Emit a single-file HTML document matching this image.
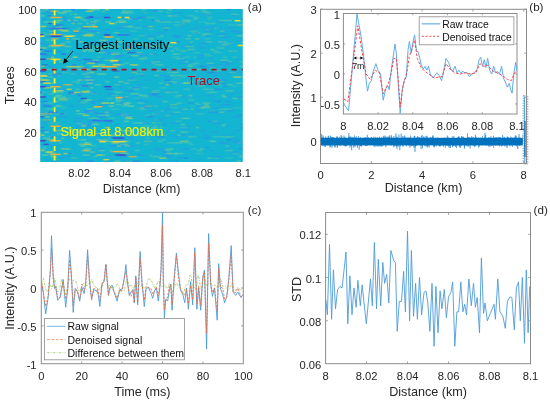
<!DOCTYPE html>
<html><head><meta charset="utf-8"><style>
html,body{margin:0;padding:0;background:#fff;overflow:hidden}
svg{display:block;will-change:transform}
text{font-family:"Liberation Sans",sans-serif}
</style></head><body>
<svg width="550" height="401" viewBox="0 0 550 401">
<rect width="550" height="401" fill="#fff"/>
<rect x="40.2" y="9.0" width="202.60" height="153.00" fill="#12b6d0"/>
<defs><linearGradient id="sb"><stop offset="0" stop-color="#2a96e8" stop-opacity="0"/><stop offset=".25" stop-color="#2a96e8"/><stop offset=".75" stop-color="#2a96e8"/><stop offset="1" stop-color="#2a96e8" stop-opacity="0"/></linearGradient><linearGradient id="sg"><stop offset="0" stop-color="#66c8a0" stop-opacity="0"/><stop offset=".25" stop-color="#66c8a0"/><stop offset=".75" stop-color="#66c8a0"/><stop offset="1" stop-color="#66c8a0" stop-opacity="0"/></linearGradient><linearGradient id="b"><stop offset="0" stop-color="#2f78e4" stop-opacity="0"/><stop offset=".25" stop-color="#2f78e4"/><stop offset=".75" stop-color="#2f78e4"/><stop offset="1" stop-color="#2f78e4" stop-opacity="0"/></linearGradient><linearGradient id="d"><stop offset="0" stop-color="#3c4cc8" stop-opacity="0"/><stop offset=".25" stop-color="#3c4cc8"/><stop offset=".75" stop-color="#3c4cc8"/><stop offset="1" stop-color="#3c4cc8" stop-opacity="0"/></linearGradient><linearGradient id="g"><stop offset="0" stop-color="#9cc868" stop-opacity="0"/><stop offset=".25" stop-color="#9cc868"/><stop offset=".75" stop-color="#9cc868"/><stop offset="1" stop-color="#9cc868" stop-opacity="0"/></linearGradient><linearGradient id="y"><stop offset="0" stop-color="#efd834" stop-opacity="0"/><stop offset=".25" stop-color="#efd834"/><stop offset=".75" stop-color="#efd834"/><stop offset="1" stop-color="#efd834" stop-opacity="0"/></linearGradient><linearGradient id="o"><stop offset="0" stop-color="#eab23c" stop-opacity="0"/><stop offset=".25" stop-color="#eab23c"/><stop offset=".75" stop-color="#eab23c"/><stop offset="1" stop-color="#eab23c" stop-opacity="0"/></linearGradient><clipPath id="ca"><rect x="40.2" y="9.0" width="202.60" height="153.00"/></clipPath></defs>
<g clip-path="url(#ca)">
<rect x="96.8" y="9.00" width="4.0" height="1.53" fill="url(#sg)" opacity="0.79"/>
<rect x="200.5" y="9.00" width="6.4" height="1.53" fill="url(#sg)" opacity="0.40"/>
<rect x="87.4" y="9.00" width="8.0" height="1.53" fill="url(#sg)" opacity="0.63"/>
<rect x="241.9" y="9.00" width="9.0" height="1.53" fill="url(#sg)" opacity="0.65"/>
<rect x="79.1" y="9.00" width="8.9" height="1.53" fill="url(#sb)" opacity="0.33"/>
<rect x="41.6" y="9.00" width="7.7" height="1.53" fill="url(#sg)" opacity="0.85"/>
<rect x="165.5" y="9.00" width="8.0" height="1.53" fill="url(#sg)" opacity="0.39"/>
<rect x="36.7" y="9.00" width="9.5" height="1.53" fill="url(#sb)" opacity="0.42"/>
<rect x="111.3" y="9.00" width="10.6" height="1.53" fill="url(#sb)" opacity="0.39"/>
<rect x="90.0" y="9.00" width="8.1" height="1.53" fill="url(#sg)" opacity="0.81"/>
<rect x="167.6" y="9.00" width="4.7" height="1.53" fill="url(#sg)" opacity="0.49"/>
<rect x="140.1" y="9.00" width="6.9" height="1.53" fill="url(#sg)" opacity="0.51"/>
<rect x="46.6" y="9.00" width="6.6" height="1.53" fill="url(#sb)" opacity="0.39"/>
<rect x="104.3" y="9.00" width="5.2" height="1.53" fill="url(#g)" opacity="0.77"/>
<rect x="70.5" y="9.00" width="4.8" height="1.53" fill="url(#b)" opacity="0.66"/>
<rect x="225.7" y="9.00" width="6.4" height="1.53" fill="url(#b)" opacity="0.50"/>
<rect x="61.7" y="10.53" width="11.6" height="1.53" fill="url(#sg)" opacity="0.84"/>
<rect x="153.0" y="10.53" width="5.5" height="1.53" fill="url(#sb)" opacity="0.62"/>
<rect x="149.4" y="10.53" width="11.1" height="1.53" fill="url(#sb)" opacity="0.52"/>
<rect x="153.0" y="10.53" width="7.3" height="1.53" fill="url(#sb)" opacity="0.38"/>
<rect x="42.1" y="10.53" width="7.7" height="1.53" fill="url(#sg)" opacity="0.63"/>
<rect x="101.4" y="10.53" width="4.2" height="1.53" fill="url(#sg)" opacity="0.52"/>
<rect x="40.5" y="10.53" width="11.7" height="1.53" fill="url(#sb)" opacity="0.69"/>
<rect x="123.5" y="10.53" width="11.0" height="1.53" fill="url(#sg)" opacity="0.51"/>
<rect x="157.3" y="10.53" width="6.8" height="1.53" fill="url(#sg)" opacity="0.48"/>
<rect x="193.8" y="10.53" width="5.2" height="1.53" fill="url(#sg)" opacity="0.63"/>
<rect x="35.3" y="10.53" width="10.5" height="1.53" fill="url(#sg)" opacity="0.38"/>
<rect x="121.6" y="10.53" width="4.1" height="1.53" fill="url(#sg)" opacity="0.68"/>
<rect x="199.6" y="10.53" width="9.8" height="1.53" fill="url(#sg)" opacity="0.38"/>
<rect x="75.6" y="10.53" width="5.4" height="1.53" fill="url(#sb)" opacity="0.51"/>
<rect x="48.7" y="10.53" width="11.8" height="1.53" fill="url(#o)" opacity="0.68"/>
<rect x="84.4" y="10.53" width="9.9" height="1.53" fill="url(#g)" opacity="0.86"/>
<rect x="217.4" y="12.06" width="11.4" height="1.53" fill="url(#sb)" opacity="0.32"/>
<rect x="123.9" y="12.06" width="11.6" height="1.53" fill="url(#sg)" opacity="0.45"/>
<rect x="202.3" y="12.06" width="9.7" height="1.53" fill="url(#sg)" opacity="0.52"/>
<rect x="236.9" y="12.06" width="7.2" height="1.53" fill="url(#sb)" opacity="0.37"/>
<rect x="44.8" y="12.06" width="11.3" height="1.53" fill="url(#sb)" opacity="0.80"/>
<rect x="57.6" y="12.06" width="7.8" height="1.53" fill="url(#sg)" opacity="0.66"/>
<rect x="171.7" y="12.06" width="11.7" height="1.53" fill="url(#sb)" opacity="0.46"/>
<rect x="165.2" y="12.06" width="5.5" height="1.53" fill="url(#sg)" opacity="0.32"/>
<rect x="120.0" y="12.06" width="10.5" height="1.53" fill="url(#sg)" opacity="0.74"/>
<rect x="57.8" y="12.06" width="10.4" height="1.53" fill="url(#sg)" opacity="0.83"/>
<rect x="143.4" y="12.06" width="4.4" height="1.53" fill="url(#sg)" opacity="0.31"/>
<rect x="73.3" y="13.59" width="4.3" height="1.53" fill="url(#sg)" opacity="0.65"/>
<rect x="68.8" y="13.59" width="4.2" height="1.53" fill="url(#sg)" opacity="0.49"/>
<rect x="229.9" y="13.59" width="10.5" height="1.53" fill="url(#sg)" opacity="0.53"/>
<rect x="161.6" y="13.59" width="8.6" height="1.53" fill="url(#sb)" opacity="0.31"/>
<rect x="201.4" y="13.59" width="10.8" height="1.53" fill="url(#sg)" opacity="0.32"/>
<rect x="104.8" y="13.59" width="4.9" height="1.53" fill="url(#sb)" opacity="0.68"/>
<rect x="200.5" y="13.59" width="10.9" height="1.53" fill="url(#sb)" opacity="0.58"/>
<rect x="167.4" y="15.12" width="4.8" height="1.53" fill="url(#sg)" opacity="0.53"/>
<rect x="166.0" y="15.12" width="10.4" height="1.53" fill="url(#sg)" opacity="0.41"/>
<rect x="184.8" y="15.12" width="11.1" height="1.53" fill="url(#sg)" opacity="0.36"/>
<rect x="39.8" y="15.12" width="5.7" height="1.53" fill="url(#sg)" opacity="0.64"/>
<rect x="231.3" y="15.12" width="6.0" height="1.53" fill="url(#sb)" opacity="0.46"/>
<rect x="171.3" y="15.12" width="7.0" height="1.53" fill="url(#sb)" opacity="0.35"/>
<rect x="172.4" y="15.12" width="7.0" height="1.53" fill="url(#sg)" opacity="0.43"/>
<rect x="46.6" y="15.12" width="4.7" height="1.53" fill="url(#b)" opacity="0.68"/>
<rect x="96.7" y="16.65" width="10.1" height="1.53" fill="url(#sb)" opacity="0.38"/>
<rect x="62.0" y="16.65" width="4.7" height="1.53" fill="url(#sb)" opacity="0.84"/>
<rect x="90.4" y="16.65" width="10.7" height="1.53" fill="url(#sb)" opacity="0.67"/>
<rect x="73.2" y="16.65" width="11.1" height="1.53" fill="url(#sg)" opacity="0.53"/>
<rect x="182.5" y="16.65" width="9.8" height="1.53" fill="url(#sb)" opacity="0.57"/>
<rect x="206.5" y="16.65" width="7.0" height="1.53" fill="url(#sg)" opacity="0.32"/>
<rect x="142.4" y="16.65" width="5.5" height="1.53" fill="url(#sg)" opacity="0.39"/>
<rect x="146.0" y="16.65" width="11.2" height="1.53" fill="url(#sg)" opacity="0.34"/>
<rect x="72.6" y="16.65" width="9.2" height="1.53" fill="url(#sg)" opacity="0.73"/>
<rect x="242.1" y="16.65" width="10.7" height="1.53" fill="url(#sg)" opacity="0.57"/>
<rect x="116.6" y="16.65" width="5.5" height="1.53" fill="url(#sg)" opacity="0.76"/>
<rect x="192.3" y="16.65" width="7.6" height="1.53" fill="url(#sg)" opacity="0.43"/>
<rect x="121.8" y="16.65" width="10.8" height="1.53" fill="url(#sb)" opacity="0.63"/>
<rect x="136.0" y="16.65" width="11.4" height="1.53" fill="url(#b)" opacity="0.55"/>
<rect x="192.8" y="18.18" width="5.2" height="1.53" fill="url(#sg)" opacity="0.55"/>
<rect x="206.4" y="18.18" width="5.0" height="1.53" fill="url(#sg)" opacity="0.33"/>
<rect x="240.3" y="18.18" width="5.4" height="1.53" fill="url(#sb)" opacity="0.50"/>
<rect x="127.3" y="18.18" width="5.5" height="1.53" fill="url(#sg)" opacity="0.85"/>
<rect x="79.5" y="18.18" width="4.5" height="1.53" fill="url(#sg)" opacity="0.58"/>
<rect x="41.0" y="18.18" width="6.5" height="1.53" fill="url(#sb)" opacity="0.73"/>
<rect x="129.1" y="18.18" width="12.0" height="1.53" fill="url(#sb)" opacity="0.83"/>
<rect x="225.3" y="18.18" width="7.2" height="1.53" fill="url(#sb)" opacity="0.38"/>
<rect x="60.3" y="18.18" width="8.0" height="1.53" fill="url(#sb)" opacity="0.37"/>
<rect x="72.5" y="19.71" width="6.1" height="1.53" fill="url(#sg)" opacity="0.62"/>
<rect x="93.2" y="19.71" width="9.0" height="1.53" fill="url(#sg)" opacity="0.62"/>
<rect x="116.7" y="19.71" width="11.0" height="1.53" fill="url(#sg)" opacity="0.41"/>
<rect x="62.6" y="19.71" width="11.8" height="1.53" fill="url(#sb)" opacity="0.86"/>
<rect x="82.3" y="19.71" width="5.7" height="1.53" fill="url(#sg)" opacity="0.60"/>
<rect x="138.0" y="19.71" width="4.3" height="1.53" fill="url(#sg)" opacity="0.41"/>
<rect x="159.4" y="19.71" width="5.9" height="1.53" fill="url(#sb)" opacity="0.46"/>
<rect x="217.9" y="19.71" width="10.6" height="1.53" fill="url(#sg)" opacity="0.57"/>
<rect x="181.8" y="19.71" width="9.5" height="1.53" fill="url(#sg)" opacity="0.56"/>
<rect x="97.1" y="19.71" width="10.1" height="1.53" fill="url(#sb)" opacity="0.40"/>
<rect x="226.0" y="19.71" width="6.6" height="1.53" fill="url(#sg)" opacity="0.63"/>
<rect x="66.6" y="19.71" width="4.7" height="1.53" fill="url(#sg)" opacity="0.88"/>
<rect x="154.2" y="19.71" width="6.3" height="1.53" fill="url(#sg)" opacity="0.58"/>
<rect x="180.8" y="19.71" width="11.6" height="1.53" fill="url(#sg)" opacity="0.45"/>
<rect x="55.5" y="19.71" width="8.4" height="1.53" fill="url(#g)" opacity="0.58"/>
<rect x="150.9" y="19.71" width="4.1" height="1.53" fill="url(#b)" opacity="0.52"/>
<rect x="119.5" y="21.24" width="8.2" height="1.53" fill="url(#sg)" opacity="0.74"/>
<rect x="51.9" y="21.24" width="8.5" height="1.53" fill="url(#sg)" opacity="0.86"/>
<rect x="42.5" y="21.24" width="9.0" height="1.53" fill="url(#sg)" opacity="0.63"/>
<rect x="49.7" y="21.24" width="5.8" height="1.53" fill="url(#sg)" opacity="0.42"/>
<rect x="217.5" y="21.24" width="7.6" height="1.53" fill="url(#sb)" opacity="0.56"/>
<rect x="181.7" y="21.24" width="10.5" height="1.53" fill="url(#sg)" opacity="0.46"/>
<rect x="163.6" y="21.24" width="9.4" height="1.53" fill="url(#sg)" opacity="0.52"/>
<rect x="118.9" y="21.24" width="7.2" height="1.53" fill="url(#sg)" opacity="0.75"/>
<rect x="113.6" y="21.24" width="10.0" height="1.53" fill="url(#sg)" opacity="0.60"/>
<rect x="104.7" y="21.24" width="7.0" height="1.53" fill="url(#sg)" opacity="0.81"/>
<rect x="198.0" y="21.24" width="9.7" height="1.53" fill="url(#sg)" opacity="0.31"/>
<rect x="115.5" y="21.24" width="8.6" height="1.53" fill="url(#sg)" opacity="0.63"/>
<rect x="172.9" y="21.24" width="8.7" height="1.53" fill="url(#sg)" opacity="0.45"/>
<rect x="72.5" y="21.24" width="6.3" height="1.53" fill="url(#sb)" opacity="0.56"/>
<rect x="242.6" y="21.24" width="7.6" height="1.53" fill="url(#sb)" opacity="0.43"/>
<rect x="155.5" y="21.24" width="11.1" height="1.53" fill="url(#sg)" opacity="0.43"/>
<rect x="89.9" y="21.24" width="8.0" height="1.53" fill="url(#sg)" opacity="0.71"/>
<rect x="49.5" y="21.24" width="6.5" height="1.53" fill="url(#sg)" opacity="0.60"/>
<rect x="206.8" y="22.77" width="10.1" height="1.53" fill="url(#sg)" opacity="0.46"/>
<rect x="112.1" y="22.77" width="5.6" height="1.53" fill="url(#sg)" opacity="0.49"/>
<rect x="181.6" y="22.77" width="4.5" height="1.53" fill="url(#sg)" opacity="0.56"/>
<rect x="204.7" y="22.77" width="4.5" height="1.53" fill="url(#sg)" opacity="0.54"/>
<rect x="85.5" y="22.77" width="7.0" height="1.53" fill="url(#sg)" opacity="0.68"/>
<rect x="88.0" y="22.77" width="8.2" height="1.53" fill="url(#sg)" opacity="0.68"/>
<rect x="76.6" y="22.77" width="6.3" height="1.53" fill="url(#sg)" opacity="0.48"/>
<rect x="87.7" y="22.77" width="7.4" height="1.53" fill="url(#sb)" opacity="0.76"/>
<rect x="182.2" y="22.77" width="5.1" height="1.53" fill="url(#sb)" opacity="0.41"/>
<rect x="108.2" y="22.77" width="6.8" height="1.53" fill="url(#y)" opacity="0.80"/>
<rect x="47.4" y="22.77" width="5.1" height="1.53" fill="url(#d)" opacity="0.70"/>
<rect x="70.7" y="22.77" width="5.1" height="1.53" fill="url(#g)" opacity="0.55"/>
<rect x="234.8" y="24.30" width="5.5" height="1.53" fill="url(#sb)" opacity="0.36"/>
<rect x="133.1" y="24.30" width="7.7" height="1.53" fill="url(#sb)" opacity="0.36"/>
<rect x="90.4" y="24.30" width="5.5" height="1.53" fill="url(#sg)" opacity="0.67"/>
<rect x="119.0" y="24.30" width="10.5" height="1.53" fill="url(#sb)" opacity="0.40"/>
<rect x="226.9" y="24.30" width="9.3" height="1.53" fill="url(#sg)" opacity="0.32"/>
<rect x="172.6" y="24.30" width="10.2" height="1.53" fill="url(#sg)" opacity="0.37"/>
<rect x="53.2" y="24.30" width="11.3" height="1.53" fill="url(#b)" opacity="0.83"/>
<rect x="235.3" y="24.30" width="9.4" height="1.53" fill="url(#g)" opacity="0.50"/>
<rect x="141.2" y="25.83" width="9.8" height="1.53" fill="url(#sb)" opacity="0.54"/>
<rect x="122.0" y="25.83" width="10.0" height="1.53" fill="url(#sg)" opacity="0.50"/>
<rect x="50.4" y="25.83" width="5.5" height="1.53" fill="url(#sb)" opacity="0.48"/>
<rect x="127.6" y="25.83" width="6.2" height="1.53" fill="url(#sg)" opacity="0.84"/>
<rect x="176.1" y="25.83" width="7.2" height="1.53" fill="url(#sg)" opacity="0.30"/>
<rect x="198.4" y="25.83" width="5.1" height="1.53" fill="url(#sb)" opacity="0.58"/>
<rect x="177.4" y="25.83" width="6.1" height="1.53" fill="url(#sb)" opacity="0.63"/>
<rect x="90.2" y="25.83" width="5.0" height="1.53" fill="url(#sg)" opacity="0.79"/>
<rect x="58.7" y="25.83" width="4.3" height="1.53" fill="url(#sg)" opacity="0.63"/>
<rect x="210.8" y="25.83" width="6.2" height="1.53" fill="url(#sb)" opacity="0.57"/>
<rect x="161.0" y="25.83" width="9.0" height="1.53" fill="url(#sb)" opacity="0.46"/>
<rect x="147.2" y="25.83" width="7.0" height="1.53" fill="url(#g)" opacity="0.52"/>
<rect x="115.0" y="27.36" width="11.7" height="1.53" fill="url(#sb)" opacity="0.73"/>
<rect x="76.9" y="27.36" width="6.2" height="1.53" fill="url(#sg)" opacity="0.58"/>
<rect x="213.6" y="27.36" width="6.3" height="1.53" fill="url(#sg)" opacity="0.41"/>
<rect x="50.3" y="27.36" width="6.2" height="1.53" fill="url(#sb)" opacity="0.40"/>
<rect x="47.4" y="27.36" width="5.7" height="1.53" fill="url(#sg)" opacity="0.74"/>
<rect x="226.6" y="27.36" width="8.6" height="1.53" fill="url(#sb)" opacity="0.48"/>
<rect x="49.9" y="27.36" width="11.1" height="1.53" fill="url(#sb)" opacity="0.58"/>
<rect x="202.0" y="27.36" width="8.8" height="1.53" fill="url(#sb)" opacity="0.60"/>
<rect x="215.1" y="27.36" width="8.2" height="1.53" fill="url(#sb)" opacity="0.43"/>
<rect x="192.7" y="27.36" width="6.1" height="1.53" fill="url(#sb)" opacity="0.58"/>
<rect x="132.1" y="27.36" width="11.7" height="1.53" fill="url(#sg)" opacity="0.41"/>
<rect x="42.9" y="27.36" width="5.2" height="1.53" fill="url(#sb)" opacity="0.35"/>
<rect x="54.1" y="27.36" width="8.7" height="1.53" fill="url(#g)" opacity="0.80"/>
<rect x="162.2" y="27.36" width="8.7" height="1.53" fill="url(#g)" opacity="0.36"/>
<rect x="79.6" y="27.36" width="10.5" height="1.53" fill="url(#b)" opacity="0.75"/>
<rect x="187.2" y="28.89" width="6.2" height="1.53" fill="url(#sb)" opacity="0.43"/>
<rect x="147.2" y="28.89" width="8.5" height="1.53" fill="url(#sg)" opacity="0.34"/>
<rect x="204.8" y="28.89" width="4.8" height="1.53" fill="url(#sg)" opacity="0.39"/>
<rect x="70.4" y="28.89" width="11.3" height="1.53" fill="url(#sg)" opacity="0.33"/>
<rect x="103.5" y="28.89" width="7.8" height="1.53" fill="url(#sb)" opacity="0.85"/>
<rect x="48.8" y="28.89" width="7.9" height="1.53" fill="url(#sb)" opacity="0.61"/>
<rect x="57.8" y="28.89" width="4.9" height="1.53" fill="url(#o)" opacity="0.80"/>
<rect x="164.0" y="28.89" width="4.1" height="1.53" fill="url(#b)" opacity="0.53"/>
<rect x="129.3" y="30.42" width="8.1" height="1.53" fill="url(#sg)" opacity="0.40"/>
<rect x="63.2" y="30.42" width="4.4" height="1.53" fill="url(#sb)" opacity="0.43"/>
<rect x="61.3" y="30.42" width="6.9" height="1.53" fill="url(#sg)" opacity="0.65"/>
<rect x="92.8" y="30.42" width="6.6" height="1.53" fill="url(#sb)" opacity="0.75"/>
<rect x="87.6" y="30.42" width="10.0" height="1.53" fill="url(#sb)" opacity="0.54"/>
<rect x="219.3" y="30.42" width="6.5" height="1.53" fill="url(#sg)" opacity="0.56"/>
<rect x="87.0" y="30.42" width="7.5" height="1.53" fill="url(#sb)" opacity="0.66"/>
<rect x="229.4" y="30.42" width="9.7" height="1.53" fill="url(#sb)" opacity="0.47"/>
<rect x="61.7" y="30.42" width="9.6" height="1.53" fill="url(#sg)" opacity="0.38"/>
<rect x="223.1" y="30.42" width="4.7" height="1.53" fill="url(#sb)" opacity="0.42"/>
<rect x="229.9" y="30.42" width="11.3" height="1.53" fill="url(#sb)" opacity="0.51"/>
<rect x="48.2" y="30.42" width="7.7" height="1.53" fill="url(#sg)" opacity="0.64"/>
<rect x="188.0" y="30.42" width="12.0" height="1.53" fill="url(#sg)" opacity="0.35"/>
<rect x="203.8" y="30.42" width="10.3" height="1.53" fill="url(#sb)" opacity="0.61"/>
<rect x="72.7" y="30.42" width="7.0" height="1.53" fill="url(#o)" opacity="0.88"/>
<rect x="112.4" y="31.95" width="7.8" height="1.53" fill="url(#sg)" opacity="0.57"/>
<rect x="114.7" y="31.95" width="5.1" height="1.53" fill="url(#sg)" opacity="0.34"/>
<rect x="191.5" y="31.95" width="9.4" height="1.53" fill="url(#sg)" opacity="0.58"/>
<rect x="82.2" y="31.95" width="6.2" height="1.53" fill="url(#sb)" opacity="0.48"/>
<rect x="192.9" y="31.95" width="6.6" height="1.53" fill="url(#sb)" opacity="0.52"/>
<rect x="73.1" y="31.95" width="9.6" height="1.53" fill="url(#sb)" opacity="0.75"/>
<rect x="96.0" y="31.95" width="4.3" height="1.53" fill="url(#sg)" opacity="0.54"/>
<rect x="154.8" y="31.95" width="6.8" height="1.53" fill="url(#sb)" opacity="0.51"/>
<rect x="157.3" y="31.95" width="9.7" height="1.53" fill="url(#sb)" opacity="0.33"/>
<rect x="236.5" y="31.95" width="6.0" height="1.53" fill="url(#sb)" opacity="0.37"/>
<rect x="241.0" y="31.95" width="8.8" height="1.53" fill="url(#sb)" opacity="0.65"/>
<rect x="232.4" y="31.95" width="8.2" height="1.53" fill="url(#sb)" opacity="0.51"/>
<rect x="180.7" y="31.95" width="6.6" height="1.53" fill="url(#sb)" opacity="0.30"/>
<rect x="41.6" y="31.95" width="4.6" height="1.53" fill="url(#sg)" opacity="0.42"/>
<rect x="103.7" y="31.95" width="4.2" height="1.53" fill="url(#sb)" opacity="0.86"/>
<rect x="125.0" y="31.95" width="9.7" height="1.53" fill="url(#sb)" opacity="0.31"/>
<rect x="100.5" y="33.48" width="5.8" height="1.53" fill="url(#sb)" opacity="0.32"/>
<rect x="60.5" y="33.48" width="4.8" height="1.53" fill="url(#sg)" opacity="0.39"/>
<rect x="222.5" y="33.48" width="6.7" height="1.53" fill="url(#sb)" opacity="0.33"/>
<rect x="200.2" y="33.48" width="8.4" height="1.53" fill="url(#sg)" opacity="0.52"/>
<rect x="55.1" y="33.48" width="8.7" height="1.53" fill="url(#sb)" opacity="0.87"/>
<rect x="204.7" y="33.48" width="8.2" height="1.53" fill="url(#sg)" opacity="0.31"/>
<rect x="220.0" y="33.48" width="5.0" height="1.53" fill="url(#sb)" opacity="0.54"/>
<rect x="203.6" y="33.48" width="7.6" height="1.53" fill="url(#sg)" opacity="0.36"/>
<rect x="41.6" y="33.48" width="11.8" height="1.53" fill="url(#sg)" opacity="0.45"/>
<rect x="214.9" y="33.48" width="6.5" height="1.53" fill="url(#sb)" opacity="0.48"/>
<rect x="35.9" y="33.48" width="5.6" height="1.53" fill="url(#sg)" opacity="0.73"/>
<rect x="49.6" y="33.48" width="4.8" height="1.53" fill="url(#o)" opacity="0.70"/>
<rect x="37.4" y="33.48" width="4.4" height="1.53" fill="url(#o)" opacity="0.73"/>
<rect x="83.5" y="33.48" width="11.6" height="1.53" fill="url(#g)" opacity="0.67"/>
<rect x="65.8" y="35.01" width="10.7" height="1.53" fill="url(#sb)" opacity="0.67"/>
<rect x="186.4" y="35.01" width="5.7" height="1.53" fill="url(#sg)" opacity="0.59"/>
<rect x="37.1" y="35.01" width="5.6" height="1.53" fill="url(#sg)" opacity="0.58"/>
<rect x="237.6" y="35.01" width="4.5" height="1.53" fill="url(#sg)" opacity="0.45"/>
<rect x="171.9" y="35.01" width="6.0" height="1.53" fill="url(#sb)" opacity="0.31"/>
<rect x="146.9" y="35.01" width="8.0" height="1.53" fill="url(#sb)" opacity="0.40"/>
<rect x="171.2" y="35.01" width="11.3" height="1.53" fill="url(#sb)" opacity="0.64"/>
<rect x="137.0" y="35.01" width="10.9" height="1.53" fill="url(#sg)" opacity="0.40"/>
<rect x="201.7" y="35.01" width="9.8" height="1.53" fill="url(#sb)" opacity="0.42"/>
<rect x="159.9" y="35.01" width="4.4" height="1.53" fill="url(#sg)" opacity="0.58"/>
<rect x="147.2" y="35.01" width="6.8" height="1.53" fill="url(#sb)" opacity="0.32"/>
<rect x="88.1" y="35.01" width="4.8" height="1.53" fill="url(#sg)" opacity="0.70"/>
<rect x="234.9" y="35.01" width="11.1" height="1.53" fill="url(#sg)" opacity="0.58"/>
<rect x="71.3" y="35.01" width="5.6" height="1.53" fill="url(#sg)" opacity="0.82"/>
<rect x="217.3" y="35.01" width="8.2" height="1.53" fill="url(#sg)" opacity="0.37"/>
<rect x="142.6" y="35.01" width="5.0" height="1.53" fill="url(#sb)" opacity="0.34"/>
<rect x="201.3" y="35.01" width="5.1" height="1.53" fill="url(#sg)" opacity="0.30"/>
<rect x="155.9" y="36.54" width="7.4" height="1.53" fill="url(#sg)" opacity="0.37"/>
<rect x="172.8" y="36.54" width="7.2" height="1.53" fill="url(#sb)" opacity="0.46"/>
<rect x="222.9" y="36.54" width="9.7" height="1.53" fill="url(#sb)" opacity="0.41"/>
<rect x="220.8" y="36.54" width="8.0" height="1.53" fill="url(#sb)" opacity="0.61"/>
<rect x="174.5" y="36.54" width="5.1" height="1.53" fill="url(#sb)" opacity="0.65"/>
<rect x="40.3" y="36.54" width="11.7" height="1.53" fill="url(#sb)" opacity="0.31"/>
<rect x="132.7" y="38.07" width="6.5" height="1.53" fill="url(#sg)" opacity="0.34"/>
<rect x="203.4" y="38.07" width="8.5" height="1.53" fill="url(#sg)" opacity="0.35"/>
<rect x="147.2" y="38.07" width="7.4" height="1.53" fill="url(#sg)" opacity="0.60"/>
<rect x="115.6" y="38.07" width="4.9" height="1.53" fill="url(#sg)" opacity="0.64"/>
<rect x="194.1" y="38.07" width="6.1" height="1.53" fill="url(#sg)" opacity="0.65"/>
<rect x="184.4" y="38.07" width="7.3" height="1.53" fill="url(#sg)" opacity="0.57"/>
<rect x="70.8" y="38.07" width="9.8" height="1.53" fill="url(#sg)" opacity="0.61"/>
<rect x="50.0" y="38.07" width="9.6" height="1.53" fill="url(#o)" opacity="0.63"/>
<rect x="65.6" y="38.07" width="4.2" height="1.53" fill="url(#o)" opacity="0.88"/>
<rect x="44.5" y="39.60" width="5.5" height="1.53" fill="url(#sg)" opacity="0.52"/>
<rect x="97.8" y="39.60" width="10.6" height="1.53" fill="url(#sg)" opacity="0.86"/>
<rect x="102.8" y="39.60" width="4.0" height="1.53" fill="url(#sg)" opacity="0.52"/>
<rect x="234.6" y="39.60" width="11.0" height="1.53" fill="url(#sb)" opacity="0.53"/>
<rect x="50.4" y="39.60" width="5.0" height="1.53" fill="url(#y)" opacity="0.53"/>
<rect x="65.0" y="41.13" width="6.4" height="1.53" fill="url(#sg)" opacity="0.63"/>
<rect x="189.3" y="41.13" width="4.5" height="1.53" fill="url(#sg)" opacity="0.51"/>
<rect x="239.4" y="41.13" width="10.2" height="1.53" fill="url(#sg)" opacity="0.33"/>
<rect x="216.4" y="41.13" width="11.1" height="1.53" fill="url(#sg)" opacity="0.58"/>
<rect x="215.5" y="41.13" width="9.7" height="1.53" fill="url(#sb)" opacity="0.37"/>
<rect x="89.6" y="41.13" width="8.7" height="1.53" fill="url(#sb)" opacity="0.68"/>
<rect x="228.5" y="41.13" width="5.5" height="1.53" fill="url(#sb)" opacity="0.43"/>
<rect x="204.8" y="41.13" width="8.1" height="1.53" fill="url(#sg)" opacity="0.57"/>
<rect x="170.8" y="41.13" width="4.7" height="1.53" fill="url(#sb)" opacity="0.46"/>
<rect x="217.8" y="41.13" width="4.4" height="1.53" fill="url(#sg)" opacity="0.45"/>
<rect x="114.4" y="41.13" width="8.7" height="1.53" fill="url(#sg)" opacity="0.87"/>
<rect x="104.7" y="41.13" width="8.9" height="1.53" fill="url(#sb)" opacity="0.83"/>
<rect x="78.5" y="41.13" width="5.0" height="1.53" fill="url(#o)" opacity="0.61"/>
<rect x="171.8" y="41.13" width="8.9" height="1.53" fill="url(#b)" opacity="0.55"/>
<rect x="198.2" y="42.66" width="11.7" height="1.53" fill="url(#sb)" opacity="0.61"/>
<rect x="97.4" y="42.66" width="11.1" height="1.53" fill="url(#sb)" opacity="0.59"/>
<rect x="60.2" y="42.66" width="6.0" height="1.53" fill="url(#sg)" opacity="0.54"/>
<rect x="167.8" y="42.66" width="10.4" height="1.53" fill="url(#sg)" opacity="0.36"/>
<rect x="133.8" y="42.66" width="11.9" height="1.53" fill="url(#sg)" opacity="0.33"/>
<rect x="140.7" y="42.66" width="7.2" height="1.53" fill="url(#sg)" opacity="0.39"/>
<rect x="150.2" y="42.66" width="11.4" height="1.53" fill="url(#sb)" opacity="0.33"/>
<rect x="77.3" y="42.66" width="9.7" height="1.53" fill="url(#sb)" opacity="0.48"/>
<rect x="222.0" y="42.66" width="11.5" height="1.53" fill="url(#sg)" opacity="0.39"/>
<rect x="34.3" y="42.66" width="11.7" height="1.53" fill="url(#sb)" opacity="0.76"/>
<rect x="185.9" y="44.19" width="7.1" height="1.53" fill="url(#sb)" opacity="0.65"/>
<rect x="151.0" y="44.19" width="11.6" height="1.53" fill="url(#sg)" opacity="0.40"/>
<rect x="242.7" y="44.19" width="6.9" height="1.53" fill="url(#sg)" opacity="0.41"/>
<rect x="60.6" y="44.19" width="5.5" height="1.53" fill="url(#sg)" opacity="0.31"/>
<rect x="219.9" y="44.19" width="9.4" height="1.53" fill="url(#sg)" opacity="0.56"/>
<rect x="43.1" y="44.19" width="8.0" height="1.53" fill="url(#sb)" opacity="0.33"/>
<rect x="139.4" y="44.19" width="9.3" height="1.53" fill="url(#sg)" opacity="0.52"/>
<rect x="43.9" y="44.19" width="11.2" height="1.53" fill="url(#sb)" opacity="0.37"/>
<rect x="145.4" y="44.19" width="11.5" height="1.53" fill="url(#sb)" opacity="0.36"/>
<rect x="135.1" y="44.19" width="6.8" height="1.53" fill="url(#y)" opacity="0.52"/>
<rect x="195.8" y="45.72" width="7.7" height="1.53" fill="url(#sb)" opacity="0.48"/>
<rect x="162.4" y="45.72" width="9.5" height="1.53" fill="url(#sg)" opacity="0.44"/>
<rect x="183.4" y="45.72" width="7.3" height="1.53" fill="url(#sg)" opacity="0.43"/>
<rect x="137.1" y="45.72" width="5.9" height="1.53" fill="url(#sb)" opacity="0.35"/>
<rect x="126.0" y="45.72" width="10.7" height="1.53" fill="url(#sb)" opacity="0.81"/>
<rect x="105.9" y="45.72" width="11.2" height="1.53" fill="url(#sg)" opacity="0.52"/>
<rect x="149.9" y="45.72" width="9.2" height="1.53" fill="url(#sg)" opacity="0.64"/>
<rect x="63.1" y="45.72" width="9.3" height="1.53" fill="url(#sg)" opacity="0.78"/>
<rect x="166.7" y="45.72" width="6.6" height="1.53" fill="url(#sg)" opacity="0.55"/>
<rect x="89.3" y="45.72" width="9.5" height="1.53" fill="url(#sg)" opacity="0.42"/>
<rect x="47.0" y="45.72" width="10.5" height="1.53" fill="url(#sg)" opacity="0.70"/>
<rect x="101.3" y="45.72" width="4.7" height="1.53" fill="url(#sg)" opacity="0.70"/>
<rect x="154.4" y="45.72" width="7.6" height="1.53" fill="url(#sg)" opacity="0.38"/>
<rect x="185.6" y="45.72" width="10.0" height="1.53" fill="url(#sg)" opacity="0.43"/>
<rect x="52.5" y="45.72" width="9.0" height="1.53" fill="url(#sg)" opacity="0.85"/>
<rect x="219.4" y="45.72" width="10.2" height="1.53" fill="url(#sb)" opacity="0.39"/>
<rect x="179.6" y="45.72" width="6.6" height="1.53" fill="url(#sb)" opacity="0.47"/>
<rect x="144.9" y="45.72" width="9.1" height="1.53" fill="url(#sg)" opacity="0.54"/>
<rect x="114.3" y="45.72" width="6.8" height="1.53" fill="url(#sg)" opacity="0.66"/>
<rect x="130.1" y="45.72" width="4.1" height="1.53" fill="url(#sg)" opacity="0.47"/>
<rect x="171.2" y="47.25" width="6.8" height="1.53" fill="url(#sg)" opacity="0.34"/>
<rect x="163.6" y="47.25" width="11.1" height="1.53" fill="url(#sb)" opacity="0.34"/>
<rect x="109.7" y="47.25" width="4.9" height="1.53" fill="url(#sg)" opacity="0.49"/>
<rect x="91.6" y="47.25" width="11.9" height="1.53" fill="url(#sg)" opacity="0.52"/>
<rect x="199.1" y="47.25" width="8.6" height="1.53" fill="url(#sb)" opacity="0.45"/>
<rect x="94.3" y="47.25" width="10.0" height="1.53" fill="url(#sg)" opacity="0.38"/>
<rect x="95.2" y="47.25" width="11.9" height="1.53" fill="url(#sg)" opacity="0.67"/>
<rect x="216.0" y="47.25" width="9.9" height="1.53" fill="url(#sg)" opacity="0.53"/>
<rect x="80.4" y="47.25" width="9.0" height="1.53" fill="url(#sb)" opacity="0.86"/>
<rect x="37.2" y="47.25" width="10.4" height="1.53" fill="url(#g)" opacity="0.68"/>
<rect x="174.6" y="48.78" width="5.5" height="1.53" fill="url(#sg)" opacity="0.44"/>
<rect x="189.6" y="48.78" width="4.7" height="1.53" fill="url(#sb)" opacity="0.46"/>
<rect x="83.1" y="48.78" width="10.5" height="1.53" fill="url(#sg)" opacity="0.87"/>
<rect x="209.4" y="48.78" width="5.5" height="1.53" fill="url(#sg)" opacity="0.59"/>
<rect x="186.1" y="48.78" width="9.6" height="1.53" fill="url(#sg)" opacity="0.59"/>
<rect x="96.3" y="48.78" width="8.1" height="1.53" fill="url(#sg)" opacity="0.50"/>
<rect x="102.4" y="48.78" width="7.9" height="1.53" fill="url(#sb)" opacity="0.52"/>
<rect x="124.0" y="48.78" width="8.1" height="1.53" fill="url(#o)" opacity="0.59"/>
<rect x="38.3" y="48.78" width="4.7" height="1.53" fill="url(#d)" opacity="0.88"/>
<rect x="126.2" y="50.31" width="8.0" height="1.53" fill="url(#sb)" opacity="0.42"/>
<rect x="98.3" y="50.31" width="11.9" height="1.53" fill="url(#sb)" opacity="0.50"/>
<rect x="81.9" y="50.31" width="5.1" height="1.53" fill="url(#sg)" opacity="0.88"/>
<rect x="212.2" y="50.31" width="7.4" height="1.53" fill="url(#sg)" opacity="0.37"/>
<rect x="56.4" y="50.31" width="6.8" height="1.53" fill="url(#sb)" opacity="0.54"/>
<rect x="226.9" y="50.31" width="11.9" height="1.53" fill="url(#sg)" opacity="0.55"/>
<rect x="64.7" y="50.31" width="5.3" height="1.53" fill="url(#sg)" opacity="0.32"/>
<rect x="231.1" y="50.31" width="5.5" height="1.53" fill="url(#sb)" opacity="0.34"/>
<rect x="170.2" y="50.31" width="4.1" height="1.53" fill="url(#sg)" opacity="0.55"/>
<rect x="87.7" y="50.31" width="7.9" height="1.53" fill="url(#sg)" opacity="0.62"/>
<rect x="37.8" y="50.31" width="4.8" height="1.53" fill="url(#g)" opacity="0.59"/>
<rect x="42.8" y="50.31" width="10.0" height="1.53" fill="url(#b)" opacity="0.88"/>
<rect x="180.0" y="50.31" width="7.1" height="1.53" fill="url(#g)" opacity="0.39"/>
<rect x="122.1" y="51.84" width="4.6" height="1.53" fill="url(#sg)" opacity="0.47"/>
<rect x="134.1" y="51.84" width="9.2" height="1.53" fill="url(#sg)" opacity="0.55"/>
<rect x="56.2" y="51.84" width="6.5" height="1.53" fill="url(#sb)" opacity="0.47"/>
<rect x="191.8" y="51.84" width="9.5" height="1.53" fill="url(#sg)" opacity="0.31"/>
<rect x="96.3" y="51.84" width="11.4" height="1.53" fill="url(#sg)" opacity="0.66"/>
<rect x="107.0" y="51.84" width="9.1" height="1.53" fill="url(#sb)" opacity="0.82"/>
<rect x="105.3" y="51.84" width="4.0" height="1.53" fill="url(#sb)" opacity="0.38"/>
<rect x="211.8" y="51.84" width="11.9" height="1.53" fill="url(#sg)" opacity="0.32"/>
<rect x="110.6" y="51.84" width="9.3" height="1.53" fill="url(#sg)" opacity="0.34"/>
<rect x="126.1" y="51.84" width="11.7" height="1.53" fill="url(#d)" opacity="0.58"/>
<rect x="145.8" y="53.37" width="5.9" height="1.53" fill="url(#sb)" opacity="0.32"/>
<rect x="74.0" y="53.37" width="7.3" height="1.53" fill="url(#sb)" opacity="0.49"/>
<rect x="109.8" y="53.37" width="4.2" height="1.53" fill="url(#sg)" opacity="0.36"/>
<rect x="202.7" y="53.37" width="7.5" height="1.53" fill="url(#sg)" opacity="0.39"/>
<rect x="147.3" y="53.37" width="10.9" height="1.53" fill="url(#sb)" opacity="0.59"/>
<rect x="101.3" y="53.37" width="11.1" height="1.53" fill="url(#sb)" opacity="0.48"/>
<rect x="171.2" y="53.37" width="10.4" height="1.53" fill="url(#sg)" opacity="0.60"/>
<rect x="136.2" y="53.37" width="7.7" height="1.53" fill="url(#sg)" opacity="0.39"/>
<rect x="134.5" y="53.37" width="10.1" height="1.53" fill="url(#sb)" opacity="0.59"/>
<rect x="63.6" y="53.37" width="7.1" height="1.53" fill="url(#sb)" opacity="0.58"/>
<rect x="60.3" y="53.37" width="6.2" height="1.53" fill="url(#b)" opacity="0.83"/>
<rect x="38.0" y="53.37" width="9.8" height="1.53" fill="url(#b)" opacity="0.63"/>
<rect x="37.2" y="53.37" width="10.8" height="1.53" fill="url(#b)" opacity="0.86"/>
<rect x="110.3" y="53.37" width="11.0" height="1.53" fill="url(#g)" opacity="0.59"/>
<rect x="148.2" y="53.37" width="5.7" height="1.53" fill="url(#g)" opacity="0.35"/>
<rect x="46.9" y="54.90" width="7.6" height="1.53" fill="url(#sb)" opacity="0.47"/>
<rect x="114.4" y="54.90" width="7.0" height="1.53" fill="url(#sb)" opacity="0.67"/>
<rect x="137.9" y="54.90" width="10.4" height="1.53" fill="url(#sb)" opacity="0.48"/>
<rect x="129.8" y="54.90" width="10.0" height="1.53" fill="url(#sg)" opacity="0.81"/>
<rect x="203.4" y="54.90" width="9.8" height="1.53" fill="url(#sg)" opacity="0.35"/>
<rect x="180.1" y="54.90" width="6.1" height="1.53" fill="url(#sb)" opacity="0.34"/>
<rect x="117.0" y="54.90" width="9.3" height="1.53" fill="url(#sb)" opacity="0.75"/>
<rect x="196.0" y="54.90" width="9.1" height="1.53" fill="url(#sb)" opacity="0.59"/>
<rect x="41.7" y="54.90" width="6.1" height="1.53" fill="url(#sb)" opacity="0.58"/>
<rect x="170.9" y="56.43" width="9.5" height="1.53" fill="url(#sg)" opacity="0.39"/>
<rect x="181.7" y="56.43" width="9.8" height="1.53" fill="url(#sg)" opacity="0.32"/>
<rect x="231.6" y="56.43" width="6.2" height="1.53" fill="url(#sg)" opacity="0.45"/>
<rect x="142.2" y="56.43" width="6.0" height="1.53" fill="url(#sg)" opacity="0.39"/>
<rect x="110.0" y="56.43" width="7.5" height="1.53" fill="url(#sg)" opacity="0.32"/>
<rect x="128.5" y="56.43" width="4.1" height="1.53" fill="url(#sb)" opacity="0.89"/>
<rect x="95.5" y="56.43" width="6.9" height="1.53" fill="url(#sg)" opacity="0.33"/>
<rect x="222.1" y="56.43" width="5.5" height="1.53" fill="url(#sg)" opacity="0.45"/>
<rect x="112.1" y="56.43" width="9.3" height="1.53" fill="url(#sb)" opacity="0.77"/>
<rect x="192.7" y="56.43" width="4.1" height="1.53" fill="url(#sg)" opacity="0.38"/>
<rect x="72.0" y="56.43" width="6.1" height="1.53" fill="url(#y)" opacity="0.51"/>
<rect x="50.5" y="56.43" width="4.4" height="1.53" fill="url(#o)" opacity="0.59"/>
<rect x="66.2" y="57.96" width="5.6" height="1.53" fill="url(#sg)" opacity="0.72"/>
<rect x="68.0" y="57.96" width="5.6" height="1.53" fill="url(#sg)" opacity="0.74"/>
<rect x="209.2" y="57.96" width="4.7" height="1.53" fill="url(#sb)" opacity="0.51"/>
<rect x="138.3" y="57.96" width="10.3" height="1.53" fill="url(#sg)" opacity="0.46"/>
<rect x="137.9" y="57.96" width="7.6" height="1.53" fill="url(#sg)" opacity="0.44"/>
<rect x="67.8" y="57.96" width="6.1" height="1.53" fill="url(#sb)" opacity="0.45"/>
<rect x="197.5" y="57.96" width="5.6" height="1.53" fill="url(#sb)" opacity="0.48"/>
<rect x="99.4" y="57.96" width="7.0" height="1.53" fill="url(#sb)" opacity="0.60"/>
<rect x="174.9" y="57.96" width="10.8" height="1.53" fill="url(#sg)" opacity="0.45"/>
<rect x="45.9" y="57.96" width="5.6" height="1.53" fill="url(#o)" opacity="0.53"/>
<rect x="92.3" y="59.49" width="7.3" height="1.53" fill="url(#sg)" opacity="0.66"/>
<rect x="53.2" y="59.49" width="4.8" height="1.53" fill="url(#sg)" opacity="0.54"/>
<rect x="218.9" y="59.49" width="11.2" height="1.53" fill="url(#sg)" opacity="0.59"/>
<rect x="82.9" y="59.49" width="7.6" height="1.53" fill="url(#sb)" opacity="0.34"/>
<rect x="234.6" y="59.49" width="6.6" height="1.53" fill="url(#sb)" opacity="0.37"/>
<rect x="37.1" y="59.49" width="4.6" height="1.53" fill="url(#sg)" opacity="0.84"/>
<rect x="177.6" y="59.49" width="10.7" height="1.53" fill="url(#sb)" opacity="0.58"/>
<rect x="102.3" y="59.49" width="11.4" height="1.53" fill="url(#sg)" opacity="0.67"/>
<rect x="107.6" y="59.49" width="11.5" height="1.53" fill="url(#sg)" opacity="0.51"/>
<rect x="52.2" y="59.49" width="9.3" height="1.53" fill="url(#sg)" opacity="0.44"/>
<rect x="152.5" y="59.49" width="11.4" height="1.53" fill="url(#sb)" opacity="0.42"/>
<rect x="75.1" y="59.49" width="6.7" height="1.53" fill="url(#sb)" opacity="0.89"/>
<rect x="227.8" y="61.02" width="5.1" height="1.53" fill="url(#sg)" opacity="0.51"/>
<rect x="150.1" y="61.02" width="6.5" height="1.53" fill="url(#sg)" opacity="0.43"/>
<rect x="84.4" y="61.02" width="5.4" height="1.53" fill="url(#sb)" opacity="0.84"/>
<rect x="219.3" y="61.02" width="9.5" height="1.53" fill="url(#sb)" opacity="0.47"/>
<rect x="92.8" y="61.02" width="11.7" height="1.53" fill="url(#sb)" opacity="0.50"/>
<rect x="154.9" y="61.02" width="6.4" height="1.53" fill="url(#sg)" opacity="0.58"/>
<rect x="58.0" y="61.02" width="10.5" height="1.53" fill="url(#sg)" opacity="0.80"/>
<rect x="237.6" y="61.02" width="11.8" height="1.53" fill="url(#sg)" opacity="0.40"/>
<rect x="143.0" y="61.02" width="4.7" height="1.53" fill="url(#sb)" opacity="0.45"/>
<rect x="184.3" y="61.02" width="4.1" height="1.53" fill="url(#sg)" opacity="0.63"/>
<rect x="85.8" y="61.02" width="10.7" height="1.53" fill="url(#sb)" opacity="0.84"/>
<rect x="187.8" y="61.02" width="7.7" height="1.53" fill="url(#sb)" opacity="0.59"/>
<rect x="108.7" y="61.02" width="10.3" height="1.53" fill="url(#sg)" opacity="0.58"/>
<rect x="113.0" y="61.02" width="8.8" height="1.53" fill="url(#b)" opacity="0.71"/>
<rect x="88.8" y="61.02" width="11.7" height="1.53" fill="url(#b)" opacity="0.90"/>
<rect x="205.4" y="62.55" width="9.7" height="1.53" fill="url(#sg)" opacity="0.59"/>
<rect x="146.4" y="62.55" width="10.6" height="1.53" fill="url(#sb)" opacity="0.54"/>
<rect x="224.1" y="62.55" width="10.3" height="1.53" fill="url(#sb)" opacity="0.61"/>
<rect x="108.3" y="62.55" width="6.7" height="1.53" fill="url(#sb)" opacity="0.30"/>
<rect x="82.5" y="62.55" width="4.9" height="1.53" fill="url(#sb)" opacity="0.76"/>
<rect x="123.3" y="62.55" width="6.3" height="1.53" fill="url(#sg)" opacity="0.52"/>
<rect x="191.4" y="62.55" width="8.8" height="1.53" fill="url(#sg)" opacity="0.45"/>
<rect x="150.4" y="62.55" width="6.1" height="1.53" fill="url(#sg)" opacity="0.48"/>
<rect x="177.6" y="62.55" width="11.7" height="1.53" fill="url(#sb)" opacity="0.47"/>
<rect x="85.4" y="62.55" width="10.5" height="1.53" fill="url(#sg)" opacity="0.68"/>
<rect x="86.8" y="62.55" width="9.1" height="1.53" fill="url(#g)" opacity="0.87"/>
<rect x="153.4" y="64.08" width="11.2" height="1.53" fill="url(#sg)" opacity="0.59"/>
<rect x="188.0" y="64.08" width="4.5" height="1.53" fill="url(#sg)" opacity="0.57"/>
<rect x="130.9" y="64.08" width="6.4" height="1.53" fill="url(#sg)" opacity="0.46"/>
<rect x="206.2" y="64.08" width="6.3" height="1.53" fill="url(#sb)" opacity="0.47"/>
<rect x="211.8" y="64.08" width="10.6" height="1.53" fill="url(#sb)" opacity="0.39"/>
<rect x="97.4" y="64.08" width="9.2" height="1.53" fill="url(#sg)" opacity="0.83"/>
<rect x="217.7" y="64.08" width="10.0" height="1.53" fill="url(#sb)" opacity="0.52"/>
<rect x="114.7" y="64.08" width="11.2" height="1.53" fill="url(#sg)" opacity="0.59"/>
<rect x="225.3" y="64.08" width="5.3" height="1.53" fill="url(#sb)" opacity="0.57"/>
<rect x="97.9" y="64.08" width="8.0" height="1.53" fill="url(#sg)" opacity="0.39"/>
<rect x="191.5" y="64.08" width="5.2" height="1.53" fill="url(#sg)" opacity="0.39"/>
<rect x="71.4" y="64.08" width="5.8" height="1.53" fill="url(#b)" opacity="0.70"/>
<rect x="40.9" y="64.08" width="7.8" height="1.53" fill="url(#d)" opacity="0.53"/>
<rect x="128.5" y="64.08" width="11.1" height="1.53" fill="url(#g)" opacity="0.89"/>
<rect x="111.5" y="64.08" width="10.4" height="1.53" fill="url(#y)" opacity="0.68"/>
<rect x="238.6" y="65.61" width="8.1" height="1.53" fill="url(#sg)" opacity="0.58"/>
<rect x="99.4" y="65.61" width="4.1" height="1.53" fill="url(#sg)" opacity="0.44"/>
<rect x="71.2" y="65.61" width="11.6" height="1.53" fill="url(#sb)" opacity="0.31"/>
<rect x="96.5" y="65.61" width="9.6" height="1.53" fill="url(#sg)" opacity="0.76"/>
<rect x="114.2" y="65.61" width="10.8" height="1.53" fill="url(#sb)" opacity="0.37"/>
<rect x="47.8" y="65.61" width="7.9" height="1.53" fill="url(#sb)" opacity="0.87"/>
<rect x="186.2" y="65.61" width="8.2" height="1.53" fill="url(#sg)" opacity="0.54"/>
<rect x="164.9" y="65.61" width="4.7" height="1.53" fill="url(#sb)" opacity="0.37"/>
<rect x="198.2" y="65.61" width="8.8" height="1.53" fill="url(#b)" opacity="0.58"/>
<rect x="91.0" y="65.61" width="9.4" height="1.53" fill="url(#y)" opacity="0.75"/>
<rect x="40.7" y="65.61" width="4.6" height="1.53" fill="url(#g)" opacity="0.64"/>
<rect x="89.0" y="67.14" width="5.0" height="1.53" fill="url(#sg)" opacity="0.31"/>
<rect x="242.2" y="67.14" width="8.1" height="1.53" fill="url(#sb)" opacity="0.37"/>
<rect x="77.8" y="67.14" width="10.3" height="1.53" fill="url(#sb)" opacity="0.32"/>
<rect x="208.9" y="67.14" width="8.5" height="1.53" fill="url(#sg)" opacity="0.43"/>
<rect x="83.0" y="67.14" width="6.6" height="1.53" fill="url(#sb)" opacity="0.81"/>
<rect x="34.9" y="67.14" width="9.3" height="1.53" fill="url(#sg)" opacity="0.31"/>
<rect x="99.6" y="68.67" width="5.7" height="1.53" fill="url(#sg)" opacity="0.56"/>
<rect x="58.2" y="68.67" width="4.7" height="1.53" fill="url(#sg)" opacity="0.41"/>
<rect x="194.1" y="68.67" width="9.3" height="1.53" fill="url(#sg)" opacity="0.56"/>
<rect x="160.7" y="68.67" width="9.6" height="1.53" fill="url(#sb)" opacity="0.34"/>
<rect x="90.5" y="68.67" width="4.9" height="1.53" fill="url(#sg)" opacity="0.36"/>
<rect x="170.3" y="68.67" width="7.0" height="1.53" fill="url(#sg)" opacity="0.44"/>
<rect x="77.5" y="68.67" width="8.6" height="1.53" fill="url(#sg)" opacity="0.86"/>
<rect x="42.7" y="68.67" width="11.9" height="1.53" fill="url(#sg)" opacity="0.51"/>
<rect x="185.6" y="68.67" width="9.2" height="1.53" fill="url(#sg)" opacity="0.40"/>
<rect x="164.1" y="68.67" width="4.9" height="1.53" fill="url(#sg)" opacity="0.47"/>
<rect x="38.9" y="68.67" width="10.2" height="1.53" fill="url(#sg)" opacity="0.33"/>
<rect x="189.8" y="68.67" width="5.0" height="1.53" fill="url(#sg)" opacity="0.48"/>
<rect x="82.1" y="68.67" width="8.0" height="1.53" fill="url(#o)" opacity="0.75"/>
<rect x="211.7" y="70.20" width="10.7" height="1.53" fill="url(#sg)" opacity="0.50"/>
<rect x="154.4" y="70.20" width="9.9" height="1.53" fill="url(#sg)" opacity="0.42"/>
<rect x="137.8" y="70.20" width="9.3" height="1.53" fill="url(#sg)" opacity="0.38"/>
<rect x="39.4" y="70.20" width="5.4" height="1.53" fill="url(#sb)" opacity="0.81"/>
<rect x="38.6" y="70.20" width="8.1" height="1.53" fill="url(#d)" opacity="0.85"/>
<rect x="111.0" y="70.20" width="9.0" height="1.53" fill="url(#d)" opacity="0.56"/>
<rect x="88.1" y="71.73" width="6.5" height="1.53" fill="url(#sg)" opacity="0.65"/>
<rect x="88.4" y="71.73" width="7.0" height="1.53" fill="url(#sg)" opacity="0.59"/>
<rect x="227.7" y="71.73" width="9.9" height="1.53" fill="url(#sg)" opacity="0.42"/>
<rect x="209.5" y="71.73" width="11.9" height="1.53" fill="url(#sb)" opacity="0.61"/>
<rect x="171.7" y="71.73" width="8.4" height="1.53" fill="url(#sg)" opacity="0.56"/>
<rect x="60.2" y="71.73" width="10.4" height="1.53" fill="url(#sg)" opacity="0.39"/>
<rect x="84.8" y="71.73" width="10.1" height="1.53" fill="url(#sg)" opacity="0.39"/>
<rect x="234.6" y="71.73" width="12.0" height="1.53" fill="url(#sb)" opacity="0.56"/>
<rect x="135.5" y="71.73" width="4.8" height="1.53" fill="url(#sb)" opacity="0.33"/>
<rect x="165.5" y="71.73" width="11.3" height="1.53" fill="url(#sg)" opacity="0.43"/>
<rect x="205.4" y="71.73" width="9.6" height="1.53" fill="url(#b)" opacity="0.56"/>
<rect x="130.3" y="71.73" width="8.1" height="1.53" fill="url(#g)" opacity="0.46"/>
<rect x="222.2" y="73.26" width="10.2" height="1.53" fill="url(#sb)" opacity="0.40"/>
<rect x="72.6" y="73.26" width="8.6" height="1.53" fill="url(#sb)" opacity="0.47"/>
<rect x="84.7" y="73.26" width="6.6" height="1.53" fill="url(#sb)" opacity="0.76"/>
<rect x="38.7" y="73.26" width="8.8" height="1.53" fill="url(#sg)" opacity="0.33"/>
<rect x="95.5" y="73.26" width="12.0" height="1.53" fill="url(#sg)" opacity="0.81"/>
<rect x="69.6" y="73.26" width="7.6" height="1.53" fill="url(#sg)" opacity="0.40"/>
<rect x="134.5" y="73.26" width="11.0" height="1.53" fill="url(#sg)" opacity="0.44"/>
<rect x="47.4" y="73.26" width="11.9" height="1.53" fill="url(#sg)" opacity="0.61"/>
<rect x="81.2" y="73.26" width="9.6" height="1.53" fill="url(#sg)" opacity="0.59"/>
<rect x="51.2" y="73.26" width="11.6" height="1.53" fill="url(#b)" opacity="0.60"/>
<rect x="158.4" y="74.79" width="9.3" height="1.53" fill="url(#sb)" opacity="0.55"/>
<rect x="187.4" y="74.79" width="11.8" height="1.53" fill="url(#sg)" opacity="0.60"/>
<rect x="153.6" y="74.79" width="6.2" height="1.53" fill="url(#sg)" opacity="0.63"/>
<rect x="168.8" y="74.79" width="6.3" height="1.53" fill="url(#sg)" opacity="0.64"/>
<rect x="56.2" y="74.79" width="4.9" height="1.53" fill="url(#sg)" opacity="0.41"/>
<rect x="193.6" y="74.79" width="7.1" height="1.53" fill="url(#sb)" opacity="0.37"/>
<rect x="211.6" y="74.79" width="6.7" height="1.53" fill="url(#sb)" opacity="0.60"/>
<rect x="177.5" y="74.79" width="11.9" height="1.53" fill="url(#sg)" opacity="0.31"/>
<rect x="172.9" y="74.79" width="10.0" height="1.53" fill="url(#sg)" opacity="0.55"/>
<rect x="49.3" y="74.79" width="10.2" height="1.53" fill="url(#sb)" opacity="0.67"/>
<rect x="89.0" y="74.79" width="8.3" height="1.53" fill="url(#sb)" opacity="0.35"/>
<rect x="190.3" y="74.79" width="10.5" height="1.53" fill="url(#sb)" opacity="0.33"/>
<rect x="137.2" y="74.79" width="10.2" height="1.53" fill="url(#sb)" opacity="0.50"/>
<rect x="113.5" y="76.32" width="6.4" height="1.53" fill="url(#sg)" opacity="0.89"/>
<rect x="47.2" y="76.32" width="6.3" height="1.53" fill="url(#sg)" opacity="0.55"/>
<rect x="166.9" y="76.32" width="5.8" height="1.53" fill="url(#sb)" opacity="0.34"/>
<rect x="188.5" y="76.32" width="8.0" height="1.53" fill="url(#sb)" opacity="0.41"/>
<rect x="83.5" y="76.32" width="8.1" height="1.53" fill="url(#sg)" opacity="0.69"/>
<rect x="181.1" y="76.32" width="6.1" height="1.53" fill="url(#sg)" opacity="0.33"/>
<rect x="131.7" y="76.32" width="4.2" height="1.53" fill="url(#sb)" opacity="0.62"/>
<rect x="164.9" y="76.32" width="5.1" height="1.53" fill="url(#sb)" opacity="0.57"/>
<rect x="232.0" y="76.32" width="10.6" height="1.53" fill="url(#y)" opacity="0.58"/>
<rect x="170.1" y="77.85" width="8.9" height="1.53" fill="url(#sb)" opacity="0.32"/>
<rect x="37.0" y="77.85" width="6.7" height="1.53" fill="url(#sg)" opacity="0.72"/>
<rect x="196.9" y="77.85" width="8.9" height="1.53" fill="url(#sg)" opacity="0.60"/>
<rect x="171.6" y="77.85" width="11.2" height="1.53" fill="url(#sg)" opacity="0.32"/>
<rect x="90.0" y="77.85" width="6.0" height="1.53" fill="url(#sb)" opacity="0.41"/>
<rect x="216.4" y="77.85" width="5.5" height="1.53" fill="url(#sb)" opacity="0.57"/>
<rect x="80.8" y="77.85" width="11.7" height="1.53" fill="url(#sb)" opacity="0.76"/>
<rect x="127.8" y="77.85" width="6.2" height="1.53" fill="url(#sb)" opacity="0.89"/>
<rect x="199.2" y="77.85" width="9.7" height="1.53" fill="url(#sb)" opacity="0.43"/>
<rect x="184.4" y="77.85" width="5.0" height="1.53" fill="url(#sb)" opacity="0.31"/>
<rect x="194.5" y="77.85" width="5.6" height="1.53" fill="url(#g)" opacity="0.52"/>
<rect x="131.2" y="79.38" width="6.2" height="1.53" fill="url(#sg)" opacity="0.31"/>
<rect x="194.1" y="79.38" width="10.7" height="1.53" fill="url(#sg)" opacity="0.35"/>
<rect x="83.6" y="79.38" width="11.5" height="1.53" fill="url(#sg)" opacity="0.58"/>
<rect x="76.1" y="79.38" width="11.7" height="1.53" fill="url(#sg)" opacity="0.82"/>
<rect x="221.7" y="79.38" width="6.1" height="1.53" fill="url(#sb)" opacity="0.60"/>
<rect x="198.6" y="79.38" width="7.1" height="1.53" fill="url(#sg)" opacity="0.40"/>
<rect x="84.3" y="79.38" width="11.4" height="1.53" fill="url(#sg)" opacity="0.52"/>
<rect x="216.6" y="79.38" width="7.6" height="1.53" fill="url(#sb)" opacity="0.50"/>
<rect x="80.4" y="79.38" width="6.1" height="1.53" fill="url(#sb)" opacity="0.46"/>
<rect x="141.7" y="79.38" width="10.2" height="1.53" fill="url(#sb)" opacity="0.36"/>
<rect x="126.8" y="79.38" width="5.1" height="1.53" fill="url(#sg)" opacity="0.55"/>
<rect x="39.1" y="79.38" width="9.4" height="1.53" fill="url(#y)" opacity="0.72"/>
<rect x="40.8" y="79.38" width="10.4" height="1.53" fill="url(#g)" opacity="0.78"/>
<rect x="163.2" y="79.38" width="8.5" height="1.53" fill="url(#b)" opacity="0.55"/>
<rect x="218.0" y="80.91" width="7.0" height="1.53" fill="url(#sg)" opacity="0.48"/>
<rect x="70.3" y="80.91" width="11.1" height="1.53" fill="url(#sg)" opacity="0.40"/>
<rect x="189.6" y="80.91" width="4.3" height="1.53" fill="url(#sg)" opacity="0.62"/>
<rect x="134.2" y="80.91" width="4.2" height="1.53" fill="url(#sb)" opacity="0.57"/>
<rect x="104.7" y="80.91" width="5.6" height="1.53" fill="url(#sg)" opacity="0.66"/>
<rect x="117.1" y="80.91" width="9.3" height="1.53" fill="url(#sg)" opacity="0.73"/>
<rect x="86.6" y="80.91" width="11.0" height="1.53" fill="url(#sb)" opacity="0.86"/>
<rect x="168.4" y="80.91" width="9.7" height="1.53" fill="url(#sg)" opacity="0.51"/>
<rect x="121.6" y="80.91" width="7.9" height="1.53" fill="url(#sb)" opacity="0.43"/>
<rect x="37.3" y="80.91" width="9.1" height="1.53" fill="url(#d)" opacity="0.61"/>
<rect x="172.7" y="82.44" width="6.0" height="1.53" fill="url(#sg)" opacity="0.43"/>
<rect x="210.3" y="82.44" width="5.4" height="1.53" fill="url(#sg)" opacity="0.30"/>
<rect x="234.8" y="82.44" width="8.9" height="1.53" fill="url(#sg)" opacity="0.59"/>
<rect x="158.2" y="82.44" width="5.9" height="1.53" fill="url(#sg)" opacity="0.46"/>
<rect x="174.1" y="82.44" width="9.7" height="1.53" fill="url(#sb)" opacity="0.39"/>
<rect x="182.3" y="82.44" width="7.4" height="1.53" fill="url(#sg)" opacity="0.65"/>
<rect x="165.9" y="82.44" width="4.2" height="1.53" fill="url(#sg)" opacity="0.34"/>
<rect x="182.6" y="82.44" width="9.0" height="1.53" fill="url(#sg)" opacity="0.62"/>
<rect x="46.5" y="82.44" width="11.0" height="1.53" fill="url(#sg)" opacity="0.68"/>
<rect x="123.8" y="82.44" width="6.0" height="1.53" fill="url(#sg)" opacity="0.70"/>
<rect x="179.0" y="82.44" width="6.1" height="1.53" fill="url(#sg)" opacity="0.30"/>
<rect x="75.0" y="82.44" width="5.7" height="1.53" fill="url(#sg)" opacity="0.34"/>
<rect x="85.6" y="82.44" width="8.7" height="1.53" fill="url(#sg)" opacity="0.83"/>
<rect x="220.6" y="82.44" width="6.1" height="1.53" fill="url(#b)" opacity="0.49"/>
<rect x="167.0" y="82.44" width="5.8" height="1.53" fill="url(#b)" opacity="0.43"/>
<rect x="182.8" y="82.44" width="6.5" height="1.53" fill="url(#g)" opacity="0.49"/>
<rect x="41.7" y="82.44" width="9.9" height="1.53" fill="url(#y)" opacity="0.81"/>
<rect x="94.1" y="83.97" width="7.7" height="1.53" fill="url(#sg)" opacity="0.64"/>
<rect x="226.4" y="83.97" width="7.3" height="1.53" fill="url(#sg)" opacity="0.59"/>
<rect x="213.7" y="83.97" width="8.4" height="1.53" fill="url(#sg)" opacity="0.61"/>
<rect x="136.8" y="83.97" width="6.2" height="1.53" fill="url(#sb)" opacity="0.53"/>
<rect x="113.3" y="83.97" width="7.2" height="1.53" fill="url(#sg)" opacity="0.42"/>
<rect x="53.7" y="83.97" width="9.4" height="1.53" fill="url(#sb)" opacity="0.49"/>
<rect x="164.9" y="83.97" width="4.5" height="1.53" fill="url(#g)" opacity="0.59"/>
<rect x="61.9" y="83.97" width="11.6" height="1.53" fill="url(#o)" opacity="0.69"/>
<rect x="221.0" y="85.50" width="8.1" height="1.53" fill="url(#sb)" opacity="0.63"/>
<rect x="80.0" y="85.50" width="7.2" height="1.53" fill="url(#sg)" opacity="0.45"/>
<rect x="83.0" y="85.50" width="7.7" height="1.53" fill="url(#sg)" opacity="0.83"/>
<rect x="44.8" y="85.50" width="5.2" height="1.53" fill="url(#sb)" opacity="0.66"/>
<rect x="197.2" y="85.50" width="8.9" height="1.53" fill="url(#sg)" opacity="0.52"/>
<rect x="38.2" y="85.50" width="12.0" height="1.53" fill="url(#sb)" opacity="0.50"/>
<rect x="231.7" y="85.50" width="5.8" height="1.53" fill="url(#sg)" opacity="0.30"/>
<rect x="127.5" y="87.03" width="7.8" height="1.53" fill="url(#sg)" opacity="0.32"/>
<rect x="89.9" y="87.03" width="4.2" height="1.53" fill="url(#sg)" opacity="0.74"/>
<rect x="133.6" y="87.03" width="6.7" height="1.53" fill="url(#sg)" opacity="0.43"/>
<rect x="142.0" y="87.03" width="6.6" height="1.53" fill="url(#sg)" opacity="0.33"/>
<rect x="42.2" y="87.03" width="6.5" height="1.53" fill="url(#sg)" opacity="0.37"/>
<rect x="158.6" y="87.03" width="8.8" height="1.53" fill="url(#sg)" opacity="0.35"/>
<rect x="118.8" y="87.03" width="4.1" height="1.53" fill="url(#sb)" opacity="0.88"/>
<rect x="130.0" y="87.03" width="11.1" height="1.53" fill="url(#sb)" opacity="0.89"/>
<rect x="42.5" y="87.03" width="11.0" height="1.53" fill="url(#g)" opacity="0.73"/>
<rect x="60.0" y="88.56" width="4.6" height="1.53" fill="url(#sg)" opacity="0.37"/>
<rect x="59.6" y="88.56" width="6.5" height="1.53" fill="url(#sb)" opacity="0.72"/>
<rect x="50.1" y="88.56" width="9.3" height="1.53" fill="url(#sb)" opacity="0.70"/>
<rect x="182.4" y="88.56" width="9.3" height="1.53" fill="url(#sg)" opacity="0.49"/>
<rect x="188.8" y="88.56" width="5.7" height="1.53" fill="url(#sb)" opacity="0.56"/>
<rect x="74.4" y="88.56" width="6.1" height="1.53" fill="url(#sg)" opacity="0.56"/>
<rect x="208.2" y="88.56" width="7.6" height="1.53" fill="url(#sg)" opacity="0.40"/>
<rect x="202.1" y="88.56" width="7.5" height="1.53" fill="url(#sg)" opacity="0.60"/>
<rect x="132.6" y="88.56" width="7.8" height="1.53" fill="url(#g)" opacity="0.33"/>
<rect x="104.4" y="88.56" width="9.7" height="1.53" fill="url(#b)" opacity="0.82"/>
<rect x="212.5" y="88.56" width="11.3" height="1.53" fill="url(#b)" opacity="0.44"/>
<rect x="65.9" y="88.56" width="6.7" height="1.53" fill="url(#y)" opacity="0.67"/>
<rect x="124.2" y="90.09" width="10.6" height="1.53" fill="url(#sb)" opacity="0.88"/>
<rect x="54.5" y="90.09" width="4.0" height="1.53" fill="url(#sb)" opacity="0.86"/>
<rect x="49.6" y="90.09" width="6.4" height="1.53" fill="url(#sg)" opacity="0.42"/>
<rect x="85.6" y="90.09" width="4.1" height="1.53" fill="url(#sg)" opacity="0.82"/>
<rect x="152.6" y="90.09" width="5.7" height="1.53" fill="url(#sb)" opacity="0.53"/>
<rect x="165.5" y="90.09" width="6.7" height="1.53" fill="url(#sb)" opacity="0.46"/>
<rect x="224.1" y="90.09" width="10.7" height="1.53" fill="url(#sg)" opacity="0.52"/>
<rect x="151.5" y="90.09" width="9.4" height="1.53" fill="url(#sg)" opacity="0.47"/>
<rect x="54.0" y="90.09" width="10.7" height="1.53" fill="url(#y)" opacity="0.66"/>
<rect x="55.4" y="91.62" width="9.3" height="1.53" fill="url(#sg)" opacity="0.47"/>
<rect x="214.2" y="91.62" width="4.5" height="1.53" fill="url(#sg)" opacity="0.32"/>
<rect x="81.8" y="91.62" width="10.5" height="1.53" fill="url(#sg)" opacity="0.36"/>
<rect x="38.9" y="91.62" width="7.3" height="1.53" fill="url(#sg)" opacity="0.56"/>
<rect x="205.4" y="91.62" width="11.7" height="1.53" fill="url(#sg)" opacity="0.57"/>
<rect x="34.9" y="91.62" width="8.7" height="1.53" fill="url(#sb)" opacity="0.87"/>
<rect x="51.2" y="91.62" width="7.2" height="1.53" fill="url(#sg)" opacity="0.54"/>
<rect x="90.2" y="91.62" width="5.9" height="1.53" fill="url(#sb)" opacity="0.36"/>
<rect x="149.8" y="91.62" width="9.7" height="1.53" fill="url(#sg)" opacity="0.52"/>
<rect x="233.0" y="91.62" width="11.1" height="1.53" fill="url(#sb)" opacity="0.43"/>
<rect x="172.0" y="91.62" width="7.2" height="1.53" fill="url(#sg)" opacity="0.46"/>
<rect x="165.9" y="91.62" width="8.3" height="1.53" fill="url(#sb)" opacity="0.33"/>
<rect x="81.1" y="91.62" width="11.8" height="1.53" fill="url(#sg)" opacity="0.90"/>
<rect x="88.6" y="91.62" width="8.1" height="1.53" fill="url(#sb)" opacity="0.56"/>
<rect x="113.4" y="91.62" width="9.7" height="1.53" fill="url(#sg)" opacity="0.64"/>
<rect x="163.8" y="91.62" width="9.4" height="1.53" fill="url(#sg)" opacity="0.62"/>
<rect x="72.5" y="91.62" width="8.9" height="1.53" fill="url(#y)" opacity="0.62"/>
<rect x="37.5" y="91.62" width="4.6" height="1.53" fill="url(#b)" opacity="0.66"/>
<rect x="67.9" y="91.62" width="6.6" height="1.53" fill="url(#b)" opacity="0.84"/>
<rect x="150.9" y="93.15" width="5.7" height="1.53" fill="url(#sb)" opacity="0.51"/>
<rect x="75.8" y="93.15" width="9.0" height="1.53" fill="url(#sb)" opacity="0.60"/>
<rect x="90.3" y="93.15" width="9.1" height="1.53" fill="url(#sg)" opacity="0.32"/>
<rect x="91.3" y="93.15" width="11.0" height="1.53" fill="url(#sb)" opacity="0.33"/>
<rect x="106.6" y="93.15" width="9.6" height="1.53" fill="url(#sb)" opacity="0.79"/>
<rect x="46.2" y="93.15" width="9.6" height="1.53" fill="url(#sg)" opacity="0.43"/>
<rect x="225.2" y="93.15" width="10.3" height="1.53" fill="url(#sb)" opacity="0.33"/>
<rect x="129.3" y="93.15" width="11.2" height="1.53" fill="url(#sg)" opacity="0.80"/>
<rect x="148.2" y="93.15" width="7.4" height="1.53" fill="url(#sb)" opacity="0.43"/>
<rect x="150.4" y="93.15" width="9.4" height="1.53" fill="url(#b)" opacity="0.55"/>
<rect x="69.7" y="93.15" width="5.1" height="1.53" fill="url(#g)" opacity="0.66"/>
<rect x="66.8" y="93.15" width="7.5" height="1.53" fill="url(#b)" opacity="0.53"/>
<rect x="138.7" y="94.68" width="10.6" height="1.53" fill="url(#sg)" opacity="0.62"/>
<rect x="175.0" y="94.68" width="8.7" height="1.53" fill="url(#sg)" opacity="0.51"/>
<rect x="131.2" y="94.68" width="5.9" height="1.53" fill="url(#sb)" opacity="0.32"/>
<rect x="111.2" y="94.68" width="8.4" height="1.53" fill="url(#sg)" opacity="0.40"/>
<rect x="204.0" y="94.68" width="11.4" height="1.53" fill="url(#sb)" opacity="0.53"/>
<rect x="150.2" y="94.68" width="10.6" height="1.53" fill="url(#sb)" opacity="0.30"/>
<rect x="37.5" y="94.68" width="6.4" height="1.53" fill="url(#sg)" opacity="0.54"/>
<rect x="146.1" y="94.68" width="11.9" height="1.53" fill="url(#sb)" opacity="0.54"/>
<rect x="54.8" y="94.68" width="8.3" height="1.53" fill="url(#sg)" opacity="0.71"/>
<rect x="188.1" y="94.68" width="4.9" height="1.53" fill="url(#sg)" opacity="0.65"/>
<rect x="133.7" y="94.68" width="7.0" height="1.53" fill="url(#sb)" opacity="0.43"/>
<rect x="221.0" y="94.68" width="4.5" height="1.53" fill="url(#sg)" opacity="0.55"/>
<rect x="138.0" y="94.68" width="4.4" height="1.53" fill="url(#sg)" opacity="0.60"/>
<rect x="76.9" y="94.68" width="4.7" height="1.53" fill="url(#b)" opacity="0.71"/>
<rect x="173.6" y="96.21" width="6.6" height="1.53" fill="url(#sg)" opacity="0.38"/>
<rect x="225.1" y="96.21" width="6.0" height="1.53" fill="url(#sb)" opacity="0.41"/>
<rect x="156.1" y="96.21" width="4.9" height="1.53" fill="url(#sb)" opacity="0.50"/>
<rect x="185.2" y="96.21" width="7.9" height="1.53" fill="url(#sg)" opacity="0.41"/>
<rect x="36.3" y="96.21" width="9.0" height="1.53" fill="url(#sg)" opacity="0.56"/>
<rect x="234.3" y="96.21" width="10.5" height="1.53" fill="url(#sb)" opacity="0.55"/>
<rect x="221.8" y="96.21" width="5.9" height="1.53" fill="url(#sg)" opacity="0.62"/>
<rect x="118.3" y="96.21" width="11.6" height="1.53" fill="url(#sg)" opacity="0.66"/>
<rect x="155.8" y="96.21" width="8.8" height="1.53" fill="url(#sb)" opacity="0.38"/>
<rect x="115.2" y="96.21" width="11.8" height="1.53" fill="url(#sb)" opacity="0.68"/>
<rect x="185.4" y="96.21" width="6.4" height="1.53" fill="url(#sb)" opacity="0.61"/>
<rect x="59.3" y="96.21" width="7.4" height="1.53" fill="url(#sg)" opacity="0.53"/>
<rect x="141.6" y="96.21" width="7.8" height="1.53" fill="url(#sg)" opacity="0.45"/>
<rect x="180.6" y="96.21" width="5.3" height="1.53" fill="url(#sb)" opacity="0.45"/>
<rect x="52.6" y="96.21" width="8.0" height="1.53" fill="url(#sg)" opacity="0.77"/>
<rect x="104.8" y="97.74" width="9.7" height="1.53" fill="url(#sg)" opacity="0.33"/>
<rect x="114.6" y="97.74" width="8.2" height="1.53" fill="url(#sg)" opacity="0.70"/>
<rect x="240.7" y="97.74" width="8.4" height="1.53" fill="url(#sg)" opacity="0.60"/>
<rect x="123.9" y="97.74" width="6.2" height="1.53" fill="url(#sb)" opacity="0.66"/>
<rect x="232.0" y="97.74" width="6.3" height="1.53" fill="url(#sg)" opacity="0.65"/>
<rect x="117.7" y="97.74" width="8.4" height="1.53" fill="url(#sb)" opacity="0.51"/>
<rect x="57.5" y="97.74" width="9.5" height="1.53" fill="url(#sg)" opacity="0.88"/>
<rect x="62.7" y="97.74" width="10.4" height="1.53" fill="url(#sg)" opacity="0.45"/>
<rect x="134.2" y="97.74" width="6.5" height="1.53" fill="url(#sg)" opacity="0.34"/>
<rect x="79.5" y="97.74" width="8.5" height="1.53" fill="url(#d)" opacity="0.86"/>
<rect x="83.0" y="99.27" width="10.0" height="1.53" fill="url(#sg)" opacity="0.80"/>
<rect x="135.3" y="99.27" width="9.1" height="1.53" fill="url(#sb)" opacity="0.62"/>
<rect x="98.8" y="99.27" width="5.5" height="1.53" fill="url(#sb)" opacity="0.86"/>
<rect x="35.5" y="99.27" width="4.8" height="1.53" fill="url(#sb)" opacity="0.84"/>
<rect x="114.2" y="99.27" width="9.6" height="1.53" fill="url(#sg)" opacity="0.56"/>
<rect x="187.0" y="99.27" width="8.3" height="1.53" fill="url(#sg)" opacity="0.41"/>
<rect x="34.6" y="99.27" width="6.1" height="1.53" fill="url(#sg)" opacity="0.47"/>
<rect x="217.5" y="99.27" width="4.8" height="1.53" fill="url(#sb)" opacity="0.52"/>
<rect x="57.2" y="99.27" width="11.9" height="1.53" fill="url(#g)" opacity="0.61"/>
<rect x="225.2" y="100.80" width="5.8" height="1.53" fill="url(#sb)" opacity="0.62"/>
<rect x="140.3" y="100.80" width="8.6" height="1.53" fill="url(#sb)" opacity="0.56"/>
<rect x="160.1" y="100.80" width="4.3" height="1.53" fill="url(#sb)" opacity="0.44"/>
<rect x="37.6" y="100.80" width="9.1" height="1.53" fill="url(#sb)" opacity="0.56"/>
<rect x="52.0" y="100.80" width="6.9" height="1.53" fill="url(#sg)" opacity="0.83"/>
<rect x="161.3" y="100.80" width="7.4" height="1.53" fill="url(#sg)" opacity="0.54"/>
<rect x="85.0" y="100.80" width="11.0" height="1.53" fill="url(#sb)" opacity="0.42"/>
<rect x="114.7" y="100.80" width="6.6" height="1.53" fill="url(#sg)" opacity="0.52"/>
<rect x="223.9" y="100.80" width="5.9" height="1.53" fill="url(#sb)" opacity="0.61"/>
<rect x="91.6" y="100.80" width="11.1" height="1.53" fill="url(#sb)" opacity="0.49"/>
<rect x="242.2" y="100.80" width="10.8" height="1.53" fill="url(#sg)" opacity="0.38"/>
<rect x="79.5" y="100.80" width="10.6" height="1.53" fill="url(#sg)" opacity="0.43"/>
<rect x="77.2" y="100.80" width="5.1" height="1.53" fill="url(#sb)" opacity="0.55"/>
<rect x="42.6" y="100.80" width="5.5" height="1.53" fill="url(#b)" opacity="0.61"/>
<rect x="212.5" y="100.80" width="9.3" height="1.53" fill="url(#b)" opacity="0.34"/>
<rect x="118.3" y="102.33" width="10.4" height="1.53" fill="url(#sb)" opacity="0.78"/>
<rect x="136.3" y="102.33" width="9.2" height="1.53" fill="url(#sg)" opacity="0.54"/>
<rect x="90.3" y="102.33" width="5.8" height="1.53" fill="url(#sb)" opacity="0.85"/>
<rect x="201.1" y="102.33" width="10.6" height="1.53" fill="url(#sg)" opacity="0.58"/>
<rect x="125.2" y="102.33" width="5.3" height="1.53" fill="url(#sg)" opacity="0.69"/>
<rect x="43.1" y="102.33" width="11.0" height="1.53" fill="url(#sg)" opacity="0.40"/>
<rect x="194.6" y="102.33" width="4.3" height="1.53" fill="url(#sg)" opacity="0.50"/>
<rect x="121.8" y="102.33" width="11.1" height="1.53" fill="url(#sg)" opacity="0.73"/>
<rect x="78.2" y="102.33" width="8.5" height="1.53" fill="url(#sg)" opacity="0.31"/>
<rect x="61.7" y="102.33" width="5.4" height="1.53" fill="url(#sb)" opacity="0.44"/>
<rect x="175.2" y="102.33" width="7.7" height="1.53" fill="url(#sg)" opacity="0.53"/>
<rect x="186.3" y="102.33" width="8.1" height="1.53" fill="url(#b)" opacity="0.35"/>
<rect x="99.9" y="102.33" width="11.6" height="1.53" fill="url(#y)" opacity="0.62"/>
<rect x="110.1" y="102.33" width="4.6" height="1.53" fill="url(#y)" opacity="0.69"/>
<rect x="102.2" y="103.86" width="7.8" height="1.53" fill="url(#sb)" opacity="0.45"/>
<rect x="220.4" y="103.86" width="11.7" height="1.53" fill="url(#sb)" opacity="0.60"/>
<rect x="114.2" y="103.86" width="8.6" height="1.53" fill="url(#sg)" opacity="0.58"/>
<rect x="203.6" y="103.86" width="5.6" height="1.53" fill="url(#sg)" opacity="0.62"/>
<rect x="40.9" y="103.86" width="7.9" height="1.53" fill="url(#sb)" opacity="0.48"/>
<rect x="122.4" y="103.86" width="7.7" height="1.53" fill="url(#sg)" opacity="0.84"/>
<rect x="225.7" y="103.86" width="6.3" height="1.53" fill="url(#sb)" opacity="0.53"/>
<rect x="75.6" y="103.86" width="9.7" height="1.53" fill="url(#sb)" opacity="0.30"/>
<rect x="195.2" y="103.86" width="7.1" height="1.53" fill="url(#sg)" opacity="0.39"/>
<rect x="168.5" y="103.86" width="10.5" height="1.53" fill="url(#g)" opacity="0.39"/>
<rect x="120.6" y="105.39" width="11.6" height="1.53" fill="url(#sg)" opacity="0.49"/>
<rect x="127.8" y="105.39" width="7.4" height="1.53" fill="url(#sg)" opacity="0.80"/>
<rect x="54.4" y="105.39" width="5.5" height="1.53" fill="url(#sb)" opacity="0.83"/>
<rect x="149.5" y="105.39" width="4.7" height="1.53" fill="url(#sb)" opacity="0.45"/>
<rect x="54.3" y="105.39" width="9.8" height="1.53" fill="url(#sg)" opacity="0.49"/>
<rect x="69.1" y="105.39" width="5.3" height="1.53" fill="url(#sb)" opacity="0.81"/>
<rect x="54.3" y="105.39" width="6.7" height="1.53" fill="url(#sg)" opacity="0.74"/>
<rect x="195.0" y="105.39" width="10.1" height="1.53" fill="url(#sb)" opacity="0.63"/>
<rect x="152.5" y="105.39" width="6.6" height="1.53" fill="url(#sg)" opacity="0.36"/>
<rect x="189.5" y="105.39" width="5.6" height="1.53" fill="url(#sg)" opacity="0.34"/>
<rect x="107.7" y="105.39" width="6.9" height="1.53" fill="url(#sg)" opacity="0.88"/>
<rect x="97.1" y="105.39" width="5.9" height="1.53" fill="url(#b)" opacity="0.82"/>
<rect x="142.2" y="105.39" width="9.4" height="1.53" fill="url(#b)" opacity="0.50"/>
<rect x="201.4" y="105.39" width="9.5" height="1.53" fill="url(#g)" opacity="0.43"/>
<rect x="42.0" y="105.39" width="11.3" height="1.53" fill="url(#b)" opacity="0.79"/>
<rect x="143.7" y="105.39" width="9.8" height="1.53" fill="url(#g)" opacity="0.49"/>
<rect x="211.7" y="106.92" width="11.2" height="1.53" fill="url(#sb)" opacity="0.58"/>
<rect x="199.6" y="106.92" width="11.9" height="1.53" fill="url(#sg)" opacity="0.65"/>
<rect x="138.8" y="106.92" width="9.9" height="1.53" fill="url(#sb)" opacity="0.64"/>
<rect x="165.6" y="106.92" width="4.3" height="1.53" fill="url(#sb)" opacity="0.46"/>
<rect x="198.5" y="106.92" width="7.0" height="1.53" fill="url(#sg)" opacity="0.48"/>
<rect x="141.2" y="106.92" width="4.0" height="1.53" fill="url(#sb)" opacity="0.48"/>
<rect x="139.4" y="106.92" width="5.5" height="1.53" fill="url(#sg)" opacity="0.60"/>
<rect x="90.8" y="106.92" width="9.7" height="1.53" fill="url(#sg)" opacity="0.39"/>
<rect x="231.6" y="106.92" width="11.8" height="1.53" fill="url(#sg)" opacity="0.30"/>
<rect x="168.4" y="106.92" width="11.0" height="1.53" fill="url(#sg)" opacity="0.37"/>
<rect x="60.1" y="106.92" width="6.1" height="1.53" fill="url(#sg)" opacity="0.34"/>
<rect x="190.2" y="108.45" width="4.0" height="1.53" fill="url(#sg)" opacity="0.63"/>
<rect x="217.7" y="108.45" width="10.1" height="1.53" fill="url(#sg)" opacity="0.43"/>
<rect x="86.0" y="108.45" width="7.4" height="1.53" fill="url(#sg)" opacity="0.59"/>
<rect x="179.9" y="108.45" width="9.5" height="1.53" fill="url(#sg)" opacity="0.52"/>
<rect x="140.3" y="108.45" width="7.2" height="1.53" fill="url(#sg)" opacity="0.39"/>
<rect x="223.8" y="108.45" width="9.7" height="1.53" fill="url(#sg)" opacity="0.36"/>
<rect x="43.7" y="108.45" width="11.5" height="1.53" fill="url(#sg)" opacity="0.46"/>
<rect x="165.5" y="108.45" width="7.1" height="1.53" fill="url(#sb)" opacity="0.55"/>
<rect x="109.5" y="108.45" width="11.3" height="1.53" fill="url(#sg)" opacity="0.38"/>
<rect x="177.8" y="108.45" width="5.4" height="1.53" fill="url(#sb)" opacity="0.42"/>
<rect x="134.7" y="108.45" width="10.1" height="1.53" fill="url(#sg)" opacity="0.30"/>
<rect x="207.6" y="109.98" width="8.7" height="1.53" fill="url(#sg)" opacity="0.39"/>
<rect x="196.2" y="109.98" width="5.1" height="1.53" fill="url(#sb)" opacity="0.51"/>
<rect x="207.8" y="109.98" width="6.4" height="1.53" fill="url(#sb)" opacity="0.35"/>
<rect x="160.0" y="109.98" width="5.0" height="1.53" fill="url(#sg)" opacity="0.49"/>
<rect x="146.8" y="109.98" width="8.2" height="1.53" fill="url(#sb)" opacity="0.40"/>
<rect x="75.7" y="109.98" width="4.7" height="1.53" fill="url(#sg)" opacity="0.51"/>
<rect x="163.2" y="109.98" width="4.1" height="1.53" fill="url(#sb)" opacity="0.60"/>
<rect x="84.1" y="109.98" width="11.3" height="1.53" fill="url(#sb)" opacity="0.88"/>
<rect x="225.0" y="109.98" width="10.0" height="1.53" fill="url(#sb)" opacity="0.60"/>
<rect x="75.3" y="109.98" width="4.8" height="1.53" fill="url(#sg)" opacity="0.69"/>
<rect x="84.1" y="109.98" width="5.1" height="1.53" fill="url(#sb)" opacity="0.87"/>
<rect x="102.9" y="111.51" width="11.9" height="1.53" fill="url(#sb)" opacity="0.36"/>
<rect x="213.8" y="111.51" width="11.6" height="1.53" fill="url(#sb)" opacity="0.56"/>
<rect x="89.2" y="111.51" width="5.3" height="1.53" fill="url(#sg)" opacity="0.54"/>
<rect x="39.7" y="111.51" width="8.7" height="1.53" fill="url(#sg)" opacity="0.46"/>
<rect x="37.0" y="111.51" width="5.0" height="1.53" fill="url(#sg)" opacity="0.50"/>
<rect x="39.5" y="111.51" width="7.2" height="1.53" fill="url(#sb)" opacity="0.62"/>
<rect x="101.7" y="111.51" width="10.3" height="1.53" fill="url(#sb)" opacity="0.47"/>
<rect x="103.5" y="111.51" width="6.2" height="1.53" fill="url(#sg)" opacity="0.74"/>
<rect x="51.7" y="111.51" width="7.4" height="1.53" fill="url(#sb)" opacity="0.45"/>
<rect x="209.4" y="111.51" width="7.4" height="1.53" fill="url(#sb)" opacity="0.46"/>
<rect x="207.4" y="111.51" width="10.6" height="1.53" fill="url(#sb)" opacity="0.63"/>
<rect x="89.7" y="111.51" width="10.3" height="1.53" fill="url(#sb)" opacity="0.49"/>
<rect x="81.6" y="111.51" width="8.9" height="1.53" fill="url(#sb)" opacity="0.86"/>
<rect x="218.0" y="111.51" width="7.5" height="1.53" fill="url(#sg)" opacity="0.64"/>
<rect x="171.9" y="111.51" width="9.5" height="1.53" fill="url(#sg)" opacity="0.54"/>
<rect x="47.0" y="111.51" width="12.0" height="1.53" fill="url(#b)" opacity="0.87"/>
<rect x="60.1" y="113.04" width="7.1" height="1.53" fill="url(#sg)" opacity="0.42"/>
<rect x="52.8" y="113.04" width="10.3" height="1.53" fill="url(#sg)" opacity="0.34"/>
<rect x="98.8" y="113.04" width="8.3" height="1.53" fill="url(#sb)" opacity="0.66"/>
<rect x="119.8" y="113.04" width="7.1" height="1.53" fill="url(#sg)" opacity="0.48"/>
<rect x="194.1" y="113.04" width="11.0" height="1.53" fill="url(#sg)" opacity="0.36"/>
<rect x="75.3" y="113.04" width="11.7" height="1.53" fill="url(#sg)" opacity="0.67"/>
<rect x="164.2" y="113.04" width="11.9" height="1.53" fill="url(#sb)" opacity="0.36"/>
<rect x="150.9" y="113.04" width="10.5" height="1.53" fill="url(#sg)" opacity="0.58"/>
<rect x="114.8" y="113.04" width="11.8" height="1.53" fill="url(#sb)" opacity="0.63"/>
<rect x="93.0" y="113.04" width="10.4" height="1.53" fill="url(#sb)" opacity="0.81"/>
<rect x="153.1" y="113.04" width="9.3" height="1.53" fill="url(#sb)" opacity="0.64"/>
<rect x="41.8" y="113.04" width="11.7" height="1.53" fill="url(#g)" opacity="0.83"/>
<rect x="40.4" y="113.04" width="10.6" height="1.53" fill="url(#b)" opacity="0.75"/>
<rect x="37.9" y="113.04" width="12.0" height="1.53" fill="url(#g)" opacity="0.61"/>
<rect x="58.8" y="113.04" width="6.4" height="1.53" fill="url(#b)" opacity="0.81"/>
<rect x="103.2" y="114.57" width="6.1" height="1.53" fill="url(#sb)" opacity="0.65"/>
<rect x="96.6" y="114.57" width="11.2" height="1.53" fill="url(#sg)" opacity="0.65"/>
<rect x="40.2" y="114.57" width="5.6" height="1.53" fill="url(#sg)" opacity="0.51"/>
<rect x="144.0" y="114.57" width="6.7" height="1.53" fill="url(#sg)" opacity="0.45"/>
<rect x="165.0" y="114.57" width="6.3" height="1.53" fill="url(#sg)" opacity="0.44"/>
<rect x="114.5" y="114.57" width="8.8" height="1.53" fill="url(#sb)" opacity="0.61"/>
<rect x="120.0" y="114.57" width="10.5" height="1.53" fill="url(#sg)" opacity="0.69"/>
<rect x="105.4" y="114.57" width="4.8" height="1.53" fill="url(#sg)" opacity="0.78"/>
<rect x="122.1" y="114.57" width="10.7" height="1.53" fill="url(#sb)" opacity="0.69"/>
<rect x="81.9" y="114.57" width="8.3" height="1.53" fill="url(#y)" opacity="0.53"/>
<rect x="236.6" y="114.57" width="6.3" height="1.53" fill="url(#b)" opacity="0.34"/>
<rect x="124.3" y="116.10" width="8.1" height="1.53" fill="url(#sg)" opacity="0.65"/>
<rect x="56.9" y="116.10" width="11.6" height="1.53" fill="url(#sb)" opacity="0.51"/>
<rect x="231.8" y="116.10" width="9.1" height="1.53" fill="url(#sb)" opacity="0.53"/>
<rect x="53.0" y="116.10" width="7.5" height="1.53" fill="url(#sb)" opacity="0.38"/>
<rect x="95.9" y="116.10" width="6.5" height="1.53" fill="url(#sb)" opacity="0.57"/>
<rect x="99.1" y="116.10" width="7.9" height="1.53" fill="url(#sb)" opacity="0.71"/>
<rect x="43.0" y="116.10" width="7.4" height="1.53" fill="url(#sg)" opacity="0.85"/>
<rect x="35.7" y="116.10" width="4.8" height="1.53" fill="url(#sb)" opacity="0.85"/>
<rect x="38.2" y="116.10" width="7.6" height="1.53" fill="url(#d)" opacity="0.63"/>
<rect x="146.0" y="116.10" width="7.8" height="1.53" fill="url(#b)" opacity="0.58"/>
<rect x="91.9" y="117.63" width="7.3" height="1.53" fill="url(#sg)" opacity="0.59"/>
<rect x="73.6" y="117.63" width="10.9" height="1.53" fill="url(#sb)" opacity="0.65"/>
<rect x="122.3" y="117.63" width="11.3" height="1.53" fill="url(#sg)" opacity="0.40"/>
<rect x="242.4" y="117.63" width="8.9" height="1.53" fill="url(#sb)" opacity="0.39"/>
<rect x="86.8" y="117.63" width="8.8" height="1.53" fill="url(#sg)" opacity="0.56"/>
<rect x="183.1" y="117.63" width="5.4" height="1.53" fill="url(#sg)" opacity="0.38"/>
<rect x="161.4" y="117.63" width="6.5" height="1.53" fill="url(#sb)" opacity="0.48"/>
<rect x="179.6" y="117.63" width="11.5" height="1.53" fill="url(#sg)" opacity="0.59"/>
<rect x="106.5" y="117.63" width="9.7" height="1.53" fill="url(#sg)" opacity="0.40"/>
<rect x="124.5" y="117.63" width="9.3" height="1.53" fill="url(#g)" opacity="0.86"/>
<rect x="154.2" y="119.16" width="4.7" height="1.53" fill="url(#sg)" opacity="0.37"/>
<rect x="155.0" y="119.16" width="10.1" height="1.53" fill="url(#sb)" opacity="0.46"/>
<rect x="44.0" y="119.16" width="6.9" height="1.53" fill="url(#b)" opacity="0.64"/>
<rect x="41.8" y="119.16" width="10.9" height="1.53" fill="url(#g)" opacity="0.54"/>
<rect x="91.7" y="119.16" width="6.0" height="1.53" fill="url(#b)" opacity="0.63"/>
<rect x="72.4" y="120.69" width="9.6" height="1.53" fill="url(#sb)" opacity="0.56"/>
<rect x="174.4" y="120.69" width="8.0" height="1.53" fill="url(#sg)" opacity="0.41"/>
<rect x="123.1" y="120.69" width="6.7" height="1.53" fill="url(#sg)" opacity="0.80"/>
<rect x="85.6" y="120.69" width="6.8" height="1.53" fill="url(#sb)" opacity="0.77"/>
<rect x="211.0" y="120.69" width="6.9" height="1.53" fill="url(#sg)" opacity="0.53"/>
<rect x="206.6" y="120.69" width="9.3" height="1.53" fill="url(#sb)" opacity="0.55"/>
<rect x="104.9" y="120.69" width="8.4" height="1.53" fill="url(#b)" opacity="0.65"/>
<rect x="49.6" y="122.22" width="11.5" height="1.53" fill="url(#sg)" opacity="0.33"/>
<rect x="168.1" y="122.22" width="8.4" height="1.53" fill="url(#sb)" opacity="0.34"/>
<rect x="171.7" y="122.22" width="9.2" height="1.53" fill="url(#sb)" opacity="0.39"/>
<rect x="49.8" y="122.22" width="6.2" height="1.53" fill="url(#sb)" opacity="0.40"/>
<rect x="75.6" y="122.22" width="7.5" height="1.53" fill="url(#sg)" opacity="0.80"/>
<rect x="138.0" y="122.22" width="9.7" height="1.53" fill="url(#sg)" opacity="0.60"/>
<rect x="156.2" y="122.22" width="7.7" height="1.53" fill="url(#sb)" opacity="0.31"/>
<rect x="160.4" y="122.22" width="8.3" height="1.53" fill="url(#sb)" opacity="0.35"/>
<rect x="212.7" y="122.22" width="9.3" height="1.53" fill="url(#sb)" opacity="0.55"/>
<rect x="91.6" y="122.22" width="6.6" height="1.53" fill="url(#sg)" opacity="0.46"/>
<rect x="88.4" y="122.22" width="9.4" height="1.53" fill="url(#sb)" opacity="0.34"/>
<rect x="75.3" y="122.22" width="10.4" height="1.53" fill="url(#sb)" opacity="0.62"/>
<rect x="131.7" y="122.22" width="10.5" height="1.53" fill="url(#sg)" opacity="0.52"/>
<rect x="141.3" y="122.22" width="8.1" height="1.53" fill="url(#sb)" opacity="0.65"/>
<rect x="153.1" y="122.22" width="11.1" height="1.53" fill="url(#sg)" opacity="0.32"/>
<rect x="47.4" y="122.22" width="11.5" height="1.53" fill="url(#sg)" opacity="0.33"/>
<rect x="39.2" y="122.22" width="8.6" height="1.53" fill="url(#sb)" opacity="0.38"/>
<rect x="151.3" y="122.22" width="4.1" height="1.53" fill="url(#sg)" opacity="0.60"/>
<rect x="105.8" y="123.75" width="4.0" height="1.53" fill="url(#sb)" opacity="0.56"/>
<rect x="89.5" y="123.75" width="5.3" height="1.53" fill="url(#sb)" opacity="0.50"/>
<rect x="180.1" y="123.75" width="5.6" height="1.53" fill="url(#sg)" opacity="0.60"/>
<rect x="162.4" y="123.75" width="4.1" height="1.53" fill="url(#sb)" opacity="0.61"/>
<rect x="83.0" y="123.75" width="9.2" height="1.53" fill="url(#sb)" opacity="0.72"/>
<rect x="220.9" y="123.75" width="6.5" height="1.53" fill="url(#sg)" opacity="0.41"/>
<rect x="76.9" y="123.75" width="11.5" height="1.53" fill="url(#sg)" opacity="0.35"/>
<rect x="114.9" y="123.75" width="4.6" height="1.53" fill="url(#sb)" opacity="0.66"/>
<rect x="239.3" y="123.75" width="9.8" height="1.53" fill="url(#sb)" opacity="0.62"/>
<rect x="90.7" y="123.75" width="10.0" height="1.53" fill="url(#sg)" opacity="0.69"/>
<rect x="221.0" y="125.28" width="4.7" height="1.53" fill="url(#sg)" opacity="0.49"/>
<rect x="78.7" y="125.28" width="8.6" height="1.53" fill="url(#sg)" opacity="0.87"/>
<rect x="185.9" y="125.28" width="7.0" height="1.53" fill="url(#sb)" opacity="0.50"/>
<rect x="224.4" y="125.28" width="5.5" height="1.53" fill="url(#sb)" opacity="0.40"/>
<rect x="86.0" y="125.28" width="6.8" height="1.53" fill="url(#sb)" opacity="0.45"/>
<rect x="140.7" y="125.28" width="11.6" height="1.53" fill="url(#sg)" opacity="0.36"/>
<rect x="153.0" y="125.28" width="5.2" height="1.53" fill="url(#sg)" opacity="0.49"/>
<rect x="75.9" y="125.28" width="6.6" height="1.53" fill="url(#sb)" opacity="0.79"/>
<rect x="103.0" y="126.81" width="6.7" height="1.53" fill="url(#sg)" opacity="0.50"/>
<rect x="178.7" y="126.81" width="9.8" height="1.53" fill="url(#sg)" opacity="0.35"/>
<rect x="65.1" y="126.81" width="7.1" height="1.53" fill="url(#sg)" opacity="0.81"/>
<rect x="82.9" y="126.81" width="10.9" height="1.53" fill="url(#sb)" opacity="0.52"/>
<rect x="57.1" y="126.81" width="10.2" height="1.53" fill="url(#sb)" opacity="0.46"/>
<rect x="150.1" y="126.81" width="8.9" height="1.53" fill="url(#sg)" opacity="0.56"/>
<rect x="238.0" y="126.81" width="11.0" height="1.53" fill="url(#sb)" opacity="0.49"/>
<rect x="76.2" y="126.81" width="6.6" height="1.53" fill="url(#sb)" opacity="0.38"/>
<rect x="195.2" y="126.81" width="4.4" height="1.53" fill="url(#sg)" opacity="0.61"/>
<rect x="158.5" y="126.81" width="5.1" height="1.53" fill="url(#sg)" opacity="0.46"/>
<rect x="105.0" y="126.81" width="5.6" height="1.53" fill="url(#g)" opacity="0.75"/>
<rect x="40.3" y="126.81" width="4.0" height="1.53" fill="url(#b)" opacity="0.83"/>
<rect x="138.5" y="128.34" width="5.7" height="1.53" fill="url(#sg)" opacity="0.34"/>
<rect x="67.7" y="128.34" width="6.3" height="1.53" fill="url(#sg)" opacity="0.57"/>
<rect x="177.7" y="128.34" width="9.3" height="1.53" fill="url(#sb)" opacity="0.31"/>
<rect x="148.1" y="128.34" width="11.5" height="1.53" fill="url(#sg)" opacity="0.50"/>
<rect x="239.3" y="128.34" width="6.4" height="1.53" fill="url(#sb)" opacity="0.46"/>
<rect x="140.4" y="128.34" width="7.6" height="1.53" fill="url(#sg)" opacity="0.32"/>
<rect x="180.2" y="128.34" width="11.1" height="1.53" fill="url(#sb)" opacity="0.37"/>
<rect x="51.8" y="128.34" width="4.4" height="1.53" fill="url(#g)" opacity="0.61"/>
<rect x="56.9" y="129.87" width="4.5" height="1.53" fill="url(#sg)" opacity="0.31"/>
<rect x="112.3" y="129.87" width="11.0" height="1.53" fill="url(#sb)" opacity="0.31"/>
<rect x="169.0" y="129.87" width="7.3" height="1.53" fill="url(#sg)" opacity="0.48"/>
<rect x="85.7" y="129.87" width="4.4" height="1.53" fill="url(#sb)" opacity="0.84"/>
<rect x="40.2" y="129.87" width="9.8" height="1.53" fill="url(#sb)" opacity="0.57"/>
<rect x="141.0" y="129.87" width="5.3" height="1.53" fill="url(#sb)" opacity="0.58"/>
<rect x="60.0" y="129.87" width="10.0" height="1.53" fill="url(#sb)" opacity="0.48"/>
<rect x="232.7" y="129.87" width="8.2" height="1.53" fill="url(#sb)" opacity="0.49"/>
<rect x="138.6" y="129.87" width="4.4" height="1.53" fill="url(#sg)" opacity="0.49"/>
<rect x="198.9" y="129.87" width="8.4" height="1.53" fill="url(#sb)" opacity="0.45"/>
<rect x="118.6" y="129.87" width="9.0" height="1.53" fill="url(#sg)" opacity="0.72"/>
<rect x="40.2" y="129.87" width="5.0" height="1.53" fill="url(#b)" opacity="0.61"/>
<rect x="124.9" y="129.87" width="7.1" height="1.53" fill="url(#g)" opacity="0.74"/>
<rect x="74.6" y="129.87" width="4.1" height="1.53" fill="url(#b)" opacity="0.87"/>
<rect x="53.8" y="129.87" width="10.8" height="1.53" fill="url(#g)" opacity="0.57"/>
<rect x="47.3" y="131.40" width="8.7" height="1.53" fill="url(#sb)" opacity="0.47"/>
<rect x="43.6" y="131.40" width="6.4" height="1.53" fill="url(#sg)" opacity="0.81"/>
<rect x="178.5" y="131.40" width="11.1" height="1.53" fill="url(#sg)" opacity="0.58"/>
<rect x="102.9" y="131.40" width="6.1" height="1.53" fill="url(#sg)" opacity="0.42"/>
<rect x="77.1" y="131.40" width="5.9" height="1.53" fill="url(#sb)" opacity="0.43"/>
<rect x="174.5" y="131.40" width="4.4" height="1.53" fill="url(#sb)" opacity="0.45"/>
<rect x="76.1" y="131.40" width="5.8" height="1.53" fill="url(#sg)" opacity="0.63"/>
<rect x="70.9" y="131.40" width="10.9" height="1.53" fill="url(#sg)" opacity="0.48"/>
<rect x="144.2" y="131.40" width="4.6" height="1.53" fill="url(#sg)" opacity="0.31"/>
<rect x="209.9" y="131.40" width="9.5" height="1.53" fill="url(#sb)" opacity="0.44"/>
<rect x="78.2" y="131.40" width="4.2" height="1.53" fill="url(#g)" opacity="0.82"/>
<rect x="157.0" y="132.93" width="8.3" height="1.53" fill="url(#sb)" opacity="0.54"/>
<rect x="187.1" y="132.93" width="7.5" height="1.53" fill="url(#sb)" opacity="0.40"/>
<rect x="115.1" y="132.93" width="11.6" height="1.53" fill="url(#sb)" opacity="0.31"/>
<rect x="231.9" y="132.93" width="4.6" height="1.53" fill="url(#sb)" opacity="0.37"/>
<rect x="94.0" y="132.93" width="10.7" height="1.53" fill="url(#sg)" opacity="0.86"/>
<rect x="115.5" y="132.93" width="9.0" height="1.53" fill="url(#sb)" opacity="0.84"/>
<rect x="56.6" y="132.93" width="4.0" height="1.53" fill="url(#sg)" opacity="0.74"/>
<rect x="137.1" y="132.93" width="11.0" height="1.53" fill="url(#sg)" opacity="0.32"/>
<rect x="138.1" y="132.93" width="7.5" height="1.53" fill="url(#sb)" opacity="0.32"/>
<rect x="37.2" y="132.93" width="4.5" height="1.53" fill="url(#g)" opacity="0.86"/>
<rect x="78.1" y="134.46" width="7.8" height="1.53" fill="url(#sg)" opacity="0.56"/>
<rect x="112.7" y="134.46" width="5.0" height="1.53" fill="url(#sg)" opacity="0.43"/>
<rect x="93.3" y="134.46" width="10.8" height="1.53" fill="url(#sb)" opacity="0.59"/>
<rect x="159.7" y="134.46" width="8.0" height="1.53" fill="url(#sg)" opacity="0.40"/>
<rect x="145.0" y="134.46" width="6.4" height="1.53" fill="url(#sg)" opacity="0.38"/>
<rect x="108.8" y="134.46" width="5.3" height="1.53" fill="url(#sg)" opacity="0.90"/>
<rect x="83.3" y="134.46" width="5.0" height="1.53" fill="url(#sb)" opacity="0.54"/>
<rect x="111.8" y="134.46" width="11.2" height="1.53" fill="url(#sg)" opacity="0.45"/>
<rect x="203.0" y="134.46" width="7.3" height="1.53" fill="url(#sb)" opacity="0.34"/>
<rect x="220.4" y="134.46" width="9.6" height="1.53" fill="url(#sb)" opacity="0.31"/>
<rect x="179.6" y="134.46" width="7.6" height="1.53" fill="url(#sb)" opacity="0.54"/>
<rect x="69.8" y="134.46" width="10.7" height="1.53" fill="url(#sg)" opacity="0.40"/>
<rect x="131.7" y="134.46" width="5.1" height="1.53" fill="url(#sb)" opacity="0.47"/>
<rect x="129.5" y="134.46" width="10.9" height="1.53" fill="url(#sg)" opacity="0.72"/>
<rect x="104.4" y="134.46" width="9.4" height="1.53" fill="url(#sg)" opacity="0.80"/>
<rect x="176.6" y="134.46" width="5.1" height="1.53" fill="url(#sg)" opacity="0.60"/>
<rect x="92.9" y="134.46" width="11.1" height="1.53" fill="url(#sb)" opacity="0.42"/>
<rect x="38.1" y="134.46" width="7.2" height="1.53" fill="url(#g)" opacity="0.82"/>
<rect x="204.2" y="135.99" width="6.3" height="1.53" fill="url(#sb)" opacity="0.34"/>
<rect x="188.5" y="135.99" width="9.2" height="1.53" fill="url(#sg)" opacity="0.38"/>
<rect x="187.5" y="135.99" width="4.6" height="1.53" fill="url(#sg)" opacity="0.41"/>
<rect x="215.6" y="135.99" width="11.0" height="1.53" fill="url(#sg)" opacity="0.38"/>
<rect x="151.7" y="135.99" width="7.4" height="1.53" fill="url(#sb)" opacity="0.50"/>
<rect x="88.1" y="135.99" width="6.9" height="1.53" fill="url(#sg)" opacity="0.35"/>
<rect x="48.5" y="135.99" width="4.0" height="1.53" fill="url(#sg)" opacity="0.89"/>
<rect x="221.3" y="135.99" width="10.3" height="1.53" fill="url(#sg)" opacity="0.30"/>
<rect x="58.4" y="135.99" width="5.5" height="1.53" fill="url(#sb)" opacity="0.34"/>
<rect x="225.5" y="135.99" width="10.1" height="1.53" fill="url(#sg)" opacity="0.39"/>
<rect x="212.0" y="135.99" width="6.6" height="1.53" fill="url(#sg)" opacity="0.34"/>
<rect x="62.5" y="135.99" width="10.7" height="1.53" fill="url(#sb)" opacity="0.35"/>
<rect x="123.8" y="135.99" width="11.1" height="1.53" fill="url(#sb)" opacity="0.39"/>
<rect x="171.0" y="135.99" width="9.2" height="1.53" fill="url(#sb)" opacity="0.59"/>
<rect x="49.1" y="135.99" width="5.0" height="1.53" fill="url(#b)" opacity="0.60"/>
<rect x="155.8" y="135.99" width="10.3" height="1.53" fill="url(#b)" opacity="0.36"/>
<rect x="202.8" y="137.52" width="10.2" height="1.53" fill="url(#sb)" opacity="0.31"/>
<rect x="41.5" y="137.52" width="9.5" height="1.53" fill="url(#sg)" opacity="0.64"/>
<rect x="145.2" y="137.52" width="5.0" height="1.53" fill="url(#sg)" opacity="0.32"/>
<rect x="107.1" y="137.52" width="6.0" height="1.53" fill="url(#sg)" opacity="0.41"/>
<rect x="127.3" y="137.52" width="6.1" height="1.53" fill="url(#sb)" opacity="0.86"/>
<rect x="230.9" y="137.52" width="7.8" height="1.53" fill="url(#sb)" opacity="0.38"/>
<rect x="104.3" y="137.52" width="4.6" height="1.53" fill="url(#sb)" opacity="0.32"/>
<rect x="60.4" y="137.52" width="4.6" height="1.53" fill="url(#sg)" opacity="0.83"/>
<rect x="201.6" y="137.52" width="9.5" height="1.53" fill="url(#sb)" opacity="0.63"/>
<rect x="98.9" y="139.05" width="4.7" height="1.53" fill="url(#sb)" opacity="0.69"/>
<rect x="75.4" y="139.05" width="11.4" height="1.53" fill="url(#sg)" opacity="0.51"/>
<rect x="100.2" y="139.05" width="8.7" height="1.53" fill="url(#sg)" opacity="0.64"/>
<rect x="80.6" y="139.05" width="7.0" height="1.53" fill="url(#sg)" opacity="0.63"/>
<rect x="117.2" y="139.05" width="11.0" height="1.53" fill="url(#sb)" opacity="0.72"/>
<rect x="234.1" y="139.05" width="6.3" height="1.53" fill="url(#sb)" opacity="0.35"/>
<rect x="98.0" y="139.05" width="5.5" height="1.53" fill="url(#sb)" opacity="0.46"/>
<rect x="95.5" y="139.05" width="7.6" height="1.53" fill="url(#sg)" opacity="0.79"/>
<rect x="44.6" y="139.05" width="11.6" height="1.53" fill="url(#sb)" opacity="0.33"/>
<rect x="48.7" y="139.05" width="6.3" height="1.53" fill="url(#sg)" opacity="0.42"/>
<rect x="161.2" y="139.05" width="5.5" height="1.53" fill="url(#sg)" opacity="0.49"/>
<rect x="45.4" y="139.05" width="10.8" height="1.53" fill="url(#g)" opacity="0.51"/>
<rect x="225.9" y="139.05" width="6.0" height="1.53" fill="url(#b)" opacity="0.53"/>
<rect x="35.4" y="140.58" width="7.7" height="1.53" fill="url(#sb)" opacity="0.32"/>
<rect x="238.7" y="140.58" width="8.6" height="1.53" fill="url(#sg)" opacity="0.52"/>
<rect x="121.4" y="140.58" width="9.7" height="1.53" fill="url(#sg)" opacity="0.56"/>
<rect x="93.5" y="140.58" width="6.5" height="1.53" fill="url(#sb)" opacity="0.51"/>
<rect x="51.0" y="140.58" width="6.1" height="1.53" fill="url(#sg)" opacity="0.62"/>
<rect x="48.0" y="140.58" width="9.2" height="1.53" fill="url(#sg)" opacity="0.35"/>
<rect x="237.7" y="140.58" width="6.1" height="1.53" fill="url(#sb)" opacity="0.56"/>
<rect x="104.4" y="140.58" width="5.9" height="1.53" fill="url(#sg)" opacity="0.49"/>
<rect x="178.6" y="140.58" width="11.1" height="1.53" fill="url(#sg)" opacity="0.40"/>
<rect x="145.0" y="140.58" width="9.4" height="1.53" fill="url(#sb)" opacity="0.38"/>
<rect x="209.2" y="140.58" width="5.4" height="1.53" fill="url(#sg)" opacity="0.41"/>
<rect x="104.3" y="140.58" width="7.6" height="1.53" fill="url(#sg)" opacity="0.67"/>
<rect x="228.3" y="140.58" width="11.6" height="1.53" fill="url(#sb)" opacity="0.40"/>
<rect x="36.9" y="140.58" width="9.5" height="1.53" fill="url(#sb)" opacity="0.53"/>
<rect x="208.1" y="140.58" width="9.5" height="1.53" fill="url(#sg)" opacity="0.42"/>
<rect x="156.7" y="140.58" width="7.0" height="1.53" fill="url(#sg)" opacity="0.47"/>
<rect x="210.2" y="140.58" width="6.8" height="1.53" fill="url(#sg)" opacity="0.32"/>
<rect x="179.0" y="140.58" width="11.1" height="1.53" fill="url(#g)" opacity="0.51"/>
<rect x="98.4" y="140.58" width="7.0" height="1.53" fill="url(#o)" opacity="0.66"/>
<rect x="113.2" y="140.58" width="8.2" height="1.53" fill="url(#d)" opacity="0.78"/>
<rect x="142.4" y="140.58" width="11.3" height="1.53" fill="url(#g)" opacity="0.47"/>
<rect x="216.3" y="142.11" width="10.0" height="1.53" fill="url(#sb)" opacity="0.39"/>
<rect x="165.5" y="142.11" width="10.9" height="1.53" fill="url(#sg)" opacity="0.43"/>
<rect x="134.7" y="142.11" width="6.8" height="1.53" fill="url(#sg)" opacity="0.47"/>
<rect x="235.4" y="142.11" width="6.5" height="1.53" fill="url(#sg)" opacity="0.54"/>
<rect x="232.0" y="142.11" width="10.8" height="1.53" fill="url(#sb)" opacity="0.58"/>
<rect x="219.2" y="142.11" width="11.4" height="1.53" fill="url(#sb)" opacity="0.64"/>
<rect x="84.5" y="142.11" width="4.7" height="1.53" fill="url(#sg)" opacity="0.66"/>
<rect x="182.0" y="142.11" width="10.9" height="1.53" fill="url(#sg)" opacity="0.40"/>
<rect x="58.4" y="142.11" width="4.2" height="1.53" fill="url(#sg)" opacity="0.44"/>
<rect x="83.6" y="142.11" width="7.5" height="1.53" fill="url(#sg)" opacity="0.80"/>
<rect x="173.5" y="142.11" width="10.3" height="1.53" fill="url(#sg)" opacity="0.61"/>
<rect x="110.1" y="142.11" width="10.5" height="1.53" fill="url(#g)" opacity="0.81"/>
<rect x="188.8" y="143.64" width="6.2" height="1.53" fill="url(#sg)" opacity="0.32"/>
<rect x="39.0" y="143.64" width="6.2" height="1.53" fill="url(#sb)" opacity="0.42"/>
<rect x="44.7" y="143.64" width="6.8" height="1.53" fill="url(#sb)" opacity="0.36"/>
<rect x="77.3" y="143.64" width="10.8" height="1.53" fill="url(#sg)" opacity="0.82"/>
<rect x="118.7" y="143.64" width="6.2" height="1.53" fill="url(#sb)" opacity="0.70"/>
<rect x="119.2" y="143.64" width="9.9" height="1.53" fill="url(#sg)" opacity="0.70"/>
<rect x="213.5" y="143.64" width="6.4" height="1.53" fill="url(#sb)" opacity="0.31"/>
<rect x="142.9" y="143.64" width="6.0" height="1.53" fill="url(#sg)" opacity="0.32"/>
<rect x="42.7" y="143.64" width="6.9" height="1.53" fill="url(#d)" opacity="0.88"/>
<rect x="118.7" y="145.17" width="5.5" height="1.53" fill="url(#sb)" opacity="0.76"/>
<rect x="123.7" y="145.17" width="11.9" height="1.53" fill="url(#sb)" opacity="0.83"/>
<rect x="89.3" y="145.17" width="8.5" height="1.53" fill="url(#sg)" opacity="0.40"/>
<rect x="123.3" y="145.17" width="10.5" height="1.53" fill="url(#sb)" opacity="0.36"/>
<rect x="241.0" y="145.17" width="6.6" height="1.53" fill="url(#sb)" opacity="0.33"/>
<rect x="224.6" y="145.17" width="4.5" height="1.53" fill="url(#sg)" opacity="0.48"/>
<rect x="115.7" y="145.17" width="6.7" height="1.53" fill="url(#sg)" opacity="0.87"/>
<rect x="79.7" y="145.17" width="6.1" height="1.53" fill="url(#sg)" opacity="0.69"/>
<rect x="123.4" y="145.17" width="8.2" height="1.53" fill="url(#sg)" opacity="0.68"/>
<rect x="48.4" y="145.17" width="11.8" height="1.53" fill="url(#sb)" opacity="0.45"/>
<rect x="108.6" y="145.17" width="9.2" height="1.53" fill="url(#sb)" opacity="0.89"/>
<rect x="118.2" y="145.17" width="6.8" height="1.53" fill="url(#sb)" opacity="0.32"/>
<rect x="239.5" y="146.70" width="8.4" height="1.53" fill="url(#sb)" opacity="0.37"/>
<rect x="41.9" y="146.70" width="5.0" height="1.53" fill="url(#sg)" opacity="0.38"/>
<rect x="204.7" y="146.70" width="5.6" height="1.53" fill="url(#sb)" opacity="0.63"/>
<rect x="152.2" y="148.23" width="6.7" height="1.53" fill="url(#sb)" opacity="0.63"/>
<rect x="223.6" y="148.23" width="9.8" height="1.53" fill="url(#sb)" opacity="0.35"/>
<rect x="96.6" y="148.23" width="9.2" height="1.53" fill="url(#sb)" opacity="0.74"/>
<rect x="189.9" y="148.23" width="7.2" height="1.53" fill="url(#sg)" opacity="0.36"/>
<rect x="35.1" y="148.23" width="11.5" height="1.53" fill="url(#sg)" opacity="0.57"/>
<rect x="162.7" y="148.23" width="10.9" height="1.53" fill="url(#sg)" opacity="0.56"/>
<rect x="157.8" y="148.23" width="10.0" height="1.53" fill="url(#sb)" opacity="0.45"/>
<rect x="181.5" y="148.23" width="11.5" height="1.53" fill="url(#sb)" opacity="0.36"/>
<rect x="199.2" y="148.23" width="5.2" height="1.53" fill="url(#sg)" opacity="0.60"/>
<rect x="168.6" y="148.23" width="6.0" height="1.53" fill="url(#sg)" opacity="0.41"/>
<rect x="83.2" y="148.23" width="9.2" height="1.53" fill="url(#sg)" opacity="0.74"/>
<rect x="181.4" y="148.23" width="6.7" height="1.53" fill="url(#sb)" opacity="0.57"/>
<rect x="237.3" y="148.23" width="7.3" height="1.53" fill="url(#sb)" opacity="0.40"/>
<rect x="237.5" y="148.23" width="11.1" height="1.53" fill="url(#sb)" opacity="0.57"/>
<rect x="59.9" y="148.23" width="11.3" height="1.53" fill="url(#g)" opacity="0.67"/>
<rect x="154.4" y="149.76" width="11.7" height="1.53" fill="url(#sb)" opacity="0.37"/>
<rect x="223.6" y="149.76" width="10.8" height="1.53" fill="url(#sg)" opacity="0.51"/>
<rect x="164.0" y="149.76" width="7.5" height="1.53" fill="url(#sg)" opacity="0.59"/>
<rect x="195.8" y="149.76" width="7.5" height="1.53" fill="url(#sg)" opacity="0.53"/>
<rect x="53.4" y="149.76" width="4.9" height="1.53" fill="url(#sb)" opacity="0.74"/>
<rect x="108.3" y="149.76" width="4.6" height="1.53" fill="url(#sg)" opacity="0.40"/>
<rect x="208.7" y="149.76" width="5.8" height="1.53" fill="url(#sb)" opacity="0.57"/>
<rect x="83.1" y="149.76" width="6.2" height="1.53" fill="url(#sg)" opacity="0.82"/>
<rect x="134.2" y="149.76" width="6.4" height="1.53" fill="url(#sg)" opacity="0.62"/>
<rect x="97.4" y="149.76" width="9.1" height="1.53" fill="url(#sg)" opacity="0.63"/>
<rect x="37.2" y="149.76" width="8.5" height="1.53" fill="url(#g)" opacity="0.74"/>
<rect x="80.5" y="149.76" width="11.3" height="1.53" fill="url(#o)" opacity="0.62"/>
<rect x="230.6" y="151.29" width="10.2" height="1.53" fill="url(#sb)" opacity="0.40"/>
<rect x="46.5" y="151.29" width="9.6" height="1.53" fill="url(#sg)" opacity="0.47"/>
<rect x="232.4" y="151.29" width="6.1" height="1.53" fill="url(#sb)" opacity="0.42"/>
<rect x="111.6" y="151.29" width="4.2" height="1.53" fill="url(#sb)" opacity="0.43"/>
<rect x="88.8" y="151.29" width="7.0" height="1.53" fill="url(#sg)" opacity="0.73"/>
<rect x="126.5" y="151.29" width="5.3" height="1.53" fill="url(#sb)" opacity="0.44"/>
<rect x="44.3" y="151.29" width="9.6" height="1.53" fill="url(#y)" opacity="0.78"/>
<rect x="162.8" y="151.29" width="4.6" height="1.53" fill="url(#b)" opacity="0.52"/>
<rect x="172.3" y="152.82" width="6.8" height="1.53" fill="url(#sb)" opacity="0.53"/>
<rect x="230.2" y="152.82" width="5.4" height="1.53" fill="url(#sb)" opacity="0.34"/>
<rect x="174.2" y="152.82" width="4.1" height="1.53" fill="url(#sg)" opacity="0.42"/>
<rect x="69.4" y="152.82" width="5.1" height="1.53" fill="url(#sg)" opacity="0.34"/>
<rect x="194.4" y="152.82" width="10.2" height="1.53" fill="url(#sg)" opacity="0.34"/>
<rect x="119.3" y="152.82" width="11.2" height="1.53" fill="url(#sg)" opacity="0.75"/>
<rect x="46.7" y="152.82" width="10.2" height="1.53" fill="url(#sg)" opacity="0.63"/>
<rect x="173.3" y="152.82" width="11.8" height="1.53" fill="url(#sg)" opacity="0.59"/>
<rect x="153.5" y="152.82" width="5.3" height="1.53" fill="url(#sb)" opacity="0.36"/>
<rect x="167.8" y="152.82" width="10.9" height="1.53" fill="url(#sg)" opacity="0.62"/>
<rect x="94.2" y="152.82" width="5.6" height="1.53" fill="url(#sb)" opacity="0.63"/>
<rect x="231.7" y="152.82" width="7.5" height="1.53" fill="url(#sg)" opacity="0.36"/>
<rect x="62.8" y="152.82" width="5.9" height="1.53" fill="url(#g)" opacity="0.87"/>
<rect x="67.2" y="152.82" width="5.9" height="1.53" fill="url(#b)" opacity="0.50"/>
<rect x="164.3" y="152.82" width="7.3" height="1.53" fill="url(#g)" opacity="0.44"/>
<rect x="135.9" y="154.35" width="9.0" height="1.53" fill="url(#sb)" opacity="0.65"/>
<rect x="49.4" y="154.35" width="4.8" height="1.53" fill="url(#sg)" opacity="0.48"/>
<rect x="237.9" y="154.35" width="5.5" height="1.53" fill="url(#sg)" opacity="0.55"/>
<rect x="162.0" y="154.35" width="10.3" height="1.53" fill="url(#sb)" opacity="0.52"/>
<rect x="81.2" y="154.35" width="9.7" height="1.53" fill="url(#sg)" opacity="0.67"/>
<rect x="147.5" y="154.35" width="5.1" height="1.53" fill="url(#sg)" opacity="0.32"/>
<rect x="41.1" y="154.35" width="7.5" height="1.53" fill="url(#sg)" opacity="0.80"/>
<rect x="236.9" y="154.35" width="7.0" height="1.53" fill="url(#sb)" opacity="0.45"/>
<rect x="119.2" y="154.35" width="4.8" height="1.53" fill="url(#b)" opacity="0.72"/>
<rect x="94.7" y="154.35" width="8.5" height="1.53" fill="url(#g)" opacity="0.76"/>
<rect x="96.7" y="154.35" width="10.0" height="1.53" fill="url(#g)" opacity="0.55"/>
<rect x="117.6" y="155.88" width="11.4" height="1.53" fill="url(#sb)" opacity="0.80"/>
<rect x="237.8" y="155.88" width="11.1" height="1.53" fill="url(#sg)" opacity="0.61"/>
<rect x="148.9" y="155.88" width="10.5" height="1.53" fill="url(#sg)" opacity="0.34"/>
<rect x="62.1" y="155.88" width="8.3" height="1.53" fill="url(#sb)" opacity="0.69"/>
<rect x="151.9" y="155.88" width="10.4" height="1.53" fill="url(#sg)" opacity="0.34"/>
<rect x="105.0" y="155.88" width="10.0" height="1.53" fill="url(#sg)" opacity="0.31"/>
<rect x="164.9" y="155.88" width="8.0" height="1.53" fill="url(#sb)" opacity="0.65"/>
<rect x="49.9" y="155.88" width="7.9" height="1.53" fill="url(#sg)" opacity="0.89"/>
<rect x="213.5" y="155.88" width="9.1" height="1.53" fill="url(#sb)" opacity="0.60"/>
<rect x="92.4" y="155.88" width="6.0" height="1.53" fill="url(#sg)" opacity="0.42"/>
<rect x="103.5" y="155.88" width="11.7" height="1.53" fill="url(#sb)" opacity="0.44"/>
<rect x="127.1" y="155.88" width="10.9" height="1.53" fill="url(#o)" opacity="0.75"/>
<rect x="70.2" y="157.41" width="8.8" height="1.53" fill="url(#sg)" opacity="0.38"/>
<rect x="211.5" y="157.41" width="7.9" height="1.53" fill="url(#sg)" opacity="0.33"/>
<rect x="223.4" y="157.41" width="10.9" height="1.53" fill="url(#sg)" opacity="0.33"/>
<rect x="176.0" y="157.41" width="8.3" height="1.53" fill="url(#sb)" opacity="0.52"/>
<rect x="206.5" y="157.41" width="5.3" height="1.53" fill="url(#sg)" opacity="0.60"/>
<rect x="58.6" y="157.41" width="6.4" height="1.53" fill="url(#sb)" opacity="0.47"/>
<rect x="158.0" y="157.41" width="9.2" height="1.53" fill="url(#y)" opacity="0.49"/>
<rect x="183.2" y="157.41" width="5.4" height="1.53" fill="url(#b)" opacity="0.60"/>
<rect x="141.2" y="158.94" width="7.4" height="1.53" fill="url(#sb)" opacity="0.42"/>
<rect x="52.1" y="158.94" width="7.6" height="1.53" fill="url(#sg)" opacity="0.40"/>
<rect x="198.6" y="158.94" width="4.2" height="1.53" fill="url(#sb)" opacity="0.61"/>
<rect x="119.6" y="158.94" width="6.3" height="1.53" fill="url(#sb)" opacity="0.45"/>
<rect x="43.4" y="158.94" width="5.3" height="1.53" fill="url(#sb)" opacity="0.43"/>
<rect x="174.8" y="158.94" width="4.2" height="1.53" fill="url(#sb)" opacity="0.36"/>
<rect x="102.4" y="158.94" width="7.8" height="1.53" fill="url(#y)" opacity="0.83"/>
<rect x="113.2" y="160.47" width="8.2" height="1.53" fill="url(#sg)" opacity="0.74"/>
<rect x="188.4" y="160.47" width="10.7" height="1.53" fill="url(#sb)" opacity="0.31"/>
<rect x="123.4" y="160.47" width="10.6" height="1.53" fill="url(#sg)" opacity="0.33"/>
<rect x="174.3" y="160.47" width="4.3" height="1.53" fill="url(#sb)" opacity="0.42"/>
<rect x="167.8" y="160.47" width="10.8" height="1.53" fill="url(#sb)" opacity="0.32"/>
<rect x="84.1" y="160.47" width="4.5" height="1.53" fill="url(#sb)" opacity="0.86"/>
<rect x="235.8" y="160.47" width="5.6" height="1.53" fill="url(#sg)" opacity="0.59"/>
<rect x="104.7" y="160.47" width="9.5" height="1.53" fill="url(#sb)" opacity="0.35"/>
<rect x="35.3" y="160.47" width="6.8" height="1.53" fill="url(#sg)" opacity="0.78"/>
<rect x="123.0" y="160.47" width="7.8" height="1.53" fill="url(#sb)" opacity="0.40"/>
<rect x="51.1" y="160.47" width="7.2" height="1.53" fill="url(#sb)" opacity="0.46"/>
<rect x="131.4" y="160.47" width="9.6" height="1.53" fill="url(#b)" opacity="0.52"/>
<rect x="86.9" y="160.47" width="7.4" height="1.53" fill="url(#b)" opacity="0.58"/>
<rect x="48.5" y="16.73" width="15.0" height="1.53" fill="url(#o)"/>
<rect x="88.0" y="16.34" width="6.0" height="1.53" fill="url(#d)"/>
<rect x="103.1" y="16.73" width="8.2" height="1.53" fill="url(#d)"/>
<rect x="117.2" y="16.73" width="4.5" height="1.53" fill="url(#y)"/>
<rect x="124.0" y="16.73" width="6.0" height="1.53" fill="url(#y)"/>
<rect x="75.0" y="16.73" width="6.0" height="1.53" fill="url(#g)"/>
<rect x="85.0" y="17.04" width="6.0" height="1.53" fill="url(#b)"/>
<rect x="91.6" y="25.93" width="6.9" height="1.53" fill="url(#o)"/>
<rect x="81.8" y="25.93" width="11.1" height="1.53" fill="url(#g)"/>
<rect x="38.5" y="25.73" width="9.0" height="1.53" fill="url(#g)"/>
<rect x="44.5" y="27.73" width="27.0" height="1.53" fill="url(#b)"/>
<rect x="59.2" y="29.73" width="10.5" height="1.53" fill="url(#g)"/>
<rect x="39.1" y="33.94" width="5.2" height="1.53" fill="url(#d)"/>
<rect x="48.5" y="33.94" width="15.0" height="1.53" fill="url(#o)"/>
<rect x="48.5" y="35.44" width="15.0" height="1.53" fill="url(#d)"/>
<rect x="63.0" y="35.44" width="12.0" height="1.53" fill="url(#y)"/>
<rect x="39.0" y="35.44" width="6.0" height="1.53" fill="url(#y)"/>
<rect x="81.3" y="34.84" width="13.7" height="1.53" fill="url(#g)"/>
<rect x="103.1" y="34.23" width="8.2" height="1.53" fill="url(#d)"/>
<rect x="102.5" y="36.23" width="12.3" height="1.53" fill="url(#o)"/>
<rect x="115.2" y="34.23" width="16.5" height="1.53" fill="url(#b)"/>
<rect x="48.0" y="44.63" width="18.0" height="1.53" fill="url(#o)"/>
<rect x="38.6" y="58.53" width="8.2" height="1.53" fill="url(#d)"/>
<rect x="48.8" y="58.53" width="13.5" height="1.53" fill="url(#y)"/>
<rect x="81.8" y="58.73" width="11.1" height="1.53" fill="url(#b)"/>
<rect x="109.2" y="59.94" width="10.5" height="1.53" fill="url(#y)"/>
<rect x="63.2" y="65.94" width="22.5" height="1.53" fill="url(#g)"/>
<rect x="98.5" y="65.94" width="21.0" height="1.53" fill="url(#o)"/>
<rect x="38.2" y="75.23" width="10.5" height="1.53" fill="url(#y)"/>
<rect x="38.6" y="85.94" width="8.2" height="1.53" fill="url(#d)"/>
<rect x="48.8" y="85.94" width="13.5" height="1.53" fill="url(#o)"/>
<rect x="80.2" y="85.23" width="10.5" height="1.53" fill="url(#b)"/>
<rect x="102.9" y="85.94" width="9.8" height="1.53" fill="url(#d)"/>
<rect x="80.2" y="90.83" width="10.5" height="1.53" fill="url(#g)"/>
<rect x="38.6" y="96.23" width="8.2" height="1.53" fill="url(#d)"/>
<rect x="114.5" y="96.83" width="9.0" height="1.53" fill="url(#o)"/>
<rect x="92.6" y="105.94" width="11.2" height="1.53" fill="url(#o)"/>
<rect x="90.4" y="119.94" width="13.6" height="1.53" fill="url(#b)"/>
<rect x="100.8" y="119.94" width="13.5" height="1.53" fill="url(#b)"/>
<rect x="48.8" y="125.44" width="13.5" height="1.53" fill="url(#o)"/>
<rect x="110.0" y="137.24" width="16.3" height="1.53" fill="url(#d)"/>
<rect x="38.6" y="139.94" width="8.2" height="1.53" fill="url(#d)"/>
<rect x="48.8" y="139.94" width="13.5" height="1.53" fill="url(#o)"/>
<rect x="98.6" y="140.84" width="8.2" height="1.53" fill="url(#y)"/>
<rect x="109.5" y="140.84" width="19.2" height="1.53" fill="url(#y)"/>
<rect x="81.8" y="143.64" width="11.1" height="1.53" fill="url(#g)"/>
<rect x="109.5" y="150.84" width="19.2" height="1.53" fill="url(#o)"/>
<rect x="48.8" y="153.64" width="13.5" height="1.53" fill="url(#o)"/>
<rect x="113.6" y="154.24" width="14.2" height="1.53" fill="url(#d)"/>
<rect x="233.8" y="19.93" width="7.5" height="1.53" fill="url(#y)"/>
<rect x="169.8" y="41.84" width="7.5" height="1.53" fill="url(#y)"/>
<rect x="236.8" y="44.73" width="7.5" height="1.53" fill="url(#y)"/>
</g>
<line x1="54.60" y1="9.00" x2="54.60" y2="162.00" stroke="#f8f41a" stroke-width="1.8" stroke-dasharray="5 4.67" stroke-dashoffset="8.17"/>
<line x1="40.20" y1="69.60" x2="242.80" y2="69.60" stroke="#a2142f" stroke-width="1.7" stroke-dasharray="5.0 5.0" stroke-dashoffset="8.6"/>
<text x="75.40" y="48.60" font-size="12.9" text-anchor="start" fill="#000">Largest intensity</text>
<line x1="72.80" y1="51.00" x2="66.00" y2="59.90" stroke="#000" stroke-width="0.8"/>
<polygon points="63.1,63.7 64.3,58.3 68.4,61.4" fill="#000"/>
<text x="187.40" y="85.30" font-size="12.9" text-anchor="start" fill="#a2142f">Trace</text>
<text x="60.40" y="136.20" font-size="12.9" text-anchor="start" fill="#f6f400" stroke="#f6f400" stroke-width="0.15">Signal at 8.008km</text>
<text x="36.80" y="136.77" font-size="11.2" text-anchor="end" fill="#262626">20</text>
<text x="36.80" y="106.17" font-size="11.2" text-anchor="end" fill="#262626">40</text>
<text x="36.80" y="75.57" font-size="11.2" text-anchor="end" fill="#262626">60</text>
<text x="36.80" y="44.97" font-size="11.2" text-anchor="end" fill="#262626">80</text>
<text x="36.80" y="14.37" font-size="11.2" text-anchor="end" fill="#262626">100</text>
<text x="79.10" y="177.11" font-size="11.2" text-anchor="middle" fill="#262626">8.02</text>
<text x="120.13" y="177.11" font-size="11.2" text-anchor="middle" fill="#262626">8.04</text>
<text x="161.16" y="177.11" font-size="11.2" text-anchor="middle" fill="#262626">8.06</text>
<text x="202.19" y="177.11" font-size="11.2" text-anchor="middle" fill="#262626">8.08</text>
<text x="243.22" y="177.11" font-size="11.2" text-anchor="middle" fill="#262626">8.1</text>
<text x="141.50" y="192.70" font-size="12.6" text-anchor="middle" fill="#262626">Distance (km)</text>
<text transform="translate(14.2,85.3) rotate(-90)" font-size="12.6" text-anchor="middle" fill="#262626">Traces</text>
<text x="247.80" y="11.00" font-size="11.6" text-anchor="start" fill="#262626">(a)</text>
<rect x="320.50" y="9.30" width="206.00" height="154.20" fill="none" stroke="#8c8c8c" stroke-width="1"/>
<line x1="371.30" y1="163.50" x2="371.30" y2="161.20" stroke="#8c8c8c" stroke-width="0.8"/>
<line x1="371.30" y1="9.30" x2="371.30" y2="11.60" stroke="#8c8c8c" stroke-width="0.8"/>
<line x1="422.10" y1="163.50" x2="422.10" y2="161.20" stroke="#8c8c8c" stroke-width="0.8"/>
<line x1="422.10" y1="9.30" x2="422.10" y2="11.60" stroke="#8c8c8c" stroke-width="0.8"/>
<line x1="472.90" y1="163.50" x2="472.90" y2="161.20" stroke="#8c8c8c" stroke-width="0.8"/>
<line x1="472.90" y1="9.30" x2="472.90" y2="11.60" stroke="#8c8c8c" stroke-width="0.8"/>
<line x1="523.70" y1="163.50" x2="523.70" y2="161.20" stroke="#8c8c8c" stroke-width="0.8"/>
<line x1="523.70" y1="9.30" x2="523.70" y2="11.60" stroke="#8c8c8c" stroke-width="0.8"/>
<line x1="320.50" y1="141.20" x2="322.80" y2="141.20" stroke="#8c8c8c" stroke-width="0.8"/>
<line x1="526.50" y1="141.20" x2="524.20" y2="141.20" stroke="#8c8c8c" stroke-width="0.8"/>
<line x1="320.50" y1="97.20" x2="322.80" y2="97.20" stroke="#8c8c8c" stroke-width="0.8"/>
<line x1="526.50" y1="97.20" x2="524.20" y2="97.20" stroke="#8c8c8c" stroke-width="0.8"/>
<line x1="320.50" y1="53.20" x2="322.80" y2="53.20" stroke="#8c8c8c" stroke-width="0.8"/>
<line x1="526.50" y1="53.20" x2="524.20" y2="53.20" stroke="#8c8c8c" stroke-width="0.8"/>
<line x1="320.50" y1="9.20" x2="322.80" y2="9.20" stroke="#8c8c8c" stroke-width="0.8"/>
<line x1="526.50" y1="9.20" x2="524.20" y2="9.20" stroke="#8c8c8c" stroke-width="0.8"/>
<text x="316.80" y="146.21" font-size="11.2" text-anchor="end" fill="#262626">0</text>
<text x="316.80" y="102.21" font-size="11.2" text-anchor="end" fill="#262626">1</text>
<text x="316.80" y="58.21" font-size="11.2" text-anchor="end" fill="#262626">2</text>
<text x="316.80" y="14.21" font-size="11.2" text-anchor="end" fill="#262626">3</text>
<text x="320.50" y="178.91" font-size="11.2" text-anchor="middle" fill="#262626">0</text>
<text x="371.30" y="178.91" font-size="11.2" text-anchor="middle" fill="#262626">2</text>
<text x="422.10" y="178.91" font-size="11.2" text-anchor="middle" fill="#262626">4</text>
<text x="472.90" y="178.91" font-size="11.2" text-anchor="middle" fill="#262626">6</text>
<text x="523.70" y="178.91" font-size="11.2" text-anchor="middle" fill="#262626">8</text>
<text x="423.50" y="191.90" font-size="12.6" text-anchor="middle" fill="#262626">Distance (km)</text>
<text transform="translate(300.2,85.6) rotate(-90)" font-size="12.6" text-anchor="middle" fill="#262626">Intensity (A.U.)</text>
<text x="529.30" y="11.00" font-size="11.6" text-anchor="start" fill="#262626">(b)</text>
<polyline points="321.0,140.9 321.2,141.9 321.4,139.3 321.6,139.0 321.7,140.6 321.9,144.0 322.1,140.4 322.3,141.1 322.5,140.4 322.7,138.0 322.8,145.7 323.0,135.3 323.2,139.9 323.4,143.2 323.6,137.9 323.8,143.3 323.9,145.0 324.1,139.3 324.3,142.2 324.5,138.7 324.7,143.0 324.9,141.9 325.0,142.2 325.2,145.3 325.4,142.9 325.6,145.3 325.8,143.4 326.0,138.4 326.1,142.4 326.3,143.0 326.5,137.7 326.7,145.3 326.9,141.8 327.1,142.6 327.2,139.2 327.4,141.8 327.6,142.5 327.8,140.8 328.0,141.9 328.2,135.9 328.3,145.3 328.5,138.6 328.7,135.8 328.9,139.1 329.1,139.4 329.3,143.1 329.4,139.2 329.6,142.4 329.8,139.1 330.0,147.6 330.2,143.1 330.4,146.9 330.5,138.9 330.7,143.4 330.9,139.1 331.1,143.2 331.3,143.5 331.5,137.3 331.7,138.6 331.8,138.5 332.0,137.6 332.2,139.7 332.4,139.1 332.6,137.7 332.8,141.9 332.9,143.1 333.1,138.1 333.3,140.1 333.5,141.7 333.7,141.0 333.9,139.7 334.0,143.8 334.2,143.9 334.4,143.5 334.6,141.1 334.8,147.0 335.0,146.3 335.1,140.5 335.3,141.3 335.5,144.8 335.7,139.5 335.9,142.7 336.1,141.8 336.2,139.7 336.4,141.0 336.6,137.4 336.8,140.2 337.0,136.2 337.2,147.8 337.3,145.7 337.5,144.9 337.7,142.4 337.9,144.3 338.1,145.1 338.3,144.4 338.4,144.1 338.6,139.2 338.8,142.8 339.0,140.2 339.2,138.4 339.4,138.5 339.5,142.8 339.7,144.5 339.9,137.9 340.1,146.3 340.3,145.6 340.5,140.6 340.6,140.4 340.8,141.4 341.0,144.3 341.2,140.6 341.4,138.6 341.6,142.5 341.7,136.0 341.9,142.0 342.1,144.7 342.3,142.4 342.5,143.7 342.7,142.9 342.9,143.6 343.0,142.0 343.2,139.4 343.4,141.0 343.6,141.4 343.8,145.0 344.0,146.0 344.1,142.7 344.3,139.6 344.5,139.6 344.7,141.1 344.9,145.3 345.1,142.5 345.2,141.5 345.4,139.5 345.6,144.0 345.8,142.4 346.0,141.5 346.2,141.9 346.3,146.2 346.5,141.2 346.7,146.2 346.9,145.0 347.1,141.7 347.3,144.0 347.4,141.3 347.6,139.4 347.8,140.9 348.0,139.2 348.2,143.0 348.4,141.6 348.5,143.1 348.7,143.8 348.9,133.2 349.1,142.4 349.3,136.7 349.5,142.0 349.6,139.2 349.8,141.9 350.0,145.3 350.2,137.0 350.4,142.1 350.6,141.4 350.7,136.5 350.9,143.3 351.1,141.7 351.3,140.2 351.5,139.7 351.7,150.3 351.8,140.5 352.0,136.7 352.2,139.1 352.4,140.6 352.6,140.6 352.8,141.4 353.0,138.8 353.1,143.1 353.3,140.3 353.5,137.9 353.7,139.4 353.9,140.6 354.1,143.9 354.2,142.9 354.4,140.7 354.6,141.7 354.8,142.2 355.0,147.1 355.2,139.9 355.3,142.9 355.5,143.6 355.7,139.0 355.9,142.1 356.1,142.0 356.3,140.3 356.4,143.1 356.6,144.4 356.8,144.7 357.0,141.1 357.2,142.1 357.4,147.9 357.5,138.6 357.7,142.2 357.9,144.0 358.1,142.0 358.3,143.4 358.5,142.1 358.6,143.6 358.8,145.1 359.0,141.0 359.2,142.1 359.4,141.5 359.6,140.5 359.7,141.5 359.9,138.5 360.1,143.6 360.3,146.2 360.5,146.2 360.7,145.0 360.8,139.0 361.0,145.7 361.2,139.7 361.4,141.5 361.6,146.6 361.8,138.7 361.9,143.9 362.1,142.4 362.3,141.2 362.5,139.2 362.7,142.7 362.9,140.3 363.0,144.4 363.2,144.9 363.4,137.9 363.6,140.2 363.8,140.7 364.0,138.4 364.2,138.6 364.3,141.8 364.5,141.0 364.7,137.1 364.9,140.1 365.1,143.0 365.3,138.3 365.4,139.1 365.6,145.9 365.8,145.2 366.0,137.2 366.2,138.0 366.4,142.6 366.5,138.4 366.7,140.9 366.9,140.4 367.1,143.1 367.3,134.8 367.5,135.7 367.6,138.3 367.8,144.3 368.0,141.2 368.2,137.0 368.4,142.9 368.6,143.5 368.7,140.9 368.9,140.7 369.1,142.8 369.3,144.9 369.5,142.0 369.7,143.0 369.8,141.5 370.0,140.6 370.2,139.1 370.4,142.3 370.6,140.8 370.8,140.9 370.9,144.1 371.1,142.9 371.3,143.9 371.5,137.3 371.7,143.1 371.9,140.0 372.0,139.4 372.2,139.3 372.4,144.9 372.6,143.8 372.8,139.7 373.0,138.5 373.1,141.6 373.3,140.4 373.5,146.1 373.7,137.7 373.9,136.7 374.1,140.9 374.3,141.6 374.4,142.0 374.6,143.6 374.8,147.2 375.0,140.7 375.2,140.1 375.4,136.9 375.5,142.3 375.7,143.9 375.9,140.9 376.1,144.8 376.3,141.7 376.5,145.7 376.6,142.5 376.8,138.7 377.0,139.9 377.2,137.5 377.4,136.9 377.6,142.3 377.7,143.9 377.9,146.9 378.1,141.5 378.3,141.0 378.5,138.6 378.7,144.3 378.8,142.7 379.0,140.0 379.2,143.5 379.4,143.1 379.6,136.6 379.8,143.6 379.9,142.0 380.1,140.5 380.3,140.5 380.5,146.3 380.7,145.7 380.9,146.5 381.0,138.5 381.2,139.8 381.4,144.0 381.6,138.3 381.8,139.7 382.0,136.7 382.1,146.6 382.3,144.5 382.5,142.8 382.7,142.2 382.9,140.5 383.1,140.5 383.2,143.3 383.4,139.7 383.6,144.9 383.8,140.3 384.0,139.2 384.2,145.1 384.3,141.2 384.5,143.1 384.7,140.5 384.9,135.5 385.1,143.1 385.3,138.0 385.5,144.5 385.6,137.4 385.8,136.6 386.0,142.4 386.2,142.7 386.4,141.9 386.6,138.3 386.7,144.0 386.9,137.6 387.1,140.3 387.3,139.5 387.5,140.6 387.7,143.9 387.8,139.9 388.0,143.1 388.2,143.5 388.4,137.0 388.6,138.5 388.8,140.6 388.9,140.0 389.1,142.4 389.3,136.4 389.5,143.5 389.7,143.6 389.9,141.1 390.0,137.9 390.2,141.6 390.4,140.1 390.6,143.1 390.8,141.4 391.0,143.6 391.1,140.4 391.3,145.5 391.5,135.4 391.7,138.9 391.9,142.9 392.1,137.5 392.2,143.6 392.4,138.3 392.6,141.9 392.8,139.1 393.0,140.4 393.2,142.1 393.3,141.3 393.5,140.6 393.7,147.4 393.9,141.6 394.1,139.0 394.3,144.1 394.4,143.8 394.6,144.9 394.8,146.4 395.0,139.1 395.2,144.5 395.4,144.7 395.6,141.6 395.7,142.3 395.9,133.5 396.1,140.1 396.3,146.4 396.5,136.8 396.7,140.2 396.8,142.4 397.0,143.2 397.2,146.0 397.4,136.8 397.6,141.7 397.8,143.9 397.9,138.1 398.1,141.5 398.3,146.7 398.5,145.2 398.7,143.1 398.9,134.5 399.0,141.2 399.2,142.6 399.4,140.8 399.6,141.4 399.8,149.9 400.0,141.0 400.1,139.0 400.3,142.3 400.5,140.7 400.7,140.8 400.9,141.4 401.1,143.7 401.2,142.2 401.4,138.4 401.6,141.2 401.8,142.9 402.0,140.3 402.2,144.7 402.3,143.7 402.5,138.9 402.7,142.5 402.9,147.0 403.1,145.8 403.3,141.4 403.4,144.0 403.6,139.8 403.8,137.7 404.0,143.1 404.2,142.3 404.4,143.0 404.5,141.5 404.7,142.5 404.9,140.2 405.1,142.9 405.3,143.8 405.5,141.4 405.6,143.8 405.8,136.8 406.0,139.5 406.2,145.5 406.4,146.4 406.6,142.3 406.8,141.3 406.9,138.2 407.1,142.6 407.3,143.7 407.5,137.6 407.7,143.1 407.9,142.9 408.0,142.8 408.2,138.6 408.4,143.1 408.6,137.6 408.8,145.6 409.0,142.0 409.1,138.5 409.3,145.2 409.5,144.7 409.7,139.8 409.9,147.6 410.1,138.9 410.2,142.4 410.4,144.8 410.6,135.5 410.8,144.3 411.0,141.4 411.2,141.6 411.3,138.7 411.5,142.5 411.7,138.6 411.9,139.0 412.1,140.4 412.3,138.3 412.4,145.8 412.6,138.0 412.8,139.6 413.0,140.7 413.2,141.6 413.4,143.7 413.5,143.8 413.7,140.8 413.9,140.6 414.1,141.7 414.3,143.8 414.5,143.5 414.6,140.2 414.8,136.0 415.0,147.4 415.2,144.2 415.4,142.3 415.6,142.5 415.7,140.2 415.9,138.9 416.1,140.7 416.3,141.0 416.5,139.9 416.7,137.7 416.9,140.8 417.0,143.2 417.2,140.3 417.4,141.7 417.6,136.0 417.8,141.0 418.0,141.3 418.1,138.3 418.3,136.9 418.5,142.7 418.7,139.4 418.9,142.9 419.1,140.5 419.2,143.3 419.4,140.7 419.6,137.5 419.8,141.4 420.0,140.7 420.2,143.4 420.3,140.4 420.5,140.5 420.7,143.9 420.9,144.7 421.1,143.7 421.3,144.4 421.4,142.8 421.6,143.7 421.8,144.0 422.0,142.7 422.2,141.8 422.4,142.0 422.5,148.1 422.7,141.6 422.9,141.0 423.1,140.6 423.3,141.5 423.5,142.3 423.6,138.5 423.8,136.3 424.0,142.4 424.2,137.3 424.4,142.3 424.6,142.0 424.7,144.7 424.9,146.1 425.1,142.6 425.3,140.1 425.5,138.4 425.7,139.5 425.8,141.7 426.0,136.0 426.2,141.8 426.4,141.6 426.6,143.3 426.8,140.7 426.9,141.9 427.1,139.6 427.3,140.3 427.5,136.8 427.7,141.9 427.9,145.8 428.1,142.0 428.2,142.6 428.4,138.9 428.6,145.5 428.8,139.5 429.0,143.8 429.2,141.9 429.3,139.0 429.5,144.4 429.7,141.6 429.9,142.1 430.1,142.8 430.3,141.5 430.4,140.6 430.6,142.9 430.8,140.5 431.0,141.8 431.2,139.8 431.4,137.6 431.5,139.8 431.7,140.3 431.9,141.6 432.1,144.8 432.3,137.0 432.5,141.9 432.6,135.6 432.8,138.8 433.0,140.2 433.2,135.5 433.4,136.6 433.6,142.0 433.7,141.8 433.9,141.3 434.1,139.4 434.3,147.4 434.5,141.2 434.7,139.3 434.8,146.1 435.0,143.3 435.2,140.6 435.4,144.8 435.6,142.0 435.8,143.3 435.9,142.2 436.1,138.8 436.3,144.2 436.5,142.0 436.7,138.9 436.9,139.5 437.0,144.2 437.2,140.6 437.4,141.7 437.6,143.4 437.8,141.9 438.0,137.5 438.2,143.3 438.3,144.1 438.5,143.9 438.7,146.0 438.9,142.6 439.1,143.7 439.3,145.9 439.4,140.8 439.6,146.3 439.8,146.3 440.0,143.7 440.2,146.6 440.4,143.9 440.5,139.2 440.7,144.7 440.9,142.5 441.1,142.7 441.3,142.0 441.5,145.3 441.6,143.1 441.8,139.7 442.0,142.9 442.2,143.6 442.4,139.6 442.6,140.4 442.7,140.6 442.9,140.0 443.1,142.5 443.3,144.3 443.5,146.7 443.7,144.8 443.8,144.4 444.0,144.7 444.2,145.2 444.4,140.6 444.6,143.5 444.8,142.5 444.9,141.3 445.1,140.4 445.3,140.2 445.5,140.9 445.7,138.3 445.9,143.0 446.0,141.5 446.2,141.9 446.4,142.5 446.6,143.6 446.8,140.0 447.0,141.3 447.1,137.3 447.3,135.6 447.5,136.4 447.7,145.7 447.9,136.7 448.1,142.9 448.2,145.6 448.4,140.4 448.6,146.0 448.8,146.6 449.0,144.2 449.2,148.0 449.4,143.3 449.5,139.6 449.7,143.0 449.9,140.4 450.1,138.1 450.3,138.2 450.5,147.9 450.6,140.2 450.8,141.6 451.0,139.8 451.2,142.0 451.4,141.0 451.6,140.5 451.7,138.4 451.9,137.8 452.1,139.6 452.3,142.4 452.5,147.2 452.7,144.5 452.8,146.6 453.0,142.9 453.2,141.4 453.4,138.1 453.6,141.6 453.8,135.9 453.9,140.8 454.1,146.0 454.3,142.5 454.5,144.7 454.7,140.6 454.9,137.9 455.0,140.4 455.2,140.6 455.4,144.9 455.6,147.0 455.8,139.7 456.0,140.7 456.1,141.3 456.3,140.7 456.5,138.3 456.7,141.9 456.9,142.6 457.1,142.7 457.2,138.4 457.4,141.4 457.6,137.0 457.8,144.1 458.0,138.9 458.2,140.9 458.3,140.5 458.5,140.1 458.7,138.8 458.9,136.9 459.1,146.4 459.3,142.4 459.5,142.4 459.6,147.3 459.8,141.4 460.0,143.2 460.2,141.7 460.4,144.9 460.6,143.0 460.7,142.5 460.9,141.0 461.1,142.4 461.3,144.8 461.5,136.1 461.7,141.3 461.8,140.6 462.0,140.9 462.2,136.4 462.4,143.7 462.6,139.4 462.8,141.1 462.9,140.3 463.1,137.2 463.3,140.5 463.5,136.7 463.7,139.1 463.9,140.8 464.0,141.7 464.2,141.8 464.4,141.3 464.6,147.5 464.8,142.9 465.0,138.4 465.1,140.0 465.3,139.9 465.5,141.2 465.7,140.1 465.9,139.4 466.1,146.1 466.2,141.8 466.4,140.8 466.6,141.0 466.8,141.1 467.0,145.5 467.2,143.0 467.3,144.7 467.5,133.3 467.7,142.6 467.9,144.6 468.1,147.0 468.3,141.8 468.4,137.1 468.6,143.3 468.8,140.1 469.0,136.9 469.2,140.0 469.4,144.5 469.5,144.9 469.7,143.6 469.9,138.9 470.1,148.5 470.3,138.5 470.5,141.5 470.7,137.8 470.8,145.3 471.0,142.9 471.2,144.1 471.4,141.9 471.6,141.5 471.8,142.2 471.9,136.6 472.1,144.4 472.3,144.2 472.5,140.6 472.7,141.7 472.9,142.5 473.0,145.9 473.2,142.9 473.4,141.8 473.6,140.3 473.8,137.7 474.0,140.1 474.1,141.9 474.3,141.0 474.5,141.9 474.7,143.7 474.9,142.9 475.1,142.5 475.2,143.5 475.4,142.2 475.6,141.6 475.8,143.0 476.0,137.1 476.2,145.1 476.3,138.2 476.5,144.0 476.7,141.8 476.9,144.7 477.1,141.8 477.3,139.2 477.4,144.6 477.6,142.2 477.8,142.1 478.0,142.0 478.2,144.4 478.4,143.9 478.5,142.4 478.7,137.5 478.9,140.6 479.1,142.0 479.3,146.6 479.5,142.8 479.6,141.5 479.8,145.0 480.0,141.4 480.2,141.7 480.4,142.2 480.6,137.7 480.8,144.3 480.9,142.9 481.1,141.0 481.3,138.7 481.5,142.3 481.7,145.5 481.9,140.0 482.0,138.9 482.2,142.9 482.4,137.4 482.6,135.8 482.8,140.6 483.0,139.9 483.1,141.0 483.3,140.3 483.5,142.6 483.7,141.2 483.9,140.1 484.1,140.5 484.2,143.5 484.4,144.3 484.6,144.2 484.8,143.6 485.0,132.9 485.2,139.1 485.3,140.9 485.5,142.3 485.7,137.4 485.9,145.6 486.1,142.6 486.3,140.1 486.4,142.2 486.6,140.8 486.8,139.7 487.0,143.1 487.2,140.5 487.4,138.0 487.5,140.0 487.7,141.5 487.9,138.8 488.1,145.2 488.3,138.8 488.5,146.5 488.6,144.2 488.8,139.2 489.0,142.1 489.2,145.0 489.4,141.3 489.6,138.5 489.7,142.1 489.9,147.1 490.1,137.7 490.3,143.3 490.5,141.8 490.7,141.5 490.8,140.7 491.0,140.9 491.2,144.6 491.4,143.4 491.6,139.1 491.8,146.0 492.0,138.3 492.1,143.6 492.3,142.3 492.5,145.0 492.7,142.7 492.9,144.6 493.1,141.7 493.2,144.4 493.4,142.7 493.6,147.6 493.8,139.9 494.0,145.0 494.2,143.0 494.3,142.3 494.5,140.3 494.7,143.0 494.9,137.8 495.1,138.1 495.3,143.7 495.4,137.6 495.6,145.7 495.8,141.1 496.0,142.5 496.2,142.0 496.4,142.9 496.5,141.0 496.7,140.8 496.9,141.5 497.1,144.6 497.3,144.9 497.5,145.2 497.6,142.8 497.8,141.3 498.0,137.3 498.2,143.5 498.4,144.1 498.6,140.7 498.7,144.0 498.9,145.3 499.1,142.1 499.3,144.7 499.5,142.6 499.7,137.1 499.8,140.5 500.0,140.7 500.2,143.2 500.4,139.5 500.6,140.6 500.8,139.2 500.9,141.7 501.1,142.0 501.3,144.4 501.5,144.0 501.7,142.3 501.9,142.5 502.1,142.1 502.2,142.1 502.4,146.0 502.6,135.1 502.8,141.3 503.0,142.7 503.2,144.9 503.3,138.9 503.5,142.7 503.7,144.1 503.9,140.6 504.1,136.7 504.3,140.8 504.4,138.6 504.6,143.6 504.8,139.5 505.0,146.6 505.2,142.2 505.4,139.6 505.5,140.4 505.7,138.9 505.9,142.9 506.1,145.8 506.3,141.2 506.5,144.3 506.6,139.3 506.8,142.6 507.0,148.0 507.2,138.0 507.4,145.1 507.6,145.0 507.7,136.7 507.9,137.9 508.1,139.2 508.3,144.4 508.5,140.6 508.7,141.4 508.8,143.7 509.0,142.1 509.2,142.4 509.4,140.9 509.6,144.8 509.8,139.7 509.9,146.3 510.1,140.9 510.3,139.7 510.5,143.6 510.7,143.0 510.9,136.5 511.0,142.4 511.2,138.2 511.4,139.6 511.6,143.9 511.8,139.5 512.0,142.8 512.1,140.8 512.3,147.0 512.5,141.5 512.7,138.6 512.9,138.8 513.1,139.3 513.3,142.1 513.4,141.8 513.6,144.4 513.8,142.2 514.0,142.1 514.2,142.7 514.4,141.4 514.5,142.6 514.7,143.9 514.9,143.9 515.1,140.3 515.3,137.0 515.5,139.6 515.6,142.5 515.8,135.1 516.0,140.5 516.2,143.0 516.4,140.2 516.6,138.8 516.7,146.5 516.9,145.5 517.1,141.1 517.3,145.3 517.5,145.3 517.7,138.7 517.8,149.0 518.0,139.2 518.2,141.0 518.4,138.8 518.6,142.0 518.8,138.2 518.9,141.7 519.1,144.7 519.3,142.3 519.5,141.0 519.7,145.9 519.9,139.3 520.0,144.4 520.2,140.9 520.4,142.3 520.6,141.8 520.8,142.1 521.0,141.6 521.1,139.6 521.3,140.2 521.5,142.9 521.7,141.4 521.9,138.6 522.1,139.8 522.2,139.9 522.4,141.6 522.6,142.2 522.8,142.0" fill="none" stroke="#2a86cc" stroke-width="0.5" stroke-linejoin="round"/>
<polyline points="321.0,140.0 321.2,141.8 321.4,138.0 321.6,133.9 321.7,141.6 321.9,137.2 322.1,139.2 322.3,138.4 322.5,143.4 322.7,138.4 322.8,142.4 323.0,140.4 323.2,138.4 323.4,137.4 323.6,142.9 323.8,142.7 323.9,143.8 324.1,146.6 324.3,142.4 324.5,142.4 324.7,141.3 324.9,141.9 325.0,140.7 325.2,139.2 325.4,147.0 325.6,136.6 325.8,142.3 326.0,142.8 326.1,142.0 326.3,139.0 326.5,141.1 326.7,140.4 326.9,138.7 327.1,141.5 327.2,140.5 327.4,140.1 327.6,143.5 327.8,138.8 328.0,142.8 328.2,140.0 328.3,142.8 328.5,141.8 328.7,142.3 328.9,139.0 329.1,139.5 329.3,139.3 329.4,142.1 329.6,143.6 329.8,144.5 330.0,140.2 330.2,141.8 330.4,137.2 330.5,135.6 330.7,139.2 330.9,139.8 331.1,137.4 331.3,136.8 331.5,143.0 331.7,139.4 331.8,137.0 332.0,147.8 332.2,142.0 332.4,140.7 332.6,143.4 332.8,139.5 332.9,145.8 333.1,137.4 333.3,138.0 333.5,141.2 333.7,139.5 333.9,145.3 334.0,137.2 334.2,139.6 334.4,142.2 334.6,143.0 334.8,144.2 335.0,142.5 335.1,147.5 335.3,140.2 335.5,142.0 335.7,143.8 335.9,140.7 336.1,140.7 336.2,140.3 336.4,139.8 336.6,138.5 336.8,140.0 337.0,137.3 337.2,142.5 337.3,137.2 337.5,147.1 337.7,146.1 337.9,144.5 338.1,140.9 338.3,139.9 338.4,144.8 338.6,142.0 338.8,143.0 339.0,139.5 339.2,144.3 339.4,139.3 339.5,141.8 339.7,136.8 339.9,139.7 340.1,142.8 340.3,140.3 340.5,140.3 340.6,143.6 340.8,141.3 341.0,144.8 341.2,135.0 341.4,143.0 341.6,142.8 341.7,137.3 341.9,138.0 342.1,143.8 342.3,138.6 342.5,139.7 342.7,143.1 342.9,140.6 343.0,142.7 343.2,139.1 343.4,142.3 343.6,144.4 343.8,142.3 344.0,135.6 344.1,143.2 344.3,141.6 344.5,139.0 344.7,145.2 344.9,136.8 345.1,146.5 345.2,139.8 345.4,145.7 345.6,141.3 345.8,137.9 346.0,141.7 346.2,142.3 346.3,142.9 346.5,144.3 346.7,139.0 346.9,142.8 347.1,143.4 347.3,140.7 347.4,138.9 347.6,138.9 347.8,143.5 348.0,143.6 348.2,139.2 348.4,137.9 348.5,144.8 348.7,137.3 348.9,141.9 349.1,139.3 349.3,136.7 349.5,141.8 349.6,140.9 349.8,145.3 350.0,147.6 350.2,140.9 350.4,144.2 350.6,144.3 350.7,140.0 350.9,139.1 351.1,145.8 351.3,140.5 351.5,141.4 351.7,140.7 351.8,141.1 352.0,139.8 352.2,143.5 352.4,144.8 352.6,140.4 352.8,137.7 353.0,141.6 353.1,137.5 353.3,139.7 353.5,144.8 353.7,147.7 353.9,142.5 354.1,138.6 354.2,143.5 354.4,135.4 354.6,139.6 354.8,145.5 355.0,143.5 355.2,137.7 355.3,137.0 355.5,143.7 355.7,141.3 355.9,139.9 356.1,142.6 356.3,139.9 356.4,136.3 356.6,143.6 356.8,139.7 357.0,138.8 357.2,137.9 357.4,142.1 357.5,139.3 357.7,143.1 357.9,140.7 358.1,144.4 358.3,140.4 358.5,139.7 358.6,136.2 358.8,138.5 359.0,143.4 359.2,149.7 359.4,138.1 359.6,138.7 359.7,142.4 359.9,142.7 360.1,139.6 360.3,141.7 360.5,137.1 360.7,140.7 360.8,143.9 361.0,145.8 361.2,141.0 361.4,140.8 361.6,142.7 361.8,144.4 361.9,142.8 362.1,139.4 362.3,142.4 362.5,144.1 362.7,139.5 362.9,137.9 363.0,142.8 363.2,142.4 363.4,144.0 363.6,141.7 363.8,139.7 364.0,140.3 364.2,138.7 364.3,138.9 364.5,139.9 364.7,140.2 364.9,144.5 365.1,138.2 365.3,141.3 365.4,139.9 365.6,145.5 365.8,142.2 366.0,140.5 366.2,143.7 366.4,141.6 366.5,140.2 366.7,145.6 366.9,143.4 367.1,146.1 367.3,144.6 367.5,143.6 367.6,141.8 367.8,138.6 368.0,143.4 368.2,141.7 368.4,143.3 368.6,141.5 368.7,139.6 368.9,138.8 369.1,143.4 369.3,144.9 369.5,140.7 369.7,142.7 369.8,145.2 370.0,139.2 370.2,140.6 370.4,138.5 370.6,144.6 370.8,142.2 370.9,140.2 371.1,137.0 371.3,141.0 371.5,144.2 371.7,140.7 371.9,140.4 372.0,143.2 372.2,138.2 372.4,141.6 372.6,143.1 372.8,139.4 373.0,139.3 373.1,142.2 373.3,141.2 373.5,140.9 373.7,142.1 373.9,142.1 374.1,139.0 374.3,139.7 374.4,142.7 374.6,144.5 374.8,145.1 375.0,139.2 375.2,144.4 375.4,143.5 375.5,141.4 375.7,142.8 375.9,143.7 376.1,146.3 376.3,138.7 376.5,143.1 376.6,141.1 376.8,141.0 377.0,144.6 377.2,143.7 377.4,138.8 377.6,140.8 377.7,142.1 377.9,137.7 378.1,143.8 378.3,141.3 378.5,141.9 378.7,142.4 378.8,146.3 379.0,141.6 379.2,140.6 379.4,146.2 379.6,140.2 379.8,140.1 379.9,137.8 380.1,144.4 380.3,142.2 380.5,142.8 380.7,142.0 380.9,141.2 381.0,139.4 381.2,139.4 381.4,142.7 381.6,141.9 381.8,145.9 382.0,139.5 382.1,140.2 382.3,138.8 382.5,145.2 382.7,138.2 382.9,143.6 383.1,145.4 383.2,141.1 383.4,143.5 383.6,135.8 383.8,140.5 384.0,137.1 384.2,142.0 384.3,141.6 384.5,139.5 384.7,144.0 384.9,142.5 385.1,140.1 385.3,140.2 385.5,137.6 385.6,141.0 385.8,147.2 386.0,139.6 386.2,142.7 386.4,140.1 386.6,143.7 386.7,142.7 386.9,140.9 387.1,136.8 387.3,140.2 387.5,144.7 387.7,140.9 387.8,143.2 388.0,140.2 388.2,136.6 388.4,142.7 388.6,142.4 388.8,140.0 388.9,140.5 389.1,142.3 389.3,140.0 389.5,142.5 389.7,141.0 389.9,135.2 390.0,141.1 390.2,139.9 390.4,139.3 390.6,142.6 390.8,140.2 391.0,143.0 391.1,144.5 391.3,141.9 391.5,137.4 391.7,139.6 391.9,144.0 392.1,140.8 392.2,139.4 392.4,141.3 392.6,142.9 392.8,142.2 393.0,143.3 393.2,139.3 393.3,140.8 393.5,140.9 393.7,141.5 393.9,136.0 394.1,140.9 394.3,138.0 394.4,145.3 394.6,145.7 394.8,146.0 395.0,143.7 395.2,140.3 395.4,144.1 395.6,141.0 395.7,143.2 395.9,139.1 396.1,140.0 396.3,142.8 396.5,146.3 396.7,141.5 396.8,147.6 397.0,148.9 397.2,138.1 397.4,141.5 397.6,139.0 397.8,141.2 397.9,140.1 398.1,141.4 398.3,144.1 398.5,144.1 398.7,142.2 398.9,141.6 399.0,141.9 399.2,141.9 399.4,143.1 399.6,141.6 399.8,142.9 400.0,138.1 400.1,143.7 400.3,146.2 400.5,142.0 400.7,137.8 400.9,145.2 401.1,140.7 401.2,133.6 401.4,141.0 401.6,143.2 401.8,142.6 402.0,144.9 402.2,143.2 402.3,141.9 402.5,136.3 402.7,138.6 402.9,142.0 403.1,143.4 403.3,138.8 403.4,139.9 403.6,142.8 403.8,136.5 404.0,136.4 404.2,141.0 404.4,142.2 404.5,140.3 404.7,135.4 404.9,141.6 405.1,138.0 405.3,143.3 405.5,141.3 405.6,142.3 405.8,143.3 406.0,140.2 406.2,143.8 406.4,144.9 406.6,142.6 406.8,145.1 406.9,139.9 407.1,144.0 407.3,142.3 407.5,138.9 407.7,141.4 407.9,140.2 408.0,140.1 408.2,141.8 408.4,144.4 408.6,140.7 408.8,141.9 409.0,137.6 409.1,141.9 409.3,144.7 409.5,143.7 409.7,142.8 409.9,140.2 410.1,139.0 410.2,141.3 410.4,138.0 410.6,138.3 410.8,144.1 411.0,139.1 411.2,146.4 411.3,137.7 411.5,142.7 411.7,138.4 411.9,142.0 412.1,138.8 412.3,141.7 412.4,141.2 412.6,140.4 412.8,142.9 413.0,145.6 413.2,140.0 413.4,143.9 413.5,141.8 413.7,141.5 413.9,147.4 414.1,135.8 414.3,139.7 414.5,136.7 414.6,140.7 414.8,141.0 415.0,151.8 415.2,142.5 415.4,146.4 415.6,145.0 415.7,140.4 415.9,142.9 416.1,146.0 416.3,142.0 416.5,142.1 416.7,142.9 416.9,137.5 417.0,139.4 417.2,142.5 417.4,143.0 417.6,139.1 417.8,140.7 418.0,141.2 418.1,141.2 418.3,143.4 418.5,141.9 418.7,142.0 418.9,137.8 419.1,138.7 419.2,142.4 419.4,137.3 419.6,142.3 419.8,139.8 420.0,139.4 420.2,143.3 420.3,139.7 420.5,139.3 420.7,139.8 420.9,141.7 421.1,148.9 421.3,135.9 421.4,141.5 421.6,140.9 421.8,144.1 422.0,140.6 422.2,134.9 422.4,145.1 422.5,138.6 422.7,141.4 422.9,137.9 423.1,138.6 423.3,140.2 423.5,143.8 423.6,143.8 423.8,139.9 424.0,142.9 424.2,140.5 424.4,141.8 424.6,142.0 424.7,143.2 424.9,139.9 425.1,141.2 425.3,142.1 425.5,141.8 425.7,139.4 425.8,146.1 426.0,140.3 426.2,143.6 426.4,142.1 426.6,144.8 426.8,135.7 426.9,147.0 427.1,141.0 427.3,138.2 427.5,141.9 427.7,147.6 427.9,142.9 428.1,138.2 428.2,140.3 428.4,145.1 428.6,137.8 428.8,141.0 429.0,140.7 429.2,147.3 429.3,140.7 429.5,145.0 429.7,139.7 429.9,139.4 430.1,144.2 430.3,143.2 430.4,136.9 430.6,143.2 430.8,143.2 431.0,139.9 431.2,142.1 431.4,142.2 431.5,140.2 431.7,139.9 431.9,139.7 432.1,140.8 432.3,137.9 432.5,141.4 432.6,137.5 432.8,141.7 433.0,141.3 433.2,138.7 433.4,143.8 433.6,146.7 433.7,145.1 433.9,137.8 434.1,144.9 434.3,142.1 434.5,141.4 434.7,139.9 434.8,141.5 435.0,145.2 435.2,143.0 435.4,140.4 435.6,139.7 435.8,140.4 435.9,143.1 436.1,146.5 436.3,138.7 436.5,141.5 436.7,140.5 436.9,139.5 437.0,142.6 437.2,143.0 437.4,137.7 437.6,138.7 437.8,144.7 438.0,142.4 438.2,142.9 438.3,140.2 438.5,140.5 438.7,142.7 438.9,140.2 439.1,138.5 439.3,141.5 439.4,143.9 439.6,138.7 439.8,144.3 440.0,143.4 440.2,139.2 440.4,141.5 440.5,141.4 440.7,143.2 440.9,143.3 441.1,138.0 441.3,137.9 441.5,144.3 441.6,141.8 441.8,142.6 442.0,142.4 442.2,145.6 442.4,138.3 442.6,144.4 442.7,139.3 442.9,143.5 443.1,145.1 443.3,137.8 443.5,142.6 443.7,140.8 443.8,140.7 444.0,141.6 444.2,138.7 444.4,138.9 444.6,143.3 444.8,143.8 444.9,140.0 445.1,137.6 445.3,147.7 445.5,144.4 445.7,142.5 445.9,138.8 446.0,140.0 446.2,142.2 446.4,138.9 446.6,145.8 446.8,141.9 447.0,142.6 447.1,138.8 447.3,139.1 447.5,139.4 447.7,142.2 447.9,140.8 448.1,140.7 448.2,142.3 448.4,142.1 448.6,145.5 448.8,141.0 449.0,138.8 449.2,141.5 449.4,145.4 449.5,140.0 449.7,141.6 449.9,140.6 450.1,142.6 450.3,142.2 450.5,139.4 450.6,140.9 450.8,144.0 451.0,144.4 451.2,144.0 451.4,143.8 451.6,140.6 451.7,140.5 451.9,144.0 452.1,138.4 452.3,141.4 452.5,136.6 452.7,140.5 452.8,139.6 453.0,138.3 453.2,143.0 453.4,139.6 453.6,140.5 453.8,140.8 453.9,139.6 454.1,145.3 454.3,140.2 454.5,142.0 454.7,138.0 454.9,140.3 455.0,140.7 455.2,140.7 455.4,140.0 455.6,141.9 455.8,145.6 456.0,141.2 456.1,141.1 456.3,140.5 456.5,148.2 456.7,145.8 456.9,143.0 457.1,143.4 457.2,139.6 457.4,141.1 457.6,142.1 457.8,141.8 458.0,139.2 458.2,139.4 458.3,142.9 458.5,142.3 458.7,135.9 458.9,141.8 459.1,144.9 459.3,139.8 459.5,142.2 459.6,137.7 459.8,143.7 460.0,138.6 460.2,138.2 460.4,140.7 460.6,147.8 460.7,139.9 460.9,138.2 461.1,142.7 461.3,142.1 461.5,145.9 461.7,138.2 461.8,137.3 462.0,140.7 462.2,142.5 462.4,142.5 462.6,144.4 462.8,137.6 462.9,139.3 463.1,141.2 463.3,143.7 463.5,142.8 463.7,140.4 463.9,138.8 464.0,143.9 464.2,144.0 464.4,148.7 464.6,141.0 464.8,145.8 465.0,138.3 465.1,140.1 465.3,139.7 465.5,140.3 465.7,139.2 465.9,140.1 466.1,141.4 466.2,140.3 466.4,143.3 466.6,141.3 466.8,141.5 467.0,145.4 467.2,142.4 467.3,141.9 467.5,141.5 467.7,141.7 467.9,143.0 468.1,139.4 468.3,144.5 468.4,145.7 468.6,144.6 468.8,140.2 469.0,137.3 469.2,140.4 469.4,141.9 469.5,143.7 469.7,141.0 469.9,140.7 470.1,145.5 470.3,139.7 470.5,144.3 470.7,143.9 470.8,138.0 471.0,142.3 471.2,140.0 471.4,139.0 471.6,136.6 471.8,137.4 471.9,142.6 472.1,140.5 472.3,142.2 472.5,138.7 472.7,140.7 472.9,140.8 473.0,137.4 473.2,137.1 473.4,142.7 473.6,141.9 473.8,139.1 474.0,141.3 474.1,143.3 474.3,146.4 474.5,139.2 474.7,143.2 474.9,147.1 475.1,141.7 475.2,145.4 475.4,134.7 475.6,145.4 475.8,141.5 476.0,136.6 476.2,143.6 476.3,144.3 476.5,144.7 476.7,144.7 476.9,141.4 477.1,139.5 477.3,140.3 477.4,141.4 477.6,142.6 477.8,140.2 478.0,141.6 478.2,143.8 478.4,142.4 478.5,147.6 478.7,147.2 478.9,138.5 479.1,140.0 479.3,138.1 479.5,138.4 479.6,143.0 479.8,138.9 480.0,138.7 480.2,140.8 480.4,143.6 480.6,140.6 480.8,140.6 480.9,144.0 481.1,142.8 481.3,142.7 481.5,144.0 481.7,138.8 481.9,142.1 482.0,139.8 482.2,144.2 482.4,143.7 482.6,138.8 482.8,145.1 483.0,138.4 483.1,144.6 483.3,142.1 483.5,139.2 483.7,138.6 483.9,140.7 484.1,141.5 484.2,139.6 484.4,143.0 484.6,137.8 484.8,141.5 485.0,141.5 485.2,136.6 485.3,142.3 485.5,138.2 485.7,134.9 485.9,139.9 486.1,140.9 486.3,143.9 486.4,140.2 486.6,145.4 486.8,145.3 487.0,144.4 487.2,145.0 487.4,142.5 487.5,140.0 487.7,143.2 487.9,144.1 488.1,142.2 488.3,140.9 488.5,137.3 488.6,143.3 488.8,142.5 489.0,138.1 489.2,141.8 489.4,143.4 489.6,141.2 489.7,143.6 489.9,143.5 490.1,137.6 490.3,140.7 490.5,142.8 490.7,144.0 490.8,145.3 491.0,136.4 491.2,141.3 491.4,143.4 491.6,144.8 491.8,146.0 492.0,139.0 492.1,140.5 492.3,138.7 492.5,143.7 492.7,138.0 492.9,144.7 493.1,144.0 493.2,142.8 493.4,135.7 493.6,139.7 493.8,143.5 494.0,137.7 494.2,140.9 494.3,141.2 494.5,143.9 494.7,142.3 494.9,142.2 495.1,140.3 495.3,141.5 495.4,141.2 495.6,143.5 495.8,141.0 496.0,144.3 496.2,137.0 496.4,144.7 496.5,141.1 496.7,144.5 496.9,141.7 497.1,143.8 497.3,145.5 497.5,140.0 497.6,141.7 497.8,141.1 498.0,142.1 498.2,137.2 498.4,141.1 498.6,140.8 498.7,139.4 498.9,141.0 499.1,137.4 499.3,145.2 499.5,142.7 499.7,146.5 499.8,139.2 500.0,138.4 500.2,142.3 500.4,137.1 500.6,142.1 500.8,139.6 500.9,140.6 501.1,142.2 501.3,141.6 501.5,146.5 501.7,143.2 501.9,138.1 502.1,144.1 502.2,137.9 502.4,141.7 502.6,138.2 502.8,139.3 503.0,145.0 503.2,140.0 503.3,139.8 503.5,140.0 503.7,140.7 503.9,145.3 504.1,138.4 504.3,138.2 504.4,143.0 504.6,137.2 504.8,140.5 505.0,144.5 505.2,141.5 505.4,140.2 505.5,139.6 505.7,139.0 505.9,139.9 506.1,141.9 506.3,144.8 506.5,144.1 506.6,140.0 506.8,139.5 507.0,143.3 507.2,136.6 507.4,140.3 507.6,140.6 507.7,138.5 507.9,138.8 508.1,142.4 508.3,137.1 508.5,139.0 508.7,139.7 508.8,141.7 509.0,137.8 509.2,144.4 509.4,140.6 509.6,140.8 509.8,140.5 509.9,139.7 510.1,138.8 510.3,144.5 510.5,142.0 510.7,141.1 510.9,144.1 511.0,139.5 511.2,143.1 511.4,141.5 511.6,139.1 511.8,143.5 512.0,137.4 512.1,143.2 512.3,139.1 512.5,142.5 512.7,145.1 512.9,142.9 513.1,139.8 513.3,141.3 513.4,140.4 513.6,138.3 513.8,138.5 514.0,141.5 514.2,142.8 514.4,136.7 514.5,141.2 514.7,142.7 514.9,141.7 515.1,138.7 515.3,144.1 515.5,138.2 515.6,143.1 515.8,145.6 516.0,136.0 516.2,142.1 516.4,142.2 516.6,142.0 516.7,139.3 516.9,140.5 517.1,137.7 517.3,141.7 517.5,142.8 517.7,139.6 517.8,138.9 518.0,140.1 518.2,141.3 518.4,141.5 518.6,141.1 518.8,141.5 518.9,137.9 519.1,134.1 519.3,143.0 519.5,145.1 519.7,137.6 519.9,139.6 520.0,142.1 520.2,143.9 520.4,143.1 520.6,144.7 520.8,141.2 521.0,142.4 521.1,142.4 521.3,140.2 521.5,144.5 521.7,143.0 521.9,143.9 522.1,140.3 522.2,144.1 522.4,138.5 522.6,142.4 522.8,134.4" fill="none" stroke="#2a86cc" stroke-width="0.5" stroke-linejoin="round"/>
<rect x="321.0" y="137.80" width="201.80" height="7.6" fill="#0072bd"/>
<line x1="524.50" y1="96.50" x2="524.80" y2="163.00" stroke="#5aa6e0" stroke-width="1.2"/>
<line x1="524.90" y1="121.00" x2="524.90" y2="157.00" stroke="#1f7cc4" stroke-width="1.5"/>
<rect x="523.2" y="95.6" width="4.6" height="68.4" fill="none" stroke="#9a9a9a" stroke-width="1" stroke-dasharray="1.4 1.1"/>
<rect x="343.40" y="13.50" width="173.60" height="100.50" fill="#fff" stroke="#8c8c8c" stroke-width="1"/>
<line x1="378.12" y1="114.00" x2="378.12" y2="112.20" stroke="#8c8c8c" stroke-width="0.8"/>
<line x1="378.12" y1="13.50" x2="378.12" y2="15.30" stroke="#8c8c8c" stroke-width="0.8"/>
<line x1="412.84" y1="114.00" x2="412.84" y2="112.20" stroke="#8c8c8c" stroke-width="0.8"/>
<line x1="412.84" y1="13.50" x2="412.84" y2="15.30" stroke="#8c8c8c" stroke-width="0.8"/>
<line x1="447.56" y1="114.00" x2="447.56" y2="112.20" stroke="#8c8c8c" stroke-width="0.8"/>
<line x1="447.56" y1="13.50" x2="447.56" y2="15.30" stroke="#8c8c8c" stroke-width="0.8"/>
<line x1="482.28" y1="114.00" x2="482.28" y2="112.20" stroke="#8c8c8c" stroke-width="0.8"/>
<line x1="482.28" y1="13.50" x2="482.28" y2="15.30" stroke="#8c8c8c" stroke-width="0.8"/>
<line x1="343.40" y1="103.90" x2="345.20" y2="103.90" stroke="#8c8c8c" stroke-width="0.8"/>
<line x1="517.00" y1="103.90" x2="515.20" y2="103.90" stroke="#8c8c8c" stroke-width="0.8"/>
<line x1="343.40" y1="73.90" x2="345.20" y2="73.90" stroke="#8c8c8c" stroke-width="0.8"/>
<line x1="517.00" y1="73.90" x2="515.20" y2="73.90" stroke="#8c8c8c" stroke-width="0.8"/>
<line x1="343.40" y1="43.90" x2="345.20" y2="43.90" stroke="#8c8c8c" stroke-width="0.8"/>
<line x1="517.00" y1="43.90" x2="515.20" y2="43.90" stroke="#8c8c8c" stroke-width="0.8"/>
<text x="339.90" y="18.91" font-size="11.2" text-anchor="end" fill="#262626">1</text>
<text x="339.90" y="48.91" font-size="11.2" text-anchor="end" fill="#262626">0.5</text>
<text x="339.90" y="78.91" font-size="11.2" text-anchor="end" fill="#262626">0</text>
<text x="339.90" y="108.91" font-size="11.2" text-anchor="end" fill="#262626">-0.5</text>
<text x="343.40" y="129.61" font-size="11.2" text-anchor="middle" fill="#262626">8</text>
<text x="378.12" y="129.61" font-size="11.2" text-anchor="middle" fill="#262626">8.02</text>
<text x="412.84" y="129.61" font-size="11.2" text-anchor="middle" fill="#262626">8.04</text>
<text x="447.56" y="129.61" font-size="11.2" text-anchor="middle" fill="#262626">8.06</text>
<text x="482.28" y="129.61" font-size="11.2" text-anchor="middle" fill="#262626">8.08</text>
<text x="517.00" y="129.61" font-size="11.2" text-anchor="middle" fill="#262626">8.1</text>
<clipPath id="ci"><rect x="343.4" y="13.5" width="173.60000000000002" height="100.5"/></clipPath>
<g clip-path="url(#ci)">
<polyline points="343.9,104.2 348.6,110.8 357.0,13.9 361.0,36.2 363.6,55.8 366.2,80.7 367.5,91.2 369.3,83.3 371.4,80.7 373.2,71.5 375.9,63.7 378.0,70.2 380.6,74.1 383.2,100.3 385.8,88.5 387.9,85.9 389.2,89.8 391.0,71.5 393.1,57.1 395.0,44.0 396.3,53.2 398.1,80.7 400.2,113.4 402.1,91.2 404.2,80.7 406.3,76.8 408.1,49.3 409.4,41.4 411.2,53.2 412.8,42.7 414.6,34.9 416.5,50.6 418.0,51.9 419.9,58.4 421.2,65.0 423.3,68.9 425.1,66.3 426.9,70.2 428.5,66.3 430.3,74.1 433.0,78.0 434.8,75.4 436.9,72.8 439.0,75.4 441.6,80.7 443.4,72.8 446.0,58.4 448.7,62.4 450.8,68.9 452.6,71.5 455.0,66.3 457.1,72.8 458.9,70.2 460.8,72.8 462.9,71.5 465.0,72.8 466.8,72.3 469.4,76.8 472.0,74.1 474.6,72.8 477.3,68.9 479.1,59.7 480.7,57.1 482.5,66.3 484.3,59.7 485.9,67.6 487.7,58.4 489.6,70.2 491.6,74.1 493.7,66.3 495.6,72.8 497.4,71.5 499.5,74.1 501.6,66.3 503.4,78.0 505.3,82.0 507.4,87.2 509.2,83.3 510.8,89.8 512.1,93.2 513.9,72.8 515.7,62.4 516.6,70.0" fill="none" stroke="#62abe4" stroke-width="1.0" stroke-linejoin="round"/>
<polyline points="343.9,99.0 347.9,101.6 357.8,25.7 362.3,53.2 366.2,74.1 370.1,79.4 375.3,70.2 379.3,72.8 383.2,93.8 388.4,83.3 391.0,74.1 393.7,58.4 396.3,58.4 398.1,78.0 400.2,106.9 402.9,85.9 406.8,72.8 409.4,55.8 412.0,49.3 414.6,40.1 417.3,58.4 421.2,67.6 425.1,71.5 429.0,74.1 434.3,78.0 439.5,76.8 442.1,76.8 446.0,63.7 450.0,68.9 455.0,72.8 460.2,74.1 465.5,72.8 470.7,74.1 475.9,72.8 479.9,63.7 483.8,66.3 487.7,65.0 491.6,70.2 496.9,72.8 502.1,75.4 507.4,79.4 511.3,80.7 513.9,74.1 516.6,70.2" fill="none" stroke="#f0484f" stroke-width="1.0" stroke-linejoin="round" stroke-dasharray="2.6 1.6"/>
</g>
<line x1="354.50" y1="58.10" x2="362.20" y2="58.10" stroke="#888" stroke-width="0.6"/>
<polygon points="353.6,58.1 356.4,56.6 356.4,59.6" fill="#000"/>
<polygon points="363.1,58.1 360.3,56.6 360.3,59.6" fill="#000"/>
<text x="352.20" y="68.90" font-size="8.8" text-anchor="start" fill="#111">7m</text>
<rect x="419.20" y="16.80" width="94.70" height="28.00" fill="#fff" stroke="#8c8c8c" stroke-width="0.8"/>
<line x1="421.70" y1="23.80" x2="440.20" y2="23.80" stroke="#8fc2ea" stroke-width="1.6"/>
<line x1="421.70" y1="36.40" x2="440.20" y2="36.40" stroke="#f47a7a" stroke-width="1.3" stroke-dasharray="2.2 1.6"/>
<text x="442.20" y="28.20" font-size="10.35" text-anchor="start" fill="#111">Raw trace</text>
<text x="442.20" y="40.60" font-size="10.35" text-anchor="start" fill="#111">Denoised trace</text>
<rect x="41.30" y="212.30" width="202.00" height="151.40" fill="none" stroke="#8c8c8c" stroke-width="1"/>
<line x1="81.70" y1="363.70" x2="81.70" y2="361.40" stroke="#8c8c8c" stroke-width="0.8"/>
<line x1="81.70" y1="212.30" x2="81.70" y2="214.60" stroke="#8c8c8c" stroke-width="0.8"/>
<line x1="122.10" y1="363.70" x2="122.10" y2="361.40" stroke="#8c8c8c" stroke-width="0.8"/>
<line x1="122.10" y1="212.30" x2="122.10" y2="214.60" stroke="#8c8c8c" stroke-width="0.8"/>
<line x1="162.50" y1="363.70" x2="162.50" y2="361.40" stroke="#8c8c8c" stroke-width="0.8"/>
<line x1="162.50" y1="212.30" x2="162.50" y2="214.60" stroke="#8c8c8c" stroke-width="0.8"/>
<line x1="202.90" y1="363.70" x2="202.90" y2="361.40" stroke="#8c8c8c" stroke-width="0.8"/>
<line x1="202.90" y1="212.30" x2="202.90" y2="214.60" stroke="#8c8c8c" stroke-width="0.8"/>
<line x1="41.30" y1="325.85" x2="43.60" y2="325.85" stroke="#8c8c8c" stroke-width="0.8"/>
<line x1="243.30" y1="325.85" x2="241.00" y2="325.85" stroke="#8c8c8c" stroke-width="0.8"/>
<line x1="41.30" y1="288.00" x2="43.60" y2="288.00" stroke="#8c8c8c" stroke-width="0.8"/>
<line x1="243.30" y1="288.00" x2="241.00" y2="288.00" stroke="#8c8c8c" stroke-width="0.8"/>
<line x1="41.30" y1="250.15" x2="43.60" y2="250.15" stroke="#8c8c8c" stroke-width="0.8"/>
<line x1="243.30" y1="250.15" x2="241.00" y2="250.15" stroke="#8c8c8c" stroke-width="0.8"/>
<text x="36.60" y="217.31" font-size="11.2" text-anchor="end" fill="#262626">1</text>
<text x="36.60" y="255.16" font-size="11.2" text-anchor="end" fill="#262626">0.5</text>
<text x="36.60" y="293.01" font-size="11.2" text-anchor="end" fill="#262626">0</text>
<text x="36.60" y="330.86" font-size="11.2" text-anchor="end" fill="#262626">-0.5</text>
<text x="36.60" y="368.71" font-size="11.2" text-anchor="end" fill="#262626">-1</text>
<text x="41.30" y="380.31" font-size="11.2" text-anchor="middle" fill="#262626">0</text>
<text x="81.70" y="380.31" font-size="11.2" text-anchor="middle" fill="#262626">20</text>
<text x="122.10" y="380.31" font-size="11.2" text-anchor="middle" fill="#262626">40</text>
<text x="162.50" y="380.31" font-size="11.2" text-anchor="middle" fill="#262626">60</text>
<text x="202.90" y="380.31" font-size="11.2" text-anchor="middle" fill="#262626">80</text>
<text x="243.30" y="380.31" font-size="11.2" text-anchor="middle" fill="#262626">100</text>
<text x="142.30" y="395.50" font-size="12.6" text-anchor="middle" fill="#262626">Time (ms)</text>
<text transform="translate(13.8,288.2) rotate(-90)" font-size="12.6" text-anchor="middle" fill="#262626">Intensity (A.U.)</text>
<text x="247.80" y="214.30" font-size="11.6" text-anchor="start" fill="#262626">(c)</text>
<clipPath id="cc"><rect x="41.3" y="212.3" width="202.0" height="151.39999999999998"/></clipPath>
<g clip-path="url(#cc)">
<polyline points="41.6,284.0 43.3,292.2 45.7,313.9 48.2,297.4 50.5,269.0 51.5,235.7 53.2,275.0 54.5,288.4 55.7,286.2 57.7,300.4 60.2,296.7 63.2,279.5 65.7,307.2 67.7,289.9 69.6,250.4 71.4,274.2 73.2,312.4 75.2,288.4 77.4,291.4 79.7,301.2 81.9,287.7 84.2,293.7 85.7,282.5 87.6,249.7 89.4,279.5 91.6,298.9 93.9,289.2 96.1,291.4 97.6,290.7 99.9,306.4 102.1,283.2 104.1,281.7 105.9,264.5 108.4,294.5 110.2,287.1 112.1,285.2 114.3,292.7 117.1,301.1 119.6,289.9 122.2,288.9 124.3,278.6 125.9,264.6 127.4,282.4 129.3,295.5 131.2,291.7 133.0,289.9 134.3,302.9 135.8,275.8 137.7,304.8 140.1,251.5 142.0,282.4 144.3,306.7 146.1,288.9 148.4,287.1 150.8,292.7 152.7,298.3 154.5,290.8 156.4,288.0 158.3,301.1 159.8,288.0 161.1,267.4 162.5,212.5 163.3,278.6 164.4,317.9 165.7,299.2 167.6,301.1 169.5,289.9 170.8,284.3 172.1,310.2 174.2,277.4 176.4,253.0 178.5,273.1 180.6,290.1 182.7,294.3 184.8,302.8 186.5,288.0 188.4,309.2 190.6,281.6 192.7,304.9 194.8,247.7 196.9,309.2 198.6,288.0 200.7,310.2 202.8,277.4 204.5,270.0 206.6,349.0 208.6,233.6 210.7,283.7 212.4,296.4 214.5,288.0 217.2,320.2 218.7,263.6 220.4,288.0 222.5,294.3 224.7,302.8 226.8,296.4 228.9,277.4 231.2,245.6 233.1,292.2 235.7,295.4 237.8,292.2 241.0,297.5 243.1,294.3" fill="none" stroke="#4d9bd8" stroke-width="0.9" stroke-linejoin="round"/>
<polyline points="41.6,284.8 42.6,280.4 43.6,278.4 44.6,284.2 45.6,289.6 46.6,290.0 47.7,292.1 48.7,287.7 49.7,285.5 50.7,285.7 51.7,288.8 52.7,285.2 53.7,281.7 54.7,278.2 55.7,284.2 56.7,289.5 57.8,291.9 58.8,290.6 59.8,288.7 60.8,282.8 61.8,278.8 62.8,283.6 63.8,290.5 64.8,294.6 65.8,293.3 66.8,289.1 67.9,283.2 68.9,280.8 69.9,278.9 70.9,278.6 71.9,279.9 72.9,281.3 73.9,280.4 74.9,279.3 75.9,281.1 76.9,285.7 78.0,289.3 79.0,291.1 80.0,289.7 81.0,289.0 82.0,285.8 83.0,283.9 84.0,283.3 85.0,283.7 86.0,285.4 87.0,285.1 88.1,285.2 89.1,283.2 90.1,283.0 91.1,280.7 92.1,279.5 93.1,283.4 94.1,286.3 95.1,286.7 96.1,287.4 97.1,287.6 98.2,289.9 99.2,289.0 100.2,289.0 101.2,286.0 102.2,286.3 103.2,281.9 104.2,280.5 105.2,275.2 106.2,276.1 107.2,279.9 108.3,287.4 109.3,285.1 110.3,286.4 111.3,285.7 112.3,288.4 113.3,286.9 114.3,287.7 115.3,287.2 116.3,286.0 117.3,283.9 118.4,284.7 119.4,288.2 120.4,292.0 121.4,291.1 122.4,290.7 123.4,289.8 124.4,290.5 125.4,285.4 126.4,281.0 127.4,279.9 128.5,283.4 129.5,285.9 130.5,285.3 131.5,285.5 132.5,287.7 133.5,288.4 134.5,285.7 135.5,284.1 136.5,284.5 137.5,283.5 138.6,282.9 139.6,284.0 140.6,286.4 141.6,285.6 142.6,288.3 143.6,287.2 144.6,288.2 145.6,287.2 146.6,285.4 147.6,280.8 148.7,278.5 149.7,280.3 150.7,279.4 151.7,281.1 152.7,283.3 153.7,286.6 154.7,287.4 155.7,287.2 156.7,285.0 157.7,282.4 158.8,281.0 159.8,283.2 160.8,285.2 161.8,287.0 162.8,286.2 163.8,286.0 164.8,284.6 165.8,287.2 166.8,287.2 167.8,288.1 168.9,285.0 169.9,283.2 170.9,287.0 171.9,291.2 172.9,290.8 173.9,289.9 174.9,285.7 175.9,282.4 176.9,283.5 177.9,286.4 179.0,285.9 180.0,287.7 181.0,290.0 182.0,292.5 183.0,294.4 184.0,291.6 185.0,288.0 186.0,285.3 187.0,284.3 188.0,285.0 189.1,280.8 190.1,275.2 191.1,276.6 192.1,283.3 193.1,286.2 194.1,286.8 195.1,288.6 196.1,289.2 197.1,282.6 198.1,274.7 199.2,278.2 200.2,285.5 201.2,288.7 202.2,284.9 203.2,279.5 204.2,276.0 205.2,281.5 206.2,285.5 207.2,284.0 208.2,283.6 209.3,283.4 210.3,282.7 211.3,283.4 212.3,285.9 213.3,285.7 214.3,285.1 215.3,285.0 216.3,287.1 217.3,287.6 218.3,285.3 219.4,278.6 220.4,278.2 221.4,282.0 222.4,286.2 223.4,286.3 224.4,286.7 225.4,286.7 226.4,288.1 227.4,288.2 228.4,289.0 229.5,289.1 230.5,286.7 231.5,283.9 232.5,284.2 233.5,288.9 234.5,290.0 235.5,290.6 236.5,288.4 237.5,287.6 238.5,288.2 239.6,288.8 240.6,290.0 241.6,289.8 242.6,290.3" fill="none" stroke="#95c35a" stroke-width="0.8" stroke-linejoin="round" stroke-dasharray="2.5 1.2 0.8 1.2"/>
<polyline points="41.6,282.4 43.3,292.7 45.7,306.4 48.2,295.4 50.5,268.8 51.5,248.3 53.2,278.5 54.5,288.2 55.7,287.3 57.7,297.9 60.2,297.5 63.2,281.4 65.7,299.2 67.7,288.8 69.6,259.8 71.4,277.8 73.2,305.3 75.2,289.5 77.4,290.7 79.7,299.1 81.9,284.2 84.2,290.3 85.7,284.8 87.6,256.0 89.4,281.7 91.6,300.3 93.9,288.2 96.1,291.0 97.6,288.8 99.9,300.4 102.1,283.8 104.1,279.6 105.9,264.1 108.4,295.7 110.2,286.9 112.1,288.0 114.3,291.7 117.1,298.1 119.6,290.8 122.2,290.2 124.3,277.6 125.9,271.3 127.4,281.2 129.3,294.0 131.2,296.2 133.0,289.5 134.3,302.7 135.8,277.1 137.7,301.9 140.1,258.1 142.0,284.2 144.3,300.1 146.1,286.6 148.4,287.9 150.8,288.1 152.7,293.8 154.5,291.4 156.4,286.6 158.3,295.8 159.8,285.5 161.1,271.3 162.5,225.2 163.3,280.5 164.4,310.0 165.7,300.3 167.6,296.8 169.5,285.2 170.8,285.1 172.1,304.6 174.2,279.5 176.4,255.7 178.5,278.1 180.6,289.4 182.7,292.6 184.8,295.6 186.5,288.9 188.4,303.7 190.6,285.5 192.7,299.7 194.8,252.2 196.9,304.1 198.6,285.9 200.7,305.5 202.8,276.9 204.5,272.9 206.6,333.2 208.6,243.2 210.7,283.3 212.4,292.5 214.5,287.8 217.2,310.8 218.7,268.2 220.4,287.3 222.5,287.9 224.7,298.9 226.8,297.2 228.9,279.8 231.2,254.4 233.1,292.1 235.7,292.5 237.8,288.2 241.0,296.8 243.1,294.9" fill="none" stroke="#e8714a" stroke-width="0.9" stroke-linejoin="round" stroke-dasharray="2.2 1.4"/>
</g>
<rect x="44.50" y="318.50" width="140.00" height="41.30" fill="#fff" stroke="#8c8c8c" stroke-width="0.8"/>
<line x1="47.00" y1="326.30" x2="65.50" y2="326.30" stroke="#78b4e4" stroke-width="1.0"/>
<line x1="47.00" y1="339.60" x2="65.50" y2="339.60" stroke="#f29a7c" stroke-width="1.0" stroke-dasharray="2.6 1.8"/>
<line x1="47.00" y1="352.60" x2="65.50" y2="352.60" stroke="#b4d890" stroke-width="1.0" stroke-dasharray="2.6 1.2 0.8 1.2"/>
<text x="67.50" y="330.20" font-size="10.5" text-anchor="start" fill="#111">Raw signal</text>
<text x="67.50" y="343.60" font-size="10.5" text-anchor="start" fill="#111">Denoised signal</text>
<text x="67.50" y="356.70" font-size="10.5" text-anchor="start" fill="#111">Difference between them</text>
<rect x="325.60" y="212.50" width="204.90" height="151.20" fill="none" stroke="#8c8c8c" stroke-width="1"/>
<line x1="366.58" y1="363.70" x2="366.58" y2="361.40" stroke="#8c8c8c" stroke-width="0.8"/>
<line x1="366.58" y1="212.50" x2="366.58" y2="214.80" stroke="#8c8c8c" stroke-width="0.8"/>
<line x1="407.56" y1="363.70" x2="407.56" y2="361.40" stroke="#8c8c8c" stroke-width="0.8"/>
<line x1="407.56" y1="212.50" x2="407.56" y2="214.80" stroke="#8c8c8c" stroke-width="0.8"/>
<line x1="448.54" y1="363.70" x2="448.54" y2="361.40" stroke="#8c8c8c" stroke-width="0.8"/>
<line x1="448.54" y1="212.50" x2="448.54" y2="214.80" stroke="#8c8c8c" stroke-width="0.8"/>
<line x1="489.52" y1="363.70" x2="489.52" y2="361.40" stroke="#8c8c8c" stroke-width="0.8"/>
<line x1="489.52" y1="212.50" x2="489.52" y2="214.80" stroke="#8c8c8c" stroke-width="0.8"/>
<line x1="325.60" y1="320.77" x2="327.90" y2="320.77" stroke="#8c8c8c" stroke-width="0.8"/>
<line x1="530.50" y1="320.77" x2="528.20" y2="320.77" stroke="#8c8c8c" stroke-width="0.8"/>
<line x1="325.60" y1="277.53" x2="327.90" y2="277.53" stroke="#8c8c8c" stroke-width="0.8"/>
<line x1="530.50" y1="277.53" x2="528.20" y2="277.53" stroke="#8c8c8c" stroke-width="0.8"/>
<line x1="325.60" y1="234.30" x2="327.90" y2="234.30" stroke="#8c8c8c" stroke-width="0.8"/>
<line x1="530.50" y1="234.30" x2="528.20" y2="234.30" stroke="#8c8c8c" stroke-width="0.8"/>
<text x="321.20" y="369.01" font-size="11.2" text-anchor="end" fill="#262626">0.06</text>
<text x="321.20" y="325.78" font-size="11.2" text-anchor="end" fill="#262626">0.08</text>
<text x="321.20" y="282.54" font-size="11.2" text-anchor="end" fill="#262626">0.1</text>
<text x="321.20" y="239.31" font-size="11.2" text-anchor="end" fill="#262626">0.12</text>
<text x="325.60" y="379.61" font-size="11.2" text-anchor="middle" fill="#262626">8</text>
<text x="366.58" y="379.61" font-size="11.2" text-anchor="middle" fill="#262626">8.02</text>
<text x="407.56" y="379.61" font-size="11.2" text-anchor="middle" fill="#262626">8.04</text>
<text x="448.54" y="379.61" font-size="11.2" text-anchor="middle" fill="#262626">8.06</text>
<text x="489.52" y="379.61" font-size="11.2" text-anchor="middle" fill="#262626">8.08</text>
<text x="530.50" y="379.61" font-size="11.2" text-anchor="middle" fill="#262626">8.1</text>
<text x="428.05" y="395.50" font-size="12.6" text-anchor="middle" fill="#262626">Distance (km)</text>
<text transform="translate(300.8,289.5) rotate(-90)" font-size="12.6" text-anchor="middle" fill="#262626">STD</text>
<text x="533.60" y="214.30" font-size="11.6" text-anchor="start" fill="#262626">(d)</text>
<polyline points="325.9,300.0 327.4,314.8 329.5,244.5 331.6,319.3 333.4,269.9 335.5,308.8 337.6,289.4 340.0,286.4 342.1,287.9 346.0,252.0 347.8,323.8 349.9,275.9 352.0,314.8 354.0,287.9 356.1,307.3 357.9,280.4 360.3,305.8 362.1,284.9 366.3,323.8 370.5,278.9 372.3,305.8 374.4,242.4 376.5,308.8 378.3,259.4 380.7,305.8 382.8,262.4 384.6,283.4 386.7,274.4 388.8,302.9 390.9,250.5 393.9,260.9 395.4,262.4 397.2,331.3 399.3,301.4 401.5,301.4 403.6,271.4 405.4,311.8 407.5,231.0 409.6,320.8 411.4,250.5 413.5,316.3 415.6,283.4 417.4,319.3 419.5,277.4 421.6,314.8 424.0,292.4 426.0,290.9 427.8,302.9 429.9,331.3 432.0,283.4 434.1,346.3 435.9,286.4 438.0,332.8 440.1,290.9 441.9,308.8 444.3,289.4 446.4,317.8 448.5,296.9 450.9,292.4 452.7,281.9 454.8,346.3 456.9,311.8 458.7,311.8 460.8,281.9 462.9,311.8 464.7,304.3 466.5,314.8 468.9,278.9 471.3,305.8 473.5,283.4 475.4,307.3 477.2,297.5 479.5,332.8 481.4,257.9 483.5,313.3 485.0,302.9 487.4,320.8 490.4,313.3 494.0,304.3 495.4,319.3 497.8,278.9 499.9,311.8 502.9,316.3 505.3,328.3 507.4,301.4 509.8,296.9 511.9,297.5 514.3,329.8 516.4,287.9 518.5,281.9 520.3,320.8 522.4,277.4 524.5,343.3 526.3,269.9 528.1,332.8 529.7,286.4" fill="none" stroke="#4d9bd8" stroke-width="0.9" stroke-linejoin="round"/>
</svg>
</body></html>
